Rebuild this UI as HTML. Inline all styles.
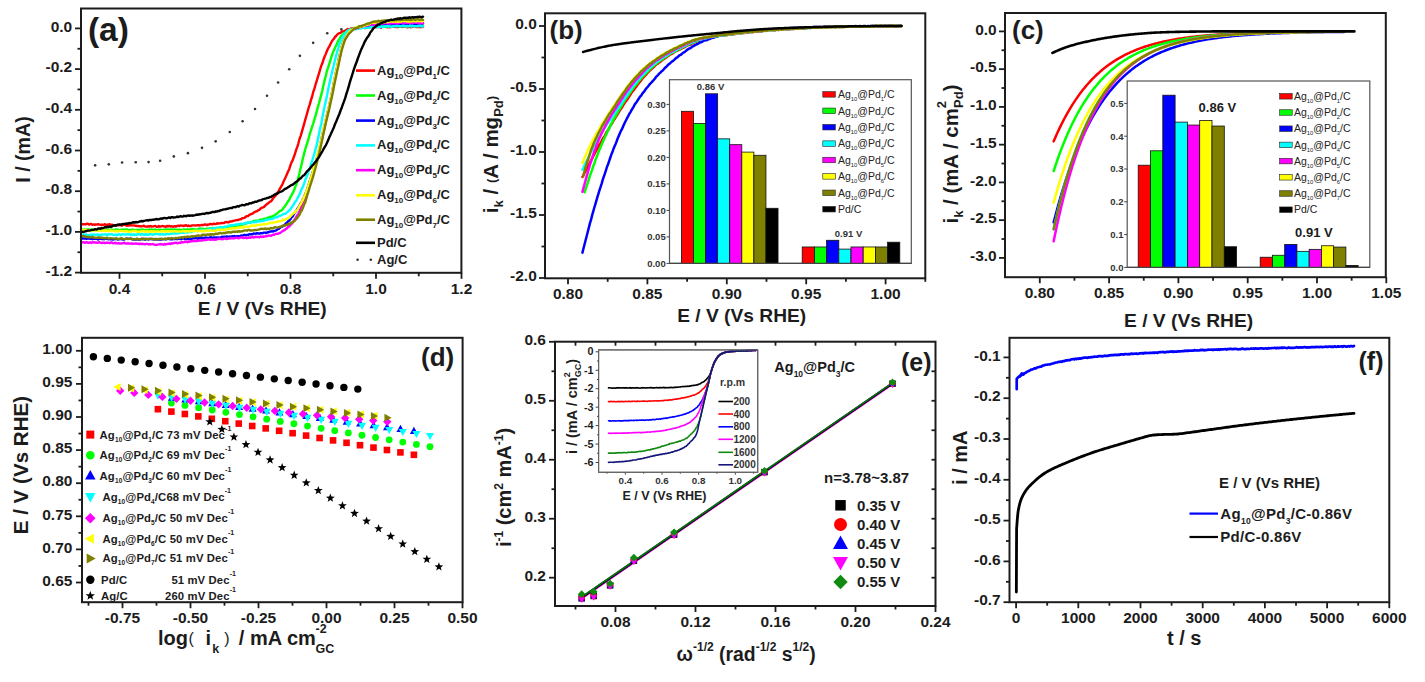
<!DOCTYPE html>
<html><head><meta charset="utf-8"><style>
html,body{margin:0;padding:0;background:#fff;}
svg{display:block;font-family:"Liberation Sans",sans-serif;}
</style></head><body>
<svg width="1425" height="682" viewBox="0 0 1425 682">
<rect width="1425" height="682" fill="#fff"/>
<circle cx="95.13" cy="165.36" r="1.3" fill="#333"/>
<circle cx="108.81" cy="164.34" r="1.3" fill="#333"/>
<circle cx="122.06" cy="162.51" r="1.3" fill="#333"/>
<circle cx="135.75" cy="162.3" r="1.3" fill="#333"/>
<circle cx="148.57" cy="162.1" r="1.3" fill="#333"/>
<circle cx="160.11" cy="160.68" r="1.3" fill="#333"/>
<circle cx="173.79" cy="156.4" r="1.3" fill="#333"/>
<circle cx="187.9" cy="153.15" r="1.3" fill="#333"/>
<circle cx="202.01" cy="147.85" r="1.3" fill="#333"/>
<circle cx="215.69" cy="141.34" r="1.3" fill="#333"/>
<circle cx="229.8" cy="131.98" r="1.3" fill="#333"/>
<circle cx="242.62" cy="121.2" r="1.3" fill="#333"/>
<circle cx="255.02" cy="108.99" r="1.3" fill="#333"/>
<circle cx="266.99" cy="95.76" r="1.3" fill="#333"/>
<circle cx="278.1" cy="82.53" r="1.3" fill="#333"/>
<circle cx="289.22" cy="69.3" r="1.3" fill="#333"/>
<circle cx="299.9" cy="55.87" r="1.3" fill="#333"/>
<circle cx="313.16" cy="42.85" r="1.3" fill="#333"/>
<circle cx="327.26" cy="33.28" r="1.3" fill="#333"/>
<circle cx="341.37" cy="29.42" r="1.3" fill="#333"/>
<circle cx="354.62" cy="27.99" r="1.3" fill="#333"/>
<circle cx="367.88" cy="27.59" r="1.3" fill="#333"/>
<circle cx="381.13" cy="27.59" r="1.3" fill="#333"/>
<path d="M81.02,223.9 L82.17,224.23 L83.31,224.07 L84.46,224.32 L85.6,224.36 L86.74,223.82 L87.89,223.79 L89.03,224.63 L90.18,224.07 L91.32,224.07 L92.46,224.85 L93.61,224.35 L94.75,224.74 L95.89,224.4 L97.04,224.58 L98.18,224.12 L99.33,224.63 L100.47,224.89 L101.61,224.57 L102.76,224.81 L103.9,224.77 L105.05,224.18 L106.19,224.91 L107.33,224.76 L108.48,224.5 L109.62,224.26 L110.76,225.12 L111.91,224.76 L113.05,225.03 L114.2,225.22 L115.34,225.09 L116.48,225.32 L117.63,224.83 L118.77,225.26 L119.91,224.94 L121.06,225.46 L122.2,225.44 L123.35,224.7 L124.49,224.78 L125.63,224.91 L126.78,225.7 L127.92,225.22 L129.07,225.46 L130.21,225.19 L131.35,225.45 L132.5,225.38 L133.64,225.4 L134.78,225.69 L135.93,225.74 L137.07,226.12 L138.22,225.95 L139.36,226.25 L140.5,226.23 L141.65,226.42 L142.79,226.15 L143.93,225.69 L145.08,226.44 L146.22,226.59 L147.37,226.57 L148.51,226.27 L149.65,226.46 L150.8,225.99 L151.94,226.64 L153.09,226.41 L154.23,226.14 L155.37,225.94 L156.52,226.74 L157.66,226.89 L158.8,225.99 L159.95,226.71 L161.09,226.31 L162.24,226.05 L163.38,226.18 L164.52,226.65 L165.67,226.74 L166.81,225.89 L167.95,226.45 L169.1,225.86 L170.24,226.51 L171.39,226.09 L172.53,226.62 L173.67,226.69 L174.82,226.18 L175.96,226.64 L177.11,225.92 L178.25,225.65 L179.39,226.13 L180.54,225.52 L181.68,225.64 L182.82,225.81 L183.97,225.97 L185.11,225.47 L186.26,225.3 L187.4,226.08 L188.54,225.47 L189.69,226.06 L190.83,225.95 L191.97,225.37 L193.12,225.4 L194.26,225.4 L195.41,225.46 L196.55,225.35 L197.69,225.25 L198.84,225.25 L199.98,225.51 L201.13,225.01 L202.27,224.87 L203.41,225.09 L204.56,224.54 L205.7,224.54 L206.84,225.14 L207.99,224.6 L209.13,224.54 L210.28,223.91 L211.42,224.21 L212.56,224.27 L213.71,223.59 L214.85,224.07 L215.99,223.95 L217.14,223.25 L218.28,223.67 L219.43,223.36 L220.57,223.42 L221.71,222.93 L222.86,223.11 L224,222.97 L225.15,222.07 L226.29,221.91 L227.43,222.33 L228.58,222.41 L229.72,221.49 L230.86,221.47 L232.01,221.38 L233.15,220.87 L234.3,220.68 L235.44,220.37 L236.58,220.17 L237.73,220.14 L238.87,219.56 L240.01,219.3 L241.16,219.29 L242.3,218.09 L243.45,218.13 L244.59,217.77 L245.73,216.78 L246.88,216.12 L248.02,216.12 L249.17,214.97 L250.31,214.35 L251.45,214.01 L252.6,213.68 L253.74,212.46 L254.88,212.04 L256.03,211.39 L257.17,211.21 L258.32,210.12 L259.46,209.82 L260.6,208.4 L261.75,207.83 L262.89,207.4 L264.04,206.87 L265.18,205.64 L266.32,204.58 L267.47,203.6 L268.61,203.08 L269.75,201.75 L270.9,201.29 L272.04,200.14 L273.19,198.2 L274.33,196.89 L275.47,195.93 L276.62,194.18 L277.76,192.67 L278.9,190.46 L280.05,188.31 L281.19,186.36 L282.34,184.6 L283.48,181.72 L284.62,179.35 L285.77,176.89 L286.91,174.26 L288.06,171.52 L289.2,169.22 L290.34,165.56 L291.49,162.43 L292.63,160.31 L293.77,157.12 L294.92,154.03 L296.06,150.17 L297.21,147.19 L298.35,143.52 L299.49,139.07 L300.64,135.79 L301.78,132.06 L302.92,128.08 L304.07,124.07 L305.21,119.91 L306.36,115.99 L307.5,111.9 L308.64,107.76 L309.79,104.33 L310.93,100.12 L312.08,96.74 L313.22,92.01 L314.36,88.89 L315.51,84.72 L316.65,81.06 L317.79,77.23 L318.94,73.58 L320.08,69.77 L321.23,65.88 L322.37,63.31 L323.51,59.49 L324.66,56.49 L325.8,53.87 L326.94,50.97 L328.09,48.36 L329.23,46.68 L330.38,44.29 L331.52,42.02 L332.66,40.05 L333.81,38.94 L334.95,37.02 L336.1,36.02 L337.24,34.57 L338.38,33.61 L339.53,33.21 L340.67,32.79 L341.81,31.5 L342.96,31.53 L344.1,31.13 L345.25,30.55 L346.39,30.15 L347.53,29 L348.68,29.35 L349.82,29.39 L350.96,28.43 L352.11,28.5 L353.25,28.37 L354.4,28.5 L355.54,28.27 L356.68,28.21 L357.83,28.4 L358.97,27.53 L360.12,27.48 L361.26,27.47 L362.4,27.38 L363.55,27.25 L364.69,28.08 L365.83,27.89 L366.98,27.06 L368.12,27.43 L369.27,27.19 L370.41,27.14 L371.55,27.14 L372.7,27.4 L373.84,27.31 L374.98,27.06 L376.13,26.87 L377.27,26.99 L378.42,26.76 L379.56,27.18 L380.7,27.32 L381.85,26.97 L382.99,26.65 L384.14,26.73 L385.28,26.91 L386.42,27.13 L387.57,27.29 L388.71,26.87 L389.85,27.28 L391,27.09 L392.14,26.88 L393.29,26.81 L394.43,26.92 L395.57,27.12 L396.72,26.82 L397.86,27.09 L399,26.84 L400.15,26.62 L401.29,26.9 L402.44,27.05 L403.58,26.42 L404.72,26.76 L405.87,26.75 L407.01,27.2 L408.16,27.25 L409.3,26.68 L410.44,27.2 L411.59,27.09 L412.73,26.55 L413.87,26.75 L415.02,26.41 L416.16,27.09 L417.31,26.94 L418.45,27.16 L419.59,27.07 L420.74,26.94 L421.88,27.01 L423.03,26.84" fill="none" stroke="#ff0000" stroke-width="2.4" stroke-linejoin="round" stroke-linecap="round"/>
<path d="M81.02,229.47 L82.17,229.95 L83.31,229.37 L84.46,229.51 L85.6,230.14 L86.74,229.41 L87.89,229.46 L89.03,229.46 L90.18,230.25 L91.32,229.54 L92.46,229.39 L93.61,230.21 L94.75,229.49 L95.89,230.21 L97.04,230.04 L98.18,230.2 L99.33,230.32 L100.47,229.94 L101.61,230.16 L102.76,229.4 L103.9,230.13 L105.05,229.88 L106.19,230.08 L107.33,229.47 L108.48,230.11 L109.62,230.3 L110.76,229.43 L111.91,229.69 L113.05,229.93 L114.2,230.19 L115.34,229.61 L116.48,229.54 L117.63,229.61 L118.77,229.98 L119.91,230.12 L121.06,229.76 L122.2,229.73 L123.35,229.76 L124.49,229.72 L125.63,229.78 L126.78,229.45 L127.92,229.87 L129.07,230.34 L130.21,229.78 L131.35,230.11 L132.5,229.53 L133.64,230.06 L134.78,230.12 L135.93,230.04 L137.07,229.88 L138.22,229.85 L139.36,230.01 L140.5,230.26 L141.65,229.51 L142.79,229.46 L143.93,230.11 L145.08,230.28 L146.22,229.88 L147.37,229.81 L148.51,230.08 L149.65,229.55 L150.8,229.63 L151.94,229.56 L153.09,229.95 L154.23,229.68 L155.37,229.6 L156.52,230.06 L157.66,230.32 L158.8,229.66 L159.95,230.07 L161.09,229.77 L162.24,230.21 L163.38,229.93 L164.52,229.61 L165.67,229.55 L166.81,229.34 L167.95,229.79 L169.1,229.68 L170.24,229.45 L171.39,229.63 L172.53,229.57 L173.67,230 L174.82,229.35 L175.96,230.18 L177.11,229.65 L178.25,229.74 L179.39,229.59 L180.54,229.93 L181.68,229.89 L182.82,229.6 L183.97,229.5 L185.11,229.71 L186.26,229.81 L187.4,229.32 L188.54,229.63 L189.69,229.82 L190.83,229.29 L191.97,229.02 L193.12,228.99 L194.26,229.44 L195.41,229.36 L196.55,229.6 L197.69,229.46 L198.84,228.81 L199.98,228.72 L201.13,228.75 L202.27,228.63 L203.41,229.11 L204.56,229.22 L205.7,229.22 L206.84,228.53 L207.99,229.08 L209.13,228.47 L210.28,228.51 L211.42,228.75 L212.56,228.03 L213.71,227.95 L214.85,228.61 L215.99,227.97 L217.14,227.94 L218.28,228.06 L219.43,228.05 L220.57,227.26 L221.71,227.47 L222.86,227.45 L224,227.37 L225.15,226.96 L226.29,227.2 L227.43,227.43 L228.58,226.72 L229.72,226.72 L230.86,226.14 L232.01,226.13 L233.15,226.36 L234.3,225.64 L235.44,226.24 L236.58,226.08 L237.73,225.09 L238.87,225.74 L240.01,224.94 L241.16,225.06 L242.3,224.73 L243.45,223.93 L244.59,223.95 L245.73,223.57 L246.88,223.36 L248.02,222.47 L249.17,222.62 L250.31,222.52 L251.45,221.94 L252.6,221.53 L253.74,220.85 L254.88,220.98 L256.03,220.6 L257.17,220.72 L258.32,220.45 L259.46,220.1 L260.6,219.47 L261.75,219.68 L262.89,219.4 L264.04,218.68 L265.18,219.09 L266.32,218.55 L267.47,217.68 L268.61,218.13 L269.75,216.95 L270.9,216.72 L272.04,216.63 L273.19,215.97 L274.33,215.33 L275.47,214.76 L276.62,213.84 L277.76,212.92 L278.9,211.94 L280.05,210.93 L281.19,210.6 L282.34,209.52 L283.48,208.02 L284.62,206.77 L285.77,204.82 L286.91,203.04 L288.06,201.37 L289.2,200 L290.34,197.24 L291.49,195.61 L292.63,193.07 L293.77,191.09 L294.92,187.93 L296.06,184.92 L297.21,181.5 L298.35,177.55 L299.49,173.26 L300.64,168.07 L301.78,163.71 L302.92,158.22 L304.07,153.87 L305.21,149.54 L306.36,145.53 L307.5,142.27 L308.64,138.38 L309.79,134.04 L310.93,130.3 L312.08,126.79 L313.22,123.37 L314.36,119.67 L315.51,115.79 L316.65,111.75 L317.79,107.34 L318.94,103.51 L320.08,99.09 L321.23,94.92 L322.37,90.19 L323.51,84.93 L324.66,80.11 L325.8,75.96 L326.94,70.84 L328.09,67.68 L329.23,64.02 L330.38,60.47 L331.52,56.46 L332.66,53.4 L333.81,50.44 L334.95,47.79 L336.1,45.7 L337.24,43.05 L338.38,40.41 L339.53,38.92 L340.67,36.75 L341.81,35.42 L342.96,34.49 L344.1,32.87 L345.25,32.81 L346.39,31.93 L347.53,31.07 L348.68,30.47 L349.82,29.85 L350.96,29.1 L352.11,29.03 L353.25,28.21 L354.4,28.44 L355.54,28.41 L356.68,28.04 L357.83,28 L358.97,28.25 L360.12,28.04 L361.26,27.15 L362.4,27.69 L363.55,27.41 L364.69,26.73 L365.83,26.95 L366.98,26.73 L368.12,26.5 L369.27,26.89 L370.41,27.21 L371.55,26.55 L372.7,27.05 L373.84,26.83 L374.98,26.23 L376.13,26.92 L377.27,26.64 L378.42,26.94 L379.56,26.7 L380.7,26.7 L381.85,26.27 L382.99,26.71 L384.14,26.81 L385.28,26.72 L386.42,26.27 L387.57,26.57 L388.71,26.28 L389.85,25.88 L391,25.79 L392.14,25.81 L393.29,25.91 L394.43,25.85 L395.57,26.17 L396.72,26.36 L397.86,26.18 L399,26.05 L400.15,26.26 L401.29,25.9 L402.44,26.05 L403.58,26.32 L404.72,25.96 L405.87,25.72 L407.01,26.43 L408.16,26.24 L409.3,25.88 L410.44,25.88 L411.59,26.03 L412.73,26.09 L413.87,25.71 L415.02,25.48 L416.16,25.68 L417.31,26.25 L418.45,25.61 L419.59,25.92 L420.74,25.65 L421.88,25.67 L423.03,25.63" fill="none" stroke="#00ff00" stroke-width="2.4" stroke-linejoin="round" stroke-linecap="round"/>
<path d="M81.02,238.72 L82.17,238.51 L83.31,238.38 L84.46,238.48 L85.6,238.56 L86.74,238.89 L87.89,238.48 L89.03,238.46 L90.18,238.9 L91.32,238.87 L92.46,239.18 L93.61,238.54 L94.75,238.9 L95.89,238.91 L97.04,238.55 L98.18,239.5 L99.33,238.76 L100.47,238.65 L101.61,239.04 L102.76,238.74 L103.9,239.21 L105.05,238.94 L106.19,238.73 L107.33,238.66 L108.48,239.35 L109.62,238.9 L110.76,239.42 L111.91,239.1 L113.05,239.58 L114.2,238.95 L115.34,238.91 L116.48,238.93 L117.63,239.48 L118.77,239.3 L119.91,239.02 L121.06,238.77 L122.2,239.37 L123.35,239.66 L124.49,239.28 L125.63,238.7 L126.78,238.73 L127.92,238.79 L129.07,238.87 L130.21,238.74 L131.35,238.76 L132.5,239.37 L133.64,239.61 L134.78,238.92 L135.93,239.69 L137.07,239.19 L138.22,239.52 L139.36,239.64 L140.5,239.66 L141.65,238.76 L142.79,239.03 L143.93,239.33 L145.08,239.67 L146.22,238.81 L147.37,239.02 L148.51,239.58 L149.65,238.84 L150.8,239.12 L151.94,239.06 L153.09,239.41 L154.23,239.65 L155.37,238.9 L156.52,239.47 L157.66,239.46 L158.8,239.56 L159.95,239.28 L161.09,239.64 L162.24,239.07 L163.38,239.12 L164.52,238.92 L165.67,239.46 L166.81,239.14 L167.95,238.92 L169.1,238.8 L170.24,239.33 L171.39,239.19 L172.53,239.27 L173.67,238.93 L174.82,239 L175.96,238.64 L177.11,239.17 L178.25,238.45 L179.39,238.86 L180.54,239.12 L181.68,239.01 L182.82,238.39 L183.97,238.5 L185.11,239.07 L186.26,238.83 L187.4,239.03 L188.54,238.98 L189.69,238.52 L190.83,238.93 L191.97,238.72 L193.12,238.28 L194.26,238.28 L195.41,237.94 L196.55,238.22 L197.69,238.73 L198.84,237.84 L199.98,238.26 L201.13,237.76 L202.27,237.69 L203.41,238.21 L204.56,237.76 L205.7,237.53 L206.84,237.59 L207.99,238.03 L209.13,237.93 L210.28,237.3 L211.42,237.47 L212.56,238.16 L213.71,237.36 L214.85,237.64 L215.99,237.44 L217.14,237.75 L218.28,237.51 L219.43,237.63 L220.57,237.31 L221.71,236.9 L222.86,236.82 L224,236.65 L225.15,237.32 L226.29,236.53 L227.43,236.36 L228.58,237.23 L229.72,236.38 L230.86,236.98 L232.01,236.09 L233.15,236.38 L234.3,236.04 L235.44,236.55 L236.58,236.24 L237.73,236.17 L238.87,236.18 L240.01,236.17 L241.16,235.5 L242.3,235.6 L243.45,235.27 L244.59,234.76 L245.73,235.31 L246.88,234.89 L248.02,234.94 L249.17,234.16 L250.31,234.34 L251.45,234.13 L252.6,234.27 L253.74,233.5 L254.88,233.65 L256.03,233.68 L257.17,233.16 L258.32,233.54 L259.46,233.62 L260.6,233.2 L261.75,233.31 L262.89,233.14 L264.04,232.62 L265.18,232.61 L266.32,233.1 L267.47,232.27 L268.61,232.18 L269.75,231.63 L270.9,231.53 L272.04,231.17 L273.19,231.55 L274.33,230.9 L275.47,230.53 L276.62,230.08 L277.76,229.09 L278.9,228.77 L280.05,227.7 L281.19,226.89 L282.34,226.67 L283.48,225.78 L284.62,224.92 L285.77,223.47 L286.91,222.7 L288.06,221.22 L289.2,220.63 L290.34,219.32 L291.49,217.4 L292.63,216.56 L293.77,214.15 L294.92,212.31 L296.06,211.15 L297.21,208.96 L298.35,207.43 L299.49,205.74 L300.64,203.26 L301.78,201.95 L302.92,199.29 L304.07,197.03 L305.21,194.17 L306.36,191.54 L307.5,188.34 L308.64,184.58 L309.79,181.03 L310.93,177.76 L312.08,174.29 L313.22,170.25 L314.36,166.51 L315.51,163.17 L316.65,159.03 L317.79,155.08 L318.94,150.67 L320.08,145.77 L321.23,140.21 L322.37,134.82 L323.51,129.8 L324.66,124.94 L325.8,120.16 L326.94,115.39 L328.09,110.4 L329.23,105.97 L330.38,100.26 L331.52,94.9 L332.66,89.41 L333.81,83.34 L334.95,77.03 L336.1,71.64 L337.24,66.88 L338.38,60.68 L339.53,55.52 L340.67,50.99 L341.81,46.61 L342.96,42.62 L344.1,39.84 L345.25,37.82 L346.39,36.39 L347.53,34.28 L348.68,33.22 L349.82,31.69 L350.96,30.83 L352.11,29.13 L353.25,28.79 L354.4,28.21 L355.54,28.28 L356.68,27.89 L357.83,27.34 L358.97,27.6 L360.12,26.93 L361.26,26.94 L362.4,26.67 L363.55,27 L364.69,26.39 L365.83,26 L366.98,25.56 L368.12,25.72 L369.27,25.71 L370.41,25.56 L371.55,25.62 L372.7,25.35 L373.84,24.66 L374.98,24.44 L376.13,24.99 L377.27,24.96 L378.42,24.62 L379.56,24.89 L380.7,24.56 L381.85,24.23 L382.99,24.07 L384.14,23.87 L385.28,24.45 L386.42,24.65 L387.57,24.62 L388.71,24.14 L389.85,24.29 L391,24.51 L392.14,24.36 L393.29,24.11 L394.43,23.88 L395.57,23.95 L396.72,23.57 L397.86,23.55 L399,24.02 L400.15,24.3 L401.29,23.83 L402.44,23.66 L403.58,23.58 L404.72,23.66 L405.87,23.98 L407.01,23.61 L408.16,24.1 L409.3,23.28 L410.44,23.42 L411.59,23.61 L412.73,23.49 L413.87,23.91 L415.02,23.88 L416.16,23.97 L417.31,23.65 L418.45,23.06 L419.59,23.6 L420.74,23.57 L421.88,23.5 L423.03,23.3" fill="none" stroke="#0000ff" stroke-width="2.4" stroke-linejoin="round" stroke-linecap="round"/>
<path d="M81.02,234.96 L82.17,235.16 L83.31,234.35 L84.46,234.92 L85.6,234.62 L86.74,234.76 L87.89,235.14 L89.03,235.21 L90.18,234.89 L91.32,234.44 L92.46,235.16 L93.61,234.42 L94.75,234.62 L95.89,235.06 L97.04,234.55 L98.18,234.5 L99.33,235.18 L100.47,235.17 L101.61,234.54 L102.76,234.61 L103.9,234.5 L105.05,234.34 L106.19,234.46 L107.33,235.18 L108.48,234.28 L109.62,234.42 L110.76,234.39 L111.91,234.26 L113.05,234.71 L114.2,234.92 L115.34,235.01 L116.48,234.8 L117.63,234.98 L118.77,234.16 L119.91,234.43 L121.06,235.1 L122.2,234.2 L123.35,234.4 L124.49,234.6 L125.63,234.38 L126.78,234.65 L127.92,234.15 L129.07,234.33 L130.21,235.04 L131.35,234.22 L132.5,234.97 L133.64,234.24 L134.78,235.05 L135.93,234.72 L137.07,234.68 L138.22,234.17 L139.36,234.07 L140.5,234.77 L141.65,234.17 L142.79,234.18 L143.93,234.8 L145.08,234.84 L146.22,234.01 L147.37,234.91 L148.51,234.47 L149.65,234.31 L150.8,234.02 L151.94,234.29 L153.09,234.88 L154.23,234.16 L155.37,234 L156.52,234 L157.66,233.97 L158.8,234.18 L159.95,234.72 L161.09,233.86 L162.24,233.94 L163.38,234.64 L164.52,234.65 L165.67,234.57 L166.81,233.78 L167.95,233.82 L169.1,234.34 L170.24,233.79 L171.39,233.93 L172.53,233.45 L173.67,233.06 L174.82,233.28 L175.96,233.58 L177.11,233.51 L178.25,233.18 L179.39,232.96 L180.54,232.91 L181.68,232.69 L182.82,232.66 L183.97,232.83 L185.11,232.06 L186.26,232.32 L187.4,232.52 L188.54,232.3 L189.69,231.49 L190.83,232.13 L191.97,231.86 L193.12,231.05 L194.26,231 L195.41,230.79 L196.55,230.49 L197.69,231.27 L198.84,230.56 L199.98,230.87 L201.13,229.97 L202.27,229.72 L203.41,230.43 L204.56,230.21 L205.7,230.27 L206.84,229.81 L207.99,229.49 L209.13,229.57 L210.28,228.73 L211.42,229 L212.56,228.72 L213.71,228.23 L214.85,228.5 L215.99,228.02 L217.14,228.01 L218.28,227.67 L219.43,227.41 L220.57,227.24 L221.71,227.28 L222.86,227.44 L224,227.19 L225.15,226.9 L226.29,226.66 L227.43,225.9 L228.58,226.37 L229.72,225.46 L230.86,225.1 L232.01,225.27 L233.15,225.29 L234.3,224.7 L235.44,224.8 L236.58,224.24 L237.73,224.74 L238.87,224.03 L240.01,223.88 L241.16,223.76 L242.3,223.93 L243.45,223.88 L244.59,223.26 L245.73,223.02 L246.88,223.04 L248.02,222.34 L249.17,222.54 L250.31,222.82 L251.45,222.6 L252.6,221.73 L253.74,222.37 L254.88,221.74 L256.03,222.18 L257.17,221.4 L258.32,221.08 L259.46,221.24 L260.6,221.4 L261.75,220.76 L262.89,221 L264.04,220.64 L265.18,220.07 L266.32,219.79 L267.47,219.76 L268.61,219.41 L269.75,219.13 L270.9,219.13 L272.04,219.07 L273.19,218.47 L274.33,217.7 L275.47,217.43 L276.62,217.2 L277.76,217.03 L278.9,216.12 L280.05,215.58 L281.19,215.31 L282.34,214.73 L283.48,213.89 L284.62,213.76 L285.77,213.47 L286.91,212.29 L288.06,211.52 L289.2,210.47 L290.34,209.18 L291.49,207.82 L292.63,205.81 L293.77,204.42 L294.92,202.14 L296.06,201.14 L297.21,198.72 L298.35,196.65 L299.49,194.67 L300.64,191.5 L301.78,188.72 L302.92,186.6 L304.07,183.58 L305.21,180.22 L306.36,177.22 L307.5,174.52 L308.64,171.03 L309.79,168.59 L310.93,164.53 L312.08,161.05 L313.22,157.43 L314.36,153.63 L315.51,149.34 L316.65,144.88 L317.79,139.89 L318.94,134.35 L320.08,128.49 L321.23,123.72 L322.37,117.72 L323.51,111.43 L324.66,106.21 L325.8,101.12 L326.94,96.06 L328.09,89.73 L329.23,84.26 L330.38,79.4 L331.52,74.2 L332.66,69.81 L333.81,65.19 L334.95,60.13 L336.1,55.7 L337.24,51.54 L338.38,47.87 L339.53,43.71 L340.67,41.07 L341.81,38.49 L342.96,36.9 L344.1,34.32 L345.25,33.52 L346.39,31.74 L347.53,30.84 L348.68,29.86 L349.82,29.66 L350.96,29.6 L352.11,29.74 L353.25,29.21 L354.4,28.77 L355.54,29.31 L356.68,28.84 L357.83,28.56 L358.97,28.09 L360.12,28.04 L361.26,28.49 L362.4,27.58 L363.55,27.84 L364.69,27.79 L365.83,27.39 L366.98,27.68 L368.12,27.7 L369.27,27.54 L370.41,27.32 L371.55,26.7 L372.7,26.48 L373.84,26.79 L374.98,26.62 L376.13,26.46 L377.27,27.11 L378.42,26.43 L379.56,27.01 L380.7,27.09 L381.85,26.25 L382.99,27.02 L384.14,26.48 L385.28,26.27 L386.42,26.22 L387.57,26.05 L388.71,26.49 L389.85,26.35 L391,26.8 L392.14,26.76 L393.29,25.96 L394.43,26.29 L395.57,26.26 L396.72,26.03 L397.86,26.09 L399,26.08 L400.15,26.5 L401.29,26.13 L402.44,25.89 L403.58,25.99 L404.72,26.2 L405.87,26.31 L407.01,25.98 L408.16,26.42 L409.3,25.93 L410.44,26.38 L411.59,26.31 L412.73,25.87 L413.87,26.44 L415.02,26.07 L416.16,26.21 L417.31,26.27 L418.45,26.3 L419.59,26.11 L420.74,25.72 L421.88,26.45 L423.03,26.52" fill="none" stroke="#00ffff" stroke-width="2.4" stroke-linejoin="round" stroke-linecap="round"/>
<path d="M81.02,242.27 L82.17,242.37 L83.31,242.08 L84.46,242.73 L85.6,242.53 L86.74,242.08 L87.89,242.7 L89.03,242.89 L90.18,242.27 L91.32,242.94 L92.46,242.45 L93.61,242.16 L94.75,242.72 L95.89,242.37 L97.04,242.78 L98.18,242.66 L99.33,242.21 L100.47,242.65 L101.61,243 L102.76,242.65 L103.9,242.74 L105.05,243.09 L106.19,242.7 L107.33,242.77 L108.48,242.89 L109.62,243.16 L110.76,242.57 L111.91,242.49 L113.05,243.18 L114.2,243.01 L115.34,242.78 L116.48,243.4 L117.63,243.43 L118.77,243.11 L119.91,243.59 L121.06,243.47 L122.2,243.42 L123.35,243.01 L124.49,242.77 L125.63,243.48 L126.78,243.59 L127.92,243.26 L129.07,243.44 L130.21,243.58 L131.35,243.32 L132.5,243.82 L133.64,243.74 L134.78,243.62 L135.93,243.4 L137.07,243.91 L138.22,243.73 L139.36,244.19 L140.5,243.69 L141.65,243.97 L142.79,243.82 L143.93,244.08 L145.08,244.3 L146.22,243.87 L147.37,243.86 L148.51,244.33 L149.65,244.09 L150.8,244.42 L151.94,244.11 L153.09,244.07 L154.23,244.53 L155.37,244.93 L156.52,244.88 L157.66,244.53 L158.8,244.41 L159.95,244.06 L161.09,244.23 L162.24,244.21 L163.38,244.76 L164.52,243.86 L165.67,244.59 L166.81,244.01 L167.95,243.86 L169.1,243.56 L170.24,244.13 L171.39,243.22 L172.53,243.46 L173.67,243.26 L174.82,242.8 L175.96,242.68 L177.11,243.3 L178.25,242.96 L179.39,242.77 L180.54,242.8 L181.68,241.87 L182.82,242.36 L183.97,242.29 L185.11,241.66 L186.26,241.78 L187.4,242.18 L188.54,241.42 L189.69,241.74 L190.83,241.02 L191.97,241.41 L193.12,240.89 L194.26,241.02 L195.41,240.77 L196.55,241.15 L197.69,240.92 L198.84,240.57 L199.98,240.65 L201.13,240.29 L202.27,240.56 L203.41,239.92 L204.56,240.12 L205.7,240.07 L206.84,239.79 L207.99,239.36 L209.13,239.4 L210.28,239.79 L211.42,239.28 L212.56,239.75 L213.71,239.41 L214.85,239.78 L215.99,239.6 L217.14,239.4 L218.28,238.97 L219.43,238.57 L220.57,239.01 L221.71,239.13 L222.86,239.23 L224,238.45 L225.15,238.33 L226.29,239.09 L227.43,238.78 L228.58,238.47 L229.72,238.66 L230.86,238.01 L232.01,238.34 L233.15,238.41 L234.3,238.29 L235.44,237.8 L236.58,237.72 L237.73,238.16 L238.87,238.37 L240.01,237.58 L241.16,237.41 L242.3,237.45 L243.45,238.12 L244.59,237.69 L245.73,237.72 L246.88,238.22 L248.02,237.8 L249.17,237.4 L250.31,237.78 L251.45,237.02 L252.6,237.24 L253.74,237.58 L254.88,236.98 L256.03,236.76 L257.17,237.15 L258.32,236.86 L259.46,237.4 L260.6,236.42 L261.75,237.01 L262.89,236.47 L264.04,236.76 L265.18,236.26 L266.32,236.33 L267.47,235.84 L268.61,235.57 L269.75,235.63 L270.9,235.8 L272.04,235.13 L273.19,234.77 L274.33,234.68 L275.47,234.04 L276.62,233.91 L277.76,233.78 L278.9,233.33 L280.05,232.92 L281.19,232.12 L282.34,231.25 L283.48,230.54 L284.62,230.04 L285.77,228.99 L286.91,228.37 L288.06,227.01 L289.2,226.39 L290.34,225.06 L291.49,223.91 L292.63,222.66 L293.77,220.98 L294.92,219.27 L296.06,217.4 L297.21,215.26 L298.35,213.96 L299.49,211.29 L300.64,208.16 L301.78,206.04 L302.92,202.71 L304.07,199.83 L305.21,196.72 L306.36,193.42 L307.5,191.2 L308.64,187.12 L309.79,183.88 L310.93,180.95 L312.08,176.37 L313.22,172.92 L314.36,168.94 L315.51,164.63 L316.65,161.09 L317.79,156.24 L318.94,151.36 L320.08,147.03 L321.23,141.46 L322.37,136.91 L323.51,131.79 L324.66,126.67 L325.8,120.84 L326.94,116.56 L328.09,111.3 L329.23,106.51 L330.38,101.24 L331.52,95.91 L332.66,90.11 L333.81,84.89 L334.95,78.73 L336.1,74.29 L337.24,68.2 L338.38,63.75 L339.53,57.63 L340.67,52.41 L341.81,48.43 L342.96,44.25 L344.1,41.43 L345.25,38.92 L346.39,37 L347.53,34.6 L348.68,33.55 L349.82,31.97 L350.96,31.25 L352.11,29.39 L353.25,28.82 L354.4,28.93 L355.54,28.74 L356.68,27.87 L357.83,27.83 L358.97,27.38 L360.12,26.94 L361.26,26.76 L362.4,26.64 L363.55,25.81 L364.69,25.81 L365.83,25.96 L366.98,25.21 L368.12,25.15 L369.27,24.68 L370.41,24.54 L371.55,24.62 L372.7,24.52 L373.84,24.57 L374.98,23.97 L376.13,23.62 L377.27,23.69 L378.42,23.36 L379.56,23.48 L380.7,23.77 L381.85,23.74 L382.99,23.32 L384.14,23.21 L385.28,23.08 L386.42,23.11 L387.57,23.39 L388.71,23.1 L389.85,23.68 L391,23.32 L392.14,23.06 L393.29,23.11 L394.43,22.68 L395.57,23.34 L396.72,23.33 L397.86,22.91 L399,23.24 L400.15,22.75 L401.29,22.67 L402.44,22.66 L403.58,22.6 L404.72,22.99 L405.87,23 L407.01,23.07 L408.16,22.42 L409.3,23.07 L410.44,22.76 L411.59,22.65 L412.73,22.76 L413.87,22.68 L415.02,22.44 L416.16,22.62 L417.31,22.87 L418.45,22.93 L419.59,23.12 L420.74,22.4 L421.88,23.09 L423.03,23" fill="none" stroke="#ff00ff" stroke-width="2.4" stroke-linejoin="round" stroke-linecap="round"/>
<path d="M81.02,230.08 L82.17,230.39 L83.31,229.6 L84.46,230.28 L85.6,230.45 L86.74,229.72 L87.89,230.24 L89.03,230.63 L90.18,230.02 L91.32,230.63 L92.46,230.72 L93.61,230.29 L94.75,230.04 L95.89,230.15 L97.04,230.8 L98.18,230.43 L99.33,230.36 L100.47,230.53 L101.61,231.05 L102.76,230.41 L103.9,230.21 L105.05,231.17 L106.19,230.57 L107.33,230.67 L108.48,231.3 L109.62,230.63 L110.76,230.47 L111.91,231.3 L113.05,230.68 L114.2,230.69 L115.34,231.43 L116.48,230.75 L117.63,231.45 L118.77,230.9 L119.91,230.9 L121.06,230.83 L122.2,231.18 L123.35,231.22 L124.49,231.08 L125.63,231.21 L126.78,231.02 L127.92,231.58 L129.07,231.7 L130.21,231.53 L131.35,231.62 L132.5,230.89 L133.64,231.08 L134.78,231.05 L135.93,231.01 L137.07,231.84 L138.22,231.79 L139.36,231.81 L140.5,231.47 L141.65,231.04 L142.79,231.36 L143.93,231 L145.08,231.85 L146.22,231.22 L147.37,231.25 L148.51,231.91 L149.65,231.17 L150.8,231.9 L151.94,231.29 L153.09,231.65 L154.23,231.1 L155.37,231.89 L156.52,231.39 L157.66,231.34 L158.8,231.65 L159.95,231.59 L161.09,231.24 L162.24,231.11 L163.38,231.56 L164.52,231 L165.67,231.85 L166.81,231.31 L167.95,231.13 L169.1,231.28 L170.24,231.06 L171.39,231.25 L172.53,231.47 L173.67,231.32 L174.82,231.24 L175.96,231.19 L177.11,231.37 L178.25,231.65 L179.39,231.29 L180.54,231.61 L181.68,231.31 L182.82,230.93 L183.97,230.96 L185.11,231.62 L186.26,231.24 L187.4,231.12 L188.54,231.24 L189.69,231.55 L190.83,231.05 L191.97,231.02 L193.12,231 L194.26,230.63 L195.41,231.14 L196.55,231.05 L197.69,231.04 L198.84,230.97 L199.98,230.97 L201.13,231.19 L202.27,230.63 L203.41,231.4 L204.56,230.51 L205.7,231.23 L206.84,230.5 L207.99,231.08 L209.13,230.49 L210.28,230.25 L211.42,230.64 L212.56,230.87 L213.71,230.79 L214.85,230.74 L215.99,230.75 L217.14,229.72 L218.28,229.94 L219.43,229.56 L220.57,230.1 L221.71,229.68 L222.86,229.85 L224,229.78 L225.15,229.86 L226.29,229.41 L227.43,229.48 L228.58,229.02 L229.72,228.42 L230.86,229.1 L232.01,228.16 L233.15,228.02 L234.3,228.63 L235.44,227.95 L236.58,228.2 L237.73,227.43 L238.87,227.48 L240.01,227.84 L241.16,227.02 L242.3,227.34 L243.45,227.6 L244.59,226.71 L245.73,227.04 L246.88,226.91 L248.02,226.61 L249.17,226.59 L250.31,226.36 L251.45,225.51 L252.6,225.53 L253.74,225.72 L254.88,226 L256.03,225.09 L257.17,225.31 L258.32,224.7 L259.46,225.26 L260.6,224.7 L261.75,224.61 L262.89,224.59 L264.04,223.89 L265.18,224.3 L266.32,224.19 L267.47,224.06 L268.61,223.28 L269.75,223.02 L270.9,222.74 L272.04,223.25 L273.19,222.56 L274.33,222.29 L275.47,222.18 L276.62,222.1 L277.76,221.46 L278.9,221.19 L280.05,221.32 L281.19,221 L282.34,220.17 L283.48,219.56 L284.62,220 L285.77,219.36 L286.91,218.7 L288.06,217.87 L289.2,217.68 L290.34,216.31 L291.49,215.15 L292.63,214 L293.77,213.15 L294.92,212.22 L296.06,210.74 L297.21,209.94 L298.35,208.01 L299.49,205.98 L300.64,204.16 L301.78,201.93 L302.92,199.65 L304.07,197.09 L305.21,194.36 L306.36,191.31 L307.5,188.44 L308.64,184.49 L309.79,181.67 L310.93,177.64 L312.08,174.53 L313.22,169.96 L314.36,166.45 L315.51,162.36 L316.65,158.47 L317.79,153.67 L318.94,149.25 L320.08,144.3 L321.23,139.69 L322.37,134.57 L323.51,128.89 L324.66,124.11 L325.8,119.33 L326.94,115.34 L328.09,110.05 L329.23,105.25 L330.38,99.87 L331.52,94.75 L332.66,89.08 L333.81,83.05 L334.95,76.69 L336.1,71.85 L337.24,66.6 L338.38,60.75 L339.53,56.22 L340.67,50.8 L341.81,46.38 L342.96,43.08 L344.1,40.37 L345.25,38.13 L346.39,36.53 L347.53,34.43 L348.68,32.7 L349.82,31.1 L350.96,30.51 L352.11,29.5 L353.25,29.07 L354.4,28.37 L355.54,27.6 L356.68,27.26 L357.83,27.04 L358.97,26.67 L360.12,27.14 L361.26,26.58 L362.4,25.92 L363.55,26.05 L364.69,25.6 L365.83,24.63 L366.98,24.91 L368.12,23.97 L369.27,24.34 L370.41,23.1 L371.55,22.9 L372.7,22.56 L373.84,22.93 L374.98,22.71 L376.13,22.37 L377.27,21.87 L378.42,22.09 L379.56,22.3 L380.7,21.6 L381.85,22.41 L382.99,22.28 L384.14,22.31 L385.28,22.03 L386.42,21.9 L387.57,22.21 L388.71,21.46 L389.85,21.45 L391,21.23 L392.14,21.25 L393.29,21.83 L394.43,21.09 L395.57,21.7 L396.72,21.32 L397.86,21.77 L399,21.62 L400.15,21.52 L401.29,21.65 L402.44,20.83 L403.58,21.03 L404.72,21.11 L405.87,21.15 L407.01,21.37 L408.16,21.56 L409.3,21.4 L410.44,21.58 L411.59,21.33 L412.73,20.98 L413.87,21.12 L415.02,21.35 L416.16,21.41 L417.31,20.96 L418.45,20.94 L419.59,21.19 L420.74,20.8 L421.88,21.46 L423.03,20.57" fill="none" stroke="#ffff00" stroke-width="2.4" stroke-linejoin="round" stroke-linecap="round"/>
<path d="M81.02,236.12 L82.17,236.09 L83.31,235.93 L84.46,236.43 L85.6,236.45 L86.74,237.06 L87.89,237.1 L89.03,236.91 L90.18,237.3 L91.32,237.41 L92.46,236.8 L93.61,237.55 L94.75,237.65 L95.89,237.9 L97.04,237.76 L98.18,237.47 L99.33,237.37 L100.47,237.89 L101.61,237.52 L102.76,238.14 L103.9,238.03 L105.05,238.34 L106.19,237.94 L107.33,237.94 L108.48,238.6 L109.62,238.42 L110.76,238.18 L111.91,238.42 L113.05,238.34 L114.2,238.59 L115.34,238.51 L116.48,238.32 L117.63,239.05 L118.77,238.99 L119.91,238.9 L121.06,238.45 L122.2,238.4 L123.35,238.97 L124.49,239.09 L125.63,238.94 L126.78,238.53 L127.92,239.05 L129.07,238.88 L130.21,238.75 L131.35,238.98 L132.5,238.85 L133.64,239.07 L134.78,239.19 L135.93,239.43 L137.07,238.57 L138.22,239.04 L139.36,239.42 L140.5,239.14 L141.65,239.07 L142.79,239.35 L143.93,238.53 L145.08,239.3 L146.22,239.13 L147.37,239.1 L148.51,238.83 L149.65,239.14 L150.8,238.64 L151.94,239.05 L153.09,238.78 L154.23,239.45 L155.37,239.33 L156.52,239 L157.66,239.28 L158.8,238.9 L159.95,239.03 L161.09,238.65 L162.24,239.32 L163.38,239.19 L164.52,239.14 L165.67,238.41 L166.81,239.09 L167.95,238.22 L169.1,238.7 L170.24,238.55 L171.39,238.04 L172.53,238.31 L173.67,238.68 L174.82,238.32 L175.96,237.91 L177.11,238.3 L178.25,237.73 L179.39,238.16 L180.54,237.55 L181.68,237.1 L182.82,237.87 L183.97,236.85 L185.11,236.9 L186.26,237.29 L187.4,236.5 L188.54,236.8 L189.69,236.99 L190.83,236.58 L191.97,236.21 L193.12,236.49 L194.26,236.42 L195.41,236.05 L196.55,235.97 L197.69,235.53 L198.84,235.49 L199.98,235.95 L201.13,235.81 L202.27,234.72 L203.41,234.8 L204.56,234.72 L205.7,235.18 L206.84,234.48 L207.99,234.33 L209.13,234.82 L210.28,234.11 L211.42,234.8 L212.56,234.16 L213.71,234.49 L214.85,234.29 L215.99,233.56 L217.14,234.02 L218.28,233.53 L219.43,233.22 L220.57,232.92 L221.71,233.46 L222.86,233.2 L224,232.82 L225.15,233.23 L226.29,232.47 L227.43,232.59 L228.58,232.11 L229.72,232.26 L230.86,232.67 L232.01,232.16 L233.15,231.69 L234.3,231.66 L235.44,231.94 L236.58,231.46 L237.73,231.94 L238.87,231 L240.01,231.69 L241.16,231.32 L242.3,231.4 L243.45,230.81 L244.59,230.41 L245.73,230.39 L246.88,230.72 L248.02,230 L249.17,229.97 L250.31,230.52 L251.45,230.51 L252.6,230.38 L253.74,230.25 L254.88,229.87 L256.03,230.09 L257.17,229.81 L258.32,229.57 L259.46,229.33 L260.6,228.83 L261.75,228.79 L262.89,228.84 L264.04,228.94 L265.18,228.49 L266.32,229.21 L267.47,228.69 L268.61,228.72 L269.75,228.73 L270.9,227.91 L272.04,228.41 L273.19,228.32 L274.33,227.46 L275.47,227.14 L276.62,227.62 L277.76,227.51 L278.9,227.2 L280.05,226.58 L281.19,226.53 L282.34,225.77 L283.48,225.6 L284.62,225.47 L285.77,225.46 L286.91,224.43 L288.06,224.83 L289.2,223.41 L290.34,223.77 L291.49,222.37 L292.63,222.21 L293.77,221.39 L294.92,220.63 L296.06,219.16 L297.21,218.2 L298.35,216.24 L299.49,214.92 L300.64,212.09 L301.78,210.56 L302.92,207.83 L304.07,204.68 L305.21,202.47 L306.36,198.38 L307.5,194.43 L308.64,190.82 L309.79,186.81 L310.93,183.29 L312.08,179.87 L313.22,176.23 L314.36,171.86 L315.51,167.96 L316.65,163.68 L317.79,159.19 L318.94,154.32 L320.08,149.42 L321.23,144.13 L322.37,139.09 L323.51,133.26 L324.66,128.44 L325.8,122.96 L326.94,118.38 L328.09,113.61 L329.23,108.93 L330.38,103.56 L331.52,98.49 L332.66,93.33 L333.81,86.99 L334.95,81.59 L336.1,76.27 L337.24,70.48 L338.38,65.71 L339.53,59.97 L340.67,55.09 L341.81,49.84 L342.96,45.84 L344.1,42.37 L345.25,39.42 L346.39,37.66 L347.53,35.85 L348.68,34.06 L349.82,32.79 L350.96,31.78 L352.11,30.62 L353.25,29.79 L354.4,28.43 L355.54,28.4 L356.68,27.8 L357.83,27.65 L358.97,26.29 L360.12,26.06 L361.26,26.48 L362.4,25.49 L363.55,25.42 L364.69,24.87 L365.83,24.22 L366.98,23.8 L368.12,23.47 L369.27,23.46 L370.41,22.59 L371.55,22.47 L372.7,21.66 L373.84,21.8 L374.98,21.49 L376.13,21.51 L377.27,21.56 L378.42,20.68 L379.56,21.49 L380.7,21.06 L381.85,20.64 L382.99,20.77 L384.14,20.33 L385.28,20.4 L386.42,20.95 L387.57,20.76 L388.71,20.85 L389.85,20.09 L391,19.98 L392.14,20.2 L393.29,20.27 L394.43,20.43 L395.57,19.97 L396.72,20.37 L397.86,20.17 L399,19.84 L400.15,20.3 L401.29,19.55 L402.44,20.03 L403.58,19.59 L404.72,19.42 L405.87,19.83 L407.01,19.84 L408.16,19.91 L409.3,19.65 L410.44,20.18 L411.59,20.02 L412.73,19.37 L413.87,19.21 L415.02,20.15 L416.16,19.59 L417.31,19.28 L418.45,19.34 L419.59,19.86 L420.74,19.33 L421.88,19.52 L423.03,19.83" fill="none" stroke="#808000" stroke-width="2.4" stroke-linejoin="round" stroke-linecap="round"/>
<path d="M81.02,231.78 L82.17,231.82 L83.31,231.86 L84.46,231.54 L85.6,231.2 L86.74,231 L87.89,230.54 L89.03,230.61 L90.18,230.41 L91.32,230.15 L92.46,229.87 L93.61,229.87 L94.75,229.23 L95.89,229.43 L97.04,229.43 L98.18,228.47 L99.33,228.43 L100.47,228.8 L101.61,227.85 L102.76,228.22 L103.9,227.81 L105.05,227.17 L106.19,227.39 L107.33,226.67 L108.48,227.12 L109.62,226.45 L110.76,226.73 L111.91,226.48 L113.05,225.66 L114.2,225.65 L115.34,225.24 L116.48,225.51 L117.63,224.78 L118.77,224.56 L119.91,224.4 L121.06,224.8 L122.2,224.12 L123.35,223.99 L124.49,223.91 L125.63,223.8 L126.78,223.51 L127.92,223.75 L129.07,223.09 L130.21,223.01 L131.35,223.14 L132.5,222.47 L133.64,222.24 L134.78,222.59 L135.93,222 L137.07,222.29 L138.22,222.07 L139.36,221.54 L140.5,221.34 L141.65,220.98 L142.79,221.44 L143.93,220.93 L145.08,220.68 L146.22,220.39 L147.37,220.27 L148.51,220.62 L149.65,219.87 L150.8,220.05 L151.94,219.95 L153.09,219.71 L154.23,219.54 L155.37,219.31 L156.52,218.99 L157.66,219.34 L158.8,219.25 L159.95,218.84 L161.09,218.44 L162.24,218.83 L163.38,218.12 L164.52,217.96 L165.67,218.2 L166.81,218.23 L167.95,217.9 L169.1,217.4 L170.24,217.97 L171.39,217.19 L172.53,217.22 L173.67,217.62 L174.82,217.34 L175.96,217.2 L177.11,216.54 L178.25,217.04 L179.39,216.56 L180.54,216.14 L181.68,216.64 L182.82,216.64 L183.97,215.81 L185.11,216.02 L186.26,216.26 L187.4,215.68 L188.54,215.53 L189.69,215.79 L190.83,215.39 L191.97,215.71 L193.12,215.46 L194.26,215.33 L195.41,215.07 L196.55,214.52 L197.69,214.76 L198.84,214.53 L199.98,214.3 L201.13,214.21 L202.27,213.84 L203.41,213.58 L204.56,213.98 L205.7,213.37 L206.84,212.97 L207.99,213.47 L209.13,212.9 L210.28,212.81 L211.42,212.32 L212.56,211.94 L213.71,211.86 L214.85,212.02 L215.99,211.32 L217.14,211.58 L218.28,210.84 L219.43,211.05 L220.57,210.21 L221.71,210.16 L222.86,209.64 L224,209.38 L225.15,209.4 L226.29,209 L227.43,208.86 L228.58,208.33 L229.72,208.13 L230.86,207.86 L232.01,208.05 L233.15,207.12 L234.3,207.12 L235.44,207.21 L236.58,206.72 L237.73,206.2 L238.87,206.54 L240.01,205.58 L241.16,205.36 L242.3,205.02 L243.45,205.11 L244.59,205.2 L245.73,204.48 L246.88,204.23 L248.02,204.36 L249.17,203.5 L250.31,203.15 L251.45,203.34 L252.6,202.53 L253.74,202.51 L254.88,201.82 L256.03,201.8 L257.17,201.6 L258.32,200.89 L259.46,200.36 L260.6,200.27 L261.75,199.97 L262.89,199.1 L264.04,198.9 L265.18,198.66 L266.32,198.4 L267.47,197.84 L268.61,197.75 L269.75,197 L270.9,197.05 L272.04,196.09 L273.19,195.42 L274.33,194.7 L275.47,194.11 L276.62,193.55 L277.76,193.45 L278.9,192.45 L280.05,191.85 L281.19,191.64 L282.34,191.03 L283.48,190.24 L284.62,189.18 L285.77,188.61 L286.91,188.09 L288.06,187.22 L289.2,186.59 L290.34,185.77 L291.49,185.05 L292.63,184.69 L293.77,183.78 L294.92,182.82 L296.06,181.97 L297.21,181.18 L298.35,180.28 L299.49,178.76 L300.64,178.39 L301.78,177.02 L302.92,175.82 L304.07,175.18 L305.21,173.85 L306.36,172.32 L307.5,170.83 L308.64,169.9 L309.79,168.62 L310.93,167.26 L312.08,165.71 L313.22,164.73 L314.36,163.06 L315.51,161.99 L316.65,160.27 L317.79,158.47 L318.94,157.22 L320.08,155.17 L321.23,153.06 L322.37,151.3 L323.51,149.06 L324.66,147.19 L325.8,145.31 L326.94,142.98 L328.09,140.33 L329.23,137.47 L330.38,135.05 L331.52,132.48 L332.66,129.99 L333.81,127.51 L334.95,124.26 L336.1,121.83 L337.24,118.93 L338.38,116.25 L339.53,113.49 L340.67,110.24 L341.81,107.44 L342.96,104.13 L344.1,101.11 L345.25,97.91 L346.39,93.85 L347.53,90.44 L348.68,86.55 L349.82,82.38 L350.96,78.56 L352.11,75.27 L353.25,71.32 L354.4,67.89 L355.54,64.76 L356.68,61.76 L357.83,58.51 L358.97,55.39 L360.12,52.38 L361.26,49.43 L362.4,46.95 L363.55,44.48 L364.69,41.74 L365.83,40.03 L366.98,37.89 L368.12,36.55 L369.27,34.69 L370.41,32.29 L371.55,31.09 L372.7,29.28 L373.84,27.71 L374.98,27.11 L376.13,26.11 L377.27,25.21 L378.42,24.48 L379.56,24.2 L380.7,23.33 L381.85,22.93 L382.99,22.45 L384.14,22.17 L385.28,21.76 L386.42,20.94 L387.57,20.51 L388.71,20.46 L389.85,20.2 L391,19.74 L392.14,19.9 L393.29,19.66 L394.43,19.34 L395.57,19.04 L396.72,19.02 L397.86,18.48 L399,18.84 L400.15,18.17 L401.29,18.67 L402.44,18.32 L403.58,17.93 L404.72,17.74 L405.87,17.96 L407.01,17.75 L408.16,17.84 L409.3,17.27 L410.44,17.8 L411.59,17.36 L412.73,17.3 L413.87,17.47 L415.02,17.3 L416.16,17.12 L417.31,16.95 L418.45,17.05 L419.59,16.67 L420.74,16.83 L421.88,17.27 L423.03,16.7" fill="none" stroke="#000000" stroke-width="2.4" stroke-linejoin="round" stroke-linecap="round"/>
<rect x="81" y="8.5" width="380.4" height="264.3" fill="none" stroke="#1c1c1c" stroke-width="2"/>
<line x1="119.5" y1="272.8" x2="119.5" y2="278.8" stroke="#1c1c1c" stroke-width="1.8"/>
<line x1="205" y1="272.8" x2="205" y2="278.8" stroke="#1c1c1c" stroke-width="1.8"/>
<line x1="290.5" y1="272.8" x2="290.5" y2="278.8" stroke="#1c1c1c" stroke-width="1.8"/>
<line x1="376" y1="272.8" x2="376" y2="278.8" stroke="#1c1c1c" stroke-width="1.8"/>
<line x1="461.5" y1="272.8" x2="461.5" y2="278.8" stroke="#1c1c1c" stroke-width="1.8"/>
<line x1="162.25" y1="272.8" x2="162.25" y2="276.3" stroke="#1c1c1c" stroke-width="1.8"/>
<line x1="247.75" y1="272.8" x2="247.75" y2="276.3" stroke="#1c1c1c" stroke-width="1.8"/>
<line x1="333.25" y1="272.8" x2="333.25" y2="276.3" stroke="#1c1c1c" stroke-width="1.8"/>
<line x1="418.75" y1="272.8" x2="418.75" y2="276.3" stroke="#1c1c1c" stroke-width="1.8"/>
<text x="119.5" y="293.6" font-size="15.5" text-anchor="middle" font-weight="bold" fill="#1c1c1c">0.4</text>
<text x="205" y="293.6" font-size="15.5" text-anchor="middle" font-weight="bold" fill="#1c1c1c">0.6</text>
<text x="290.5" y="293.6" font-size="15.5" text-anchor="middle" font-weight="bold" fill="#1c1c1c">0.8</text>
<text x="376" y="293.6" font-size="15.5" text-anchor="middle" font-weight="bold" fill="#1c1c1c">1.0</text>
<text x="461.5" y="293.6" font-size="15.5" text-anchor="middle" font-weight="bold" fill="#1c1c1c">1.2</text>
<line x1="81" y1="28.4" x2="75" y2="28.4" stroke="#1c1c1c" stroke-width="1.8"/>
<line x1="81" y1="69.1" x2="75" y2="69.1" stroke="#1c1c1c" stroke-width="1.8"/>
<line x1="81" y1="109.8" x2="75" y2="109.8" stroke="#1c1c1c" stroke-width="1.8"/>
<line x1="81" y1="150.5" x2="75" y2="150.5" stroke="#1c1c1c" stroke-width="1.8"/>
<line x1="81" y1="191.2" x2="75" y2="191.2" stroke="#1c1c1c" stroke-width="1.8"/>
<line x1="81" y1="231.9" x2="75" y2="231.9" stroke="#1c1c1c" stroke-width="1.8"/>
<line x1="81" y1="272.6" x2="75" y2="272.6" stroke="#1c1c1c" stroke-width="1.8"/>
<line x1="81" y1="48.75" x2="77.5" y2="48.75" stroke="#1c1c1c" stroke-width="1.8"/>
<line x1="81" y1="89.45" x2="77.5" y2="89.45" stroke="#1c1c1c" stroke-width="1.8"/>
<line x1="81" y1="130.15" x2="77.5" y2="130.15" stroke="#1c1c1c" stroke-width="1.8"/>
<line x1="81" y1="170.85" x2="77.5" y2="170.85" stroke="#1c1c1c" stroke-width="1.8"/>
<line x1="81" y1="211.55" x2="77.5" y2="211.55" stroke="#1c1c1c" stroke-width="1.8"/>
<line x1="81" y1="252.25" x2="77.5" y2="252.25" stroke="#1c1c1c" stroke-width="1.8"/>
<text x="72.2" y="31.65" font-size="15.5" text-anchor="end" font-weight="bold" fill="#1c1c1c">0.0</text>
<text x="72.2" y="72.35" font-size="15.5" text-anchor="end" font-weight="bold" fill="#1c1c1c">-0.2</text>
<text x="72.2" y="113.06" font-size="15.5" text-anchor="end" font-weight="bold" fill="#1c1c1c">-0.4</text>
<text x="72.2" y="153.75" font-size="15.5" text-anchor="end" font-weight="bold" fill="#1c1c1c">-0.6</text>
<text x="72.2" y="194.46" font-size="15.5" text-anchor="end" font-weight="bold" fill="#1c1c1c">-0.8</text>
<text x="72.2" y="235.16" font-size="15.5" text-anchor="end" font-weight="bold" fill="#1c1c1c">-1.0</text>
<text x="72.2" y="275.86" font-size="15.5" text-anchor="end" font-weight="bold" fill="#1c1c1c">-1.2</text>
<text x="30.1" y="149.5" font-size="19.6" text-anchor="middle" font-weight="bold" fill="#1c1c1c" transform="rotate(-90 30.1 149.5)">I / (mA)</text>
<text x="262.2" y="315.4" font-size="19.2" text-anchor="middle" font-weight="bold" fill="#1c1c1c">E / V (Vs RHE)</text>
<text x="87.9" y="40.8" font-size="33.5" text-anchor="start" font-weight="bold" fill="#1c1c1c">(a)</text>
<line x1="356" y1="70.6" x2="375" y2="70.6" stroke="#ff0000" stroke-width="2.6"/>
<text x="377" y="74.6" font-size="13" text-anchor="start" font-weight="bold" fill="#1c1c1c">Ag<tspan font-size="8" dy="4">10</tspan><tspan dy="-4">@Pd</tspan><tspan font-size="8" dy="4">1</tspan><tspan dy="-4">/C</tspan></text>
<line x1="356" y1="95.5" x2="375" y2="95.5" stroke="#00ff00" stroke-width="2.6"/>
<text x="377" y="99.5" font-size="13" text-anchor="start" font-weight="bold" fill="#1c1c1c">Ag<tspan font-size="8" dy="4">10</tspan><tspan dy="-4">@Pd</tspan><tspan font-size="8" dy="4">2</tspan><tspan dy="-4">/C</tspan></text>
<line x1="356" y1="120.6" x2="375" y2="120.6" stroke="#0000ff" stroke-width="2.6"/>
<text x="377" y="124.6" font-size="13" text-anchor="start" font-weight="bold" fill="#1c1c1c">Ag<tspan font-size="8" dy="4">10</tspan><tspan dy="-4">@Pd</tspan><tspan font-size="8" dy="4">3</tspan><tspan dy="-4">/C</tspan></text>
<line x1="356" y1="145.4" x2="375" y2="145.4" stroke="#00ffff" stroke-width="2.6"/>
<text x="377" y="149.4" font-size="13" text-anchor="start" font-weight="bold" fill="#1c1c1c">Ag<tspan font-size="8" dy="4">10</tspan><tspan dy="-4">@Pd</tspan><tspan font-size="8" dy="4">4</tspan><tspan dy="-4">/C</tspan></text>
<line x1="356" y1="170.2" x2="375" y2="170.2" stroke="#ff00ff" stroke-width="2.6"/>
<text x="377" y="174.2" font-size="13" text-anchor="start" font-weight="bold" fill="#1c1c1c">Ag<tspan font-size="8" dy="4">10</tspan><tspan dy="-4">@Pd</tspan><tspan font-size="8" dy="4">5</tspan><tspan dy="-4">/C</tspan></text>
<line x1="356" y1="195.3" x2="375" y2="195.3" stroke="#ffff00" stroke-width="2.6"/>
<text x="377" y="199.3" font-size="13" text-anchor="start" font-weight="bold" fill="#1c1c1c">Ag<tspan font-size="8" dy="4">10</tspan><tspan dy="-4">@Pd</tspan><tspan font-size="8" dy="4">6</tspan><tspan dy="-4">/C</tspan></text>
<line x1="356" y1="219.7" x2="375" y2="219.7" stroke="#808000" stroke-width="2.6"/>
<text x="377" y="223.7" font-size="13" text-anchor="start" font-weight="bold" fill="#1c1c1c">Ag<tspan font-size="8" dy="4">10</tspan><tspan dy="-4">@Pd</tspan><tspan font-size="8" dy="4">7</tspan><tspan dy="-4">/C</tspan></text>
<line x1="356" y1="242.8" x2="375" y2="242.8" stroke="#000000" stroke-width="2.6"/>
<text x="377" y="247" font-size="13" text-anchor="start" font-weight="bold" fill="#1c1c1c">Pd/C</text>
<circle cx="357.6" cy="259.8" r="1.3" fill="#333"/>
<circle cx="370.8" cy="259.8" r="1.3" fill="#333"/>
<text x="377" y="264" font-size="13" text-anchor="start" font-weight="bold" fill="#1c1c1c">Ag/C</text>
<path d="M582.45,176.95 L583.52,175.28 L584.58,172.87 L585.65,170.85 L586.72,168.79 L587.79,166.79 L588.85,164.48 L589.92,162.69 L590.99,160.19 L592.05,158.67 L593.12,156.33 L594.19,154.52 L595.25,152.35 L596.32,150.65 L597.39,148.47 L598.46,146.66 L599.52,144.57 L600.59,142.97 L601.66,141.05 L602.72,138.83 L603.79,137.3 L604.86,135.56 L605.92,133.3 L606.99,131.44 L608.06,130.07 L609.13,128.29 L610.19,125.99 L611.26,124.6 L612.33,122.93 L613.39,120.77 L614.46,119.34 L615.53,117.32 L616.59,115.9 L617.66,114.03 L618.73,112.32 L619.8,110.43 L620.86,109.09 L621.93,107.47 L623,105.59 L624.06,103.82 L625.13,102.24 L626.2,100.73 L627.26,99.57 L628.33,97.82 L629.4,96.32 L630.47,94.66 L631.53,92.74 L632.6,91.35 L633.67,90.18 L634.73,88.63 L635.8,87.26 L636.87,85.73 L637.93,84.28 L639,82.97 L640.07,81.76 L641.14,80.2 L642.2,78.71 L643.27,77.65 L644.34,76.27 L645.4,75.24 L646.47,74.27 L647.54,72.94 L648.6,71.81 L649.67,70.63 L650.74,69.73 L651.8,68.79 L652.87,67.83 L653.94,67.07 L655.01,65.61 L656.07,64.81 L657.14,63.82 L658.21,63.46 L659.27,62.44 L660.34,61.64 L661.41,60.93 L662.47,59.66 L663.54,59.43 L664.61,58.34 L665.68,57.79 L666.74,56.94 L667.81,56.44 L668.88,55.49 L669.94,54.81 L671.01,54.13 L672.08,53.77 L673.14,52.98 L674.21,52.18 L675.28,51.69 L676.35,51.22 L677.41,50.52 L678.48,50.08 L679.55,49.67 L680.61,49 L681.68,48.56 L682.75,47.73 L683.81,47.55 L684.88,47.08 L685.95,46.33 L687.02,45.53 L688.08,45.07 L689.15,44.98 L690.22,44.54 L691.28,43.96 L692.35,43.33 L693.42,42.86 L694.48,42.13 L695.55,41.96 L696.62,41.75 L697.69,40.85 L698.75,40.69 L699.82,40.45 L700.89,39.99 L701.95,39.49 L703.02,39.15 L704.09,39.18 L705.15,39.04 L706.22,38.77 L707.29,38.25 L708.36,38.22 L709.42,38.04 L710.49,37.56 L711.56,37.58 L712.62,37.16 L713.69,36.85 L714.76,36.54 L715.82,36.79 L716.89,36.63 L717.96,36.02 L719.03,35.87 L720.09,35.85 L721.16,35.63 L722.23,35.78 L723.29,35.3 L724.36,35.39 L725.43,35.22 L726.49,34.95 L727.56,35.11 L728.63,34.72 L729.7,34.63 L730.76,34.59 L731.83,34.29 L732.9,34.03 L733.96,34.35 L735.03,34.1 L736.1,33.84 L737.16,33.68 L738.23,33.63 L739.3,33.31 L740.36,33.05 L741.43,33.21 L742.5,33.3 L743.57,32.7 L744.63,33.1 L745.7,32.62 L746.77,32.88 L747.83,32.63 L748.9,32.21 L749.97,32.07 L751.03,32.36 L752.1,32.31 L753.17,32.09 L754.24,31.85 L755.3,31.72 L756.37,31.76 L757.44,31.69 L758.5,31.59 L759.57,31.16 L760.64,31.39 L761.7,31.37 L762.77,31.05 L763.84,30.61 L764.91,30.63 L765.97,30.81 L767.04,30.59 L768.11,30.8 L769.17,30.54 L770.24,30.49 L771.31,30.08 L772.37,30.22 L773.44,30.25 L774.51,30.29 L775.58,30.21 L776.64,29.75 L777.71,29.81 L778.78,30.03 L779.84,29.42 L780.91,29.33 L781.98,29.33 L783.04,29.58 L784.11,29.27 L785.18,29.42 L786.25,29.42 L787.31,29.34 L788.38,28.81 L789.45,29.13 L790.51,29.13 L791.58,29 L792.65,29.03 L793.71,28.94 L794.78,28.75 L795.85,28.83 L796.92,28.58 L797.98,28.25 L799.05,28.3 L800.12,28.62 L801.18,28.2 L802.25,28.22 L803.32,28.41 L804.38,28.24 L805.45,28.24 L806.52,27.99 L807.59,27.96 L808.65,27.65 L809.72,27.67 L810.79,27.6 L811.85,27.77 L812.92,27.72 L813.99,27.4 L815.05,27.69 L816.12,27.32 L817.19,27.45 L818.25,27.19 L819.32,27.42 L820.39,27.18 L821.46,27.62 L822.52,27.24 L823.59,27.48 L824.66,27.22 L825.72,27.12 L826.79,27.39 L827.86,27.02 L828.92,27.13 L829.99,27.18 L831.06,27.36 L832.13,27.15 L833.19,26.73 L834.26,26.95 L835.33,27.21 L836.39,27.13 L837.46,26.81 L838.53,26.64 L839.59,26.69 L840.66,26.96 L841.73,26.59 L842.8,26.99 L843.86,26.59 L844.93,26.82 L846,26.79 L847.06,26.5 L848.13,26.64 L849.2,26.68 L850.26,26.45 L851.33,26.58 L852.4,26.62 L853.47,26.79 L854.53,26.37 L855.6,26.28 L856.67,26.46 L857.73,26.5 L858.8,26.41 L859.87,26.65 L860.93,26.21 L862,26.37 L863.07,26.34 L864.14,26.16 L865.2,26.29 L866.27,26.28 L867.34,26.22 L868.4,26.44 L869.47,26.56 L870.54,26.53 L871.6,26.07 L872.67,26.15 L873.74,26.49 L874.81,25.95 L875.87,25.95 L876.94,25.92 L878.01,26.45 L879.07,26.16 L880.14,26.11 L881.21,25.9 L882.27,26.36 L883.34,26.41 L884.41,26.22 L885.48,26.34 L886.54,26.13 L887.61,25.97 L888.68,25.88 L889.74,25.94 L890.81,25.84 L891.88,25.97 L892.94,25.77 L894.01,25.76 L895.08,26.27 L896.15,26.23 L897.21,26.2 L898.28,25.92 L899.35,25.98 L900.41,26.03 L901.48,26.17" fill="none" stroke="#ff0000" stroke-width="2.5" stroke-linejoin="round" stroke-linecap="round"/>
<path d="M584.67,192.2 L585.73,188.96 L586.79,185.65 L587.85,182.55 L588.91,179.02 L589.97,175.62 L591.03,172.73 L592.09,169.93 L593.15,166.47 L594.21,163.77 L595.27,160.55 L596.33,157.77 L597.39,155.18 L598.45,152.13 L599.51,149.66 L600.57,147.13 L601.63,144.46 L602.69,142.2 L603.75,139.84 L604.81,137.15 L605.87,135.13 L606.92,132.87 L607.98,130.56 L609.04,128.39 L610.1,126.25 L611.16,124.27 L612.22,122.2 L613.28,119.94 L614.34,118.2 L615.4,116.3 L616.46,114.26 L617.52,112.65 L618.58,110.47 L619.64,108.82 L620.7,107.06 L621.76,105.34 L622.82,103.37 L623.88,101.97 L624.94,99.98 L626,98.6 L627.06,96.94 L628.12,95.51 L629.18,94.06 L630.23,92.61 L631.29,90.66 L632.35,89.61 L633.41,87.91 L634.47,86.53 L635.53,84.88 L636.59,84.03 L637.65,82.35 L638.71,81.1 L639.77,79.87 L640.83,78.6 L641.89,77.42 L642.95,76.23 L644.01,75.21 L645.07,73.97 L646.13,73.09 L647.19,72.1 L648.25,71.03 L649.31,69.65 L650.37,68.82 L651.43,67.86 L652.49,66.9 L653.54,65.78 L654.6,64.75 L655.66,64.22 L656.72,63.31 L657.78,62.29 L658.84,61.67 L659.9,60.52 L660.96,60.17 L662.02,59.48 L663.08,58.79 L664.14,57.55 L665.2,57.19 L666.26,56.55 L667.32,55.49 L668.38,55.11 L669.44,54.2 L670.5,53.58 L671.56,52.84 L672.62,52.38 L673.68,52.12 L674.74,51.37 L675.8,50.92 L676.86,50.45 L677.91,49.41 L678.97,49.28 L680.03,48.77 L681.09,48.1 L682.15,47.39 L683.21,46.79 L684.27,46.45 L685.33,45.91 L686.39,45.36 L687.45,45.12 L688.51,44.6 L689.57,43.88 L690.63,43.34 L691.69,43.05 L692.75,42.7 L693.81,42.21 L694.87,41.74 L695.93,41.47 L696.99,40.97 L698.05,40.4 L699.11,40.22 L700.17,39.85 L701.22,39.36 L702.28,38.99 L703.34,38.86 L704.4,38.82 L705.46,38.6 L706.52,38.1 L707.58,38.02 L708.64,37.52 L709.7,37.62 L710.76,37.33 L711.82,37.32 L712.88,37.19 L713.94,36.52 L715,36.88 L716.06,36.23 L717.12,36.53 L718.18,36.38 L719.24,35.76 L720.3,35.64 L721.36,35.4 L722.42,35.71 L723.48,35.47 L724.53,35.45 L725.59,35.21 L726.65,34.8 L727.71,34.91 L728.77,34.52 L729.83,34.37 L730.89,34.29 L731.95,34.33 L733.01,33.96 L734.07,33.98 L735.13,33.85 L736.19,33.86 L737.25,33.54 L738.31,33.38 L739.37,33.34 L740.43,33.16 L741.49,33.2 L742.55,32.71 L743.61,32.63 L744.67,32.43 L745.73,32.54 L746.79,32.69 L747.84,32.43 L748.9,32.34 L749.96,32.41 L751.02,32.23 L752.08,31.8 L753.14,31.66 L754.2,31.74 L755.26,31.45 L756.32,31.57 L757.38,31.16 L758.44,31.25 L759.5,31.35 L760.56,30.98 L761.62,30.82 L762.68,31.08 L763.74,30.66 L764.8,30.99 L765.86,30.73 L766.92,30.81 L767.98,30.51 L769.04,30.4 L770.1,30.18 L771.16,29.97 L772.21,30.43 L773.27,29.91 L774.33,29.75 L775.39,30.18 L776.45,29.87 L777.51,29.82 L778.57,29.95 L779.63,29.77 L780.69,29.41 L781.75,29.35 L782.81,29.5 L783.87,29.45 L784.93,29.1 L785.99,29.05 L787.05,29.13 L788.11,28.8 L789.17,29.17 L790.23,29.02 L791.29,28.65 L792.35,28.84 L793.41,28.78 L794.47,28.41 L795.52,28.55 L796.58,28.71 L797.64,28.44 L798.7,28.54 L799.76,28.19 L800.82,28.59 L801.88,28.33 L802.94,28.21 L804,27.82 L805.06,27.97 L806.12,27.7 L807.18,27.91 L808.24,27.7 L809.3,27.69 L810.36,27.68 L811.42,27.53 L812.48,27.57 L813.54,27.65 L814.6,27.39 L815.66,27.6 L816.72,27.79 L817.78,27.61 L818.83,27.71 L819.89,27.16 L820.95,27.46 L822.01,27.17 L823.07,27.55 L824.13,27.25 L825.19,27.36 L826.25,27.36 L827.31,26.94 L828.37,26.89 L829.43,27.28 L830.49,27.26 L831.55,27 L832.61,26.72 L833.67,26.69 L834.73,27.13 L835.79,27.04 L836.85,26.82 L837.91,26.97 L838.97,27.02 L840.03,26.51 L841.09,26.93 L842.15,27.05 L843.2,26.96 L844.26,26.94 L845.32,26.65 L846.38,26.72 L847.44,26.41 L848.5,26.79 L849.56,26.69 L850.62,26.51 L851.68,26.28 L852.74,26.34 L853.8,26.45 L854.86,26.74 L855.92,26.45 L856.98,26.67 L858.04,26.24 L859.1,26.26 L860.16,26.24 L861.22,26.25 L862.28,26.54 L863.34,26.27 L864.4,26.22 L865.46,26.42 L866.51,26.27 L867.57,26.51 L868.63,26.39 L869.69,26.46 L870.75,26.21 L871.81,26.17 L872.87,26.2 L873.93,26.51 L874.99,26.47 L876.05,26.23 L877.11,26.17 L878.17,25.91 L879.23,26.37 L880.29,26.21 L881.35,26.08 L882.41,25.93 L883.47,26.1 L884.53,26.23 L885.59,25.96 L886.65,25.95 L887.71,26.08 L888.77,26.07 L889.82,25.77 L890.88,25.79 L891.94,25.97 L893,26.16 L894.06,25.96 L895.12,25.74 L896.18,25.87 L897.24,25.83 L898.3,26.17 L899.36,25.84 L900.42,26.29 L901.48,25.87" fill="none" stroke="#00ff00" stroke-width="2.5" stroke-linejoin="round" stroke-linecap="round"/>
<path d="M582.45,252.61 L583.52,248.2 L584.58,244.22 L585.65,240.01 L586.72,236 L587.79,231.81 L588.85,227.67 L589.92,223.37 L590.99,219.94 L592.05,215.64 L593.12,211.8 L594.19,208 L595.25,204.56 L596.32,200.97 L597.39,197.21 L598.46,193.68 L599.52,190.05 L600.59,186.96 L601.66,183.62 L602.72,179.9 L603.79,176.64 L604.86,173.66 L605.92,170.4 L606.99,166.88 L608.06,164.26 L609.13,161.02 L610.19,158.01 L611.26,154.82 L612.33,152.33 L613.39,149.21 L614.46,146.59 L615.53,144.13 L616.59,141.45 L617.66,138.51 L618.73,135.97 L619.8,133.56 L620.86,131.08 L621.93,129.17 L623,126.64 L624.06,124.33 L625.13,122.04 L626.2,119.95 L627.26,117.8 L628.33,115.92 L629.4,113.74 L630.47,112.08 L631.53,110.19 L632.6,108.4 L633.67,106.58 L634.73,104.53 L635.8,103.02 L636.87,101.65 L637.93,99.79 L639,98.38 L640.07,96.67 L641.14,95.57 L642.2,93.84 L643.27,92.44 L644.34,91.33 L645.4,89.53 L646.47,88.14 L647.54,87.06 L648.6,85.76 L649.67,84.27 L650.74,83.16 L651.8,82.13 L652.87,80.97 L653.94,79.77 L655.01,78.5 L656.07,76.89 L657.14,75.91 L658.21,74.82 L659.27,73.45 L660.34,72.8 L661.41,71.42 L662.47,70.65 L663.54,69.54 L664.61,68.27 L665.68,67.3 L666.74,66.36 L667.81,65.21 L668.88,64.13 L669.94,63.41 L671.01,62.34 L672.08,61.43 L673.14,60.83 L674.21,59.9 L675.28,58.82 L676.35,57.72 L677.41,57.31 L678.48,56.18 L679.55,55.27 L680.61,54.86 L681.68,54.17 L682.75,53 L683.81,52.41 L684.88,51.86 L685.95,50.89 L687.02,50.05 L688.08,49.22 L689.15,48.43 L690.22,48.27 L691.28,47.55 L692.35,46.52 L693.42,46.17 L694.48,45.3 L695.55,45.05 L696.62,44.28 L697.69,43.94 L698.75,43.33 L699.82,42.56 L700.89,42.36 L701.95,41.94 L703.02,41.12 L704.09,40.66 L705.15,40.37 L706.22,40.22 L707.29,39.96 L708.36,39.24 L709.42,39.1 L710.49,38.63 L711.56,38 L712.62,37.75 L713.69,37.64 L714.76,37.07 L715.82,36.74 L716.89,36.52 L717.96,35.84 L719.03,35.69 L720.09,35.4 L721.16,35.12 L722.23,34.89 L723.29,34.36 L724.36,34.21 L725.43,33.95 L726.49,33.51 L727.56,33.72 L728.63,33.64 L729.7,33.25 L730.76,33.01 L731.83,32.84 L732.9,32.74 L733.96,32.56 L735.03,32.36 L736.1,32.64 L737.16,32.16 L738.23,31.95 L739.3,32.09 L740.36,31.58 L741.43,31.68 L742.5,31.69 L743.57,31.74 L744.63,31.33 L745.7,31.08 L746.77,31.53 L747.83,30.86 L748.9,31.01 L749.97,30.97 L751.03,31.17 L752.1,30.7 L753.17,30.55 L754.24,30.49 L755.3,30.46 L756.37,30.25 L757.44,30.62 L758.5,30.31 L759.57,30.37 L760.64,30.02 L761.7,30.18 L762.77,30.26 L763.84,29.78 L764.91,30.15 L765.97,29.68 L767.04,29.87 L768.11,29.94 L769.17,29.58 L770.24,29.8 L771.31,29.41 L772.37,29.37 L773.44,29.59 L774.51,29.33 L775.58,28.94 L776.64,28.93 L777.71,29.1 L778.78,28.91 L779.84,28.68 L780.91,29.07 L781.98,28.71 L783.04,29 L784.11,28.61 L785.18,28.44 L786.25,28.52 L787.31,28.71 L788.38,28.69 L789.45,28.43 L790.51,28.18 L791.58,28.29 L792.65,28.08 L793.71,28.08 L794.78,27.81 L795.85,27.76 L796.92,28.26 L797.98,28.1 L799.05,27.74 L800.12,27.91 L801.18,27.51 L802.25,27.94 L803.32,27.76 L804.38,27.78 L805.45,27.56 L806.52,27.51 L807.59,27.7 L808.65,27.35 L809.72,27.17 L810.79,27.15 L811.85,27.59 L812.92,27.16 L813.99,27 L815.05,27.26 L816.12,26.96 L817.19,27.11 L818.25,27.28 L819.32,26.93 L820.39,27.01 L821.46,27.28 L822.52,27.22 L823.59,27.19 L824.66,26.66 L825.72,27.2 L826.79,26.92 L827.86,26.65 L828.92,27.12 L829.99,26.58 L831.06,27.07 L832.13,26.47 L833.19,26.47 L834.26,26.68 L835.33,26.74 L836.39,26.7 L837.46,26.81 L838.53,26.37 L839.59,26.71 L840.66,26.45 L841.73,26.8 L842.8,26.58 L843.86,26.6 L844.93,26.24 L846,26.69 L847.06,26.3 L848.13,26.23 L849.2,26.34 L850.26,26.53 L851.33,26.24 L852.4,26.31 L853.47,26.37 L854.53,26.14 L855.6,26.05 L856.67,26.21 L857.73,26.37 L858.8,26.34 L859.87,26.05 L860.93,26.3 L862,26.4 L863.07,26.3 L864.14,25.98 L865.2,25.89 L866.27,26.44 L867.34,26.27 L868.4,26 L869.47,26.27 L870.54,26.17 L871.6,26.19 L872.67,26.02 L873.74,26.2 L874.81,26.02 L875.87,26.02 L876.94,25.98 L878.01,26.22 L879.07,26.29 L880.14,25.94 L881.21,25.8 L882.27,25.91 L883.34,26.2 L884.41,25.96 L885.48,25.75 L886.54,26.24 L887.61,25.99 L888.68,25.77 L889.74,26.17 L890.81,26.02 L891.88,26.22 L892.94,26.21 L894.01,26.2 L895.08,26.24 L896.15,25.94 L897.21,26.19 L898.28,26 L899.35,26.09 L900.41,25.83 L901.48,26.08" fill="none" stroke="#0000ff" stroke-width="2.5" stroke-linejoin="round" stroke-linecap="round"/>
<path d="M582.45,169.64 L583.52,167.79 L584.58,165.08 L585.65,163.03 L586.72,160.94 L587.79,158.71 L588.85,156.52 L589.92,154.1 L590.99,151.75 L592.05,150.2 L593.12,147.73 L594.19,146.04 L595.25,143.79 L596.32,141.87 L597.39,140.04 L598.46,138.19 L599.52,136.51 L600.59,134.62 L601.66,132.61 L602.72,131.11 L603.79,129.14 L604.86,127.93 L605.92,125.87 L606.99,124.35 L608.06,122.87 L609.13,121.12 L610.19,119.87 L611.26,118.24 L612.33,116.4 L613.39,114.91 L614.46,113.54 L615.53,111.86 L616.59,110.4 L617.66,108.67 L618.73,107.27 L619.8,105.74 L620.86,104.37 L621.93,102.47 L623,101.17 L624.06,99.23 L625.13,97.69 L626.2,96.07 L627.26,94.91 L628.33,92.84 L629.4,91.41 L630.47,89.99 L631.53,88.63 L632.6,87.13 L633.67,85.37 L634.73,84.13 L635.8,82.98 L636.87,81.33 L637.93,80.06 L639,79.25 L640.07,77.53 L641.14,76.39 L642.2,75.28 L643.27,74.52 L644.34,73.1 L645.4,72.05 L646.47,71.04 L647.54,70.2 L648.6,68.67 L649.67,67.76 L650.74,66.92 L651.8,66.13 L652.87,64.92 L653.94,64.22 L655.01,63.45 L656.07,62.31 L657.14,61.65 L658.21,60.69 L659.27,60.42 L660.34,59.12 L661.41,58.46 L662.47,58.01 L663.54,57.07 L664.61,56.58 L665.68,55.76 L666.74,55.48 L667.81,54.57 L668.88,53.8 L669.94,53.06 L671.01,52.63 L672.08,52.2 L673.14,51.57 L674.21,50.98 L675.28,50.3 L676.35,49.99 L677.41,49.12 L678.48,48.67 L679.55,48.39 L680.61,47.77 L681.68,47.07 L682.75,46.76 L683.81,46.25 L684.88,45.48 L685.95,45.05 L687.02,44.77 L688.08,44.05 L689.15,43.54 L690.22,43.17 L691.28,42.41 L692.35,42.05 L693.42,42.04 L694.48,41.16 L695.55,41.08 L696.62,40.21 L697.69,40.03 L698.75,39.82 L699.82,39.39 L700.89,39.5 L701.95,39.25 L703.02,38.61 L704.09,38.27 L705.15,38.51 L706.22,38.21 L707.29,37.83 L708.36,37.34 L709.42,37.1 L710.49,37.31 L711.56,37.12 L712.62,36.8 L713.69,36.53 L714.76,36.32 L715.82,36.21 L716.89,36.07 L717.96,36.02 L719.03,35.74 L720.09,35.54 L721.16,35.32 L722.23,35.43 L723.29,35.45 L724.36,34.86 L725.43,35.07 L726.49,34.85 L727.56,34.47 L728.63,34.27 L729.7,34.56 L730.76,34.02 L731.83,33.86 L732.9,33.72 L733.96,34.02 L735.03,33.63 L736.1,33.28 L737.16,33.32 L738.23,33.34 L739.3,33.19 L740.36,32.87 L741.43,33.17 L742.5,32.96 L743.57,32.59 L744.63,32.5 L745.7,32.35 L746.77,32.09 L747.83,32.34 L748.9,32.02 L749.97,32.15 L751.03,32.15 L752.1,31.73 L753.17,31.6 L754.24,31.55 L755.3,31.51 L756.37,31.16 L757.44,31.26 L758.5,31.12 L759.57,30.9 L760.64,31.24 L761.7,31.07 L762.77,30.85 L763.84,30.51 L764.91,30.81 L765.97,30.52 L767.04,30.73 L768.11,30.5 L769.17,30.18 L770.24,30.4 L771.31,30.22 L772.37,30 L773.44,30.19 L774.51,29.83 L775.58,29.64 L776.64,29.51 L777.71,29.78 L778.78,29.5 L779.84,29.36 L780.91,29.22 L781.98,29.58 L783.04,29.21 L784.11,29.49 L785.18,29.44 L786.25,29.33 L787.31,28.9 L788.38,29.26 L789.45,29 L790.51,29.07 L791.58,29.04 L792.65,28.62 L793.71,28.59 L794.78,28.84 L795.85,28.41 L796.92,28.24 L797.98,28.14 L799.05,28.39 L800.12,28.18 L801.18,28.5 L802.25,27.88 L803.32,28.06 L804.38,28.19 L805.45,28.07 L806.52,28.15 L807.59,27.99 L808.65,28.07 L809.72,28.08 L810.79,27.97 L811.85,27.76 L812.92,27.59 L813.99,27.63 L815.05,27.4 L816.12,27.37 L817.19,27.49 L818.25,27.4 L819.32,27.33 L820.39,27.11 L821.46,27.61 L822.52,27.19 L823.59,27.24 L824.66,27.13 L825.72,27.23 L826.79,27.33 L827.86,27.39 L828.92,27.16 L829.99,27.33 L831.06,26.96 L832.13,26.99 L833.19,26.88 L834.26,27.23 L835.33,26.7 L836.39,26.73 L837.46,27.03 L838.53,26.68 L839.59,26.55 L840.66,26.71 L841.73,26.74 L842.8,26.71 L843.86,26.55 L844.93,26.59 L846,26.53 L847.06,26.44 L848.13,26.62 L849.2,26.43 L850.26,26.39 L851.33,26.81 L852.4,26.76 L853.47,26.44 L854.53,26.51 L855.6,26.23 L856.67,26.16 L857.73,26.44 L858.8,26.68 L859.87,26.14 L860.93,26.35 L862,26.54 L863.07,26.05 L864.14,26.38 L865.2,26.17 L866.27,26.45 L867.34,26.48 L868.4,26.5 L869.47,26.43 L870.54,26 L871.6,26.33 L872.67,26.26 L873.74,26.09 L874.81,26.02 L875.87,26.17 L876.94,26.13 L878.01,26.11 L879.07,26.43 L880.14,25.98 L881.21,26.35 L882.27,25.91 L883.34,26.23 L884.41,26.07 L885.48,26.03 L886.54,26.07 L887.61,25.86 L888.68,25.9 L889.74,26.01 L890.81,25.87 L891.88,26.25 L892.94,26.15 L894.01,26.11 L895.08,26.14 L896.15,25.82 L897.21,25.72 L898.28,25.76 L899.35,26.24 L900.41,26 L901.48,26.28" fill="none" stroke="#00ffff" stroke-width="2.5" stroke-linejoin="round" stroke-linecap="round"/>
<path d="M582.45,191.84 L583.52,187.82 L584.58,183.98 L585.65,180.17 L586.72,176.07 L587.79,172.33 L588.85,168.57 L589.92,164.9 L590.99,161.81 L592.05,158.43 L593.12,154.87 L594.19,151.54 L595.25,148.96 L596.32,145.82 L597.39,143.24 L598.46,140.43 L599.52,137.76 L600.59,135.77 L601.66,133.08 L602.72,131.36 L603.79,128.74 L604.86,126.76 L605.92,124.53 L606.99,122.69 L608.06,121.03 L609.13,118.82 L610.19,117.01 L611.26,115.18 L612.33,113.4 L613.39,111.96 L614.46,110.08 L615.53,108.7 L616.59,106.97 L617.66,105.19 L618.73,103.76 L619.8,102.13 L620.86,100.09 L621.93,98.75 L623,97.1 L624.06,95.22 L625.13,94.04 L626.2,92.06 L627.26,90.95 L628.33,89.63 L629.4,88.04 L630.47,86.66 L631.53,85.27 L632.6,83.78 L633.67,82.3 L634.73,81.19 L635.8,79.91 L636.87,78.99 L637.93,77.82 L639,76.7 L640.07,75.16 L641.14,74.36 L642.2,73.25 L643.27,71.63 L644.34,70.89 L645.4,69.58 L646.47,68.56 L647.54,67.8 L648.6,67 L649.67,65.76 L650.74,64.95 L651.8,64.18 L652.87,63.37 L653.94,62.29 L655.01,61.51 L656.07,60.62 L657.14,60.04 L658.21,59.68 L659.27,58.47 L660.34,58.09 L661.41,57.32 L662.47,56.75 L663.54,56.04 L664.61,54.94 L665.68,54.45 L666.74,54.11 L667.81,53.37 L668.88,52.89 L669.94,51.79 L671.01,51.69 L672.08,50.85 L673.14,50.52 L674.21,49.84 L675.28,49.16 L676.35,48.72 L677.41,47.9 L678.48,47.93 L679.55,47.38 L680.61,46.75 L681.68,46.26 L682.75,45.83 L683.81,45.17 L684.88,44.56 L685.95,44.31 L687.02,44.02 L688.08,43.47 L689.15,42.95 L690.22,42.11 L691.28,41.74 L692.35,41.29 L693.42,41.04 L694.48,40.85 L695.55,40.31 L696.62,39.95 L697.69,39.55 L698.75,39.12 L699.82,38.92 L700.89,39.1 L701.95,38.82 L703.02,38.43 L704.09,38.22 L705.15,37.73 L706.22,37.39 L707.29,37.19 L708.36,36.98 L709.42,36.9 L710.49,37.18 L711.56,36.76 L712.62,36.36 L713.69,36.11 L714.76,35.9 L715.82,35.73 L716.89,35.65 L717.96,35.61 L719.03,35.35 L720.09,35.25 L721.16,35.34 L722.23,34.9 L723.29,34.76 L724.36,35 L725.43,34.57 L726.49,34.64 L727.56,34.3 L728.63,34.42 L729.7,33.87 L730.76,33.9 L731.83,34.13 L732.9,33.65 L733.96,33.73 L735.03,33.35 L736.1,33.17 L737.16,33.23 L738.23,33.13 L739.3,32.76 L740.36,32.94 L741.43,32.76 L742.5,32.6 L743.57,32.73 L744.63,32.69 L745.7,32.29 L746.77,32.12 L747.83,32.29 L748.9,32.18 L749.97,31.92 L751.03,31.88 L752.1,31.61 L753.17,31.74 L754.24,31.55 L755.3,31.62 L756.37,31.19 L757.44,30.95 L758.5,31.34 L759.57,31.08 L760.64,31.11 L761.7,30.99 L762.77,30.91 L763.84,30.58 L764.91,30.79 L765.97,30.56 L767.04,30.35 L768.11,30.12 L769.17,30 L770.24,30 L771.31,29.97 L772.37,29.9 L773.44,30 L774.51,30.13 L775.58,29.82 L776.64,29.8 L777.71,29.34 L778.78,29.68 L779.84,29.51 L780.91,29.58 L781.98,29.26 L783.04,29.36 L784.11,29.21 L785.18,29.31 L786.25,29.03 L787.31,29.2 L788.38,29.16 L789.45,28.89 L790.51,28.8 L791.58,28.86 L792.65,28.68 L793.71,28.89 L794.78,28.81 L795.85,28.48 L796.92,28.53 L797.98,28.13 L799.05,28.54 L800.12,28.31 L801.18,27.9 L802.25,27.84 L803.32,28.28 L804.38,28.19 L805.45,28.04 L806.52,27.86 L807.59,27.71 L808.65,27.8 L809.72,28.01 L810.79,27.79 L811.85,27.39 L812.92,27.44 L813.99,27.33 L815.05,27.75 L816.12,27.7 L817.19,27.71 L818.25,27.37 L819.32,27.26 L820.39,27.07 L821.46,27.15 L822.52,27.17 L823.59,27.17 L824.66,27.11 L825.72,27.31 L826.79,27.36 L827.86,27.04 L828.92,27.27 L829.99,26.92 L831.06,26.88 L832.13,27.17 L833.19,26.72 L834.26,26.68 L835.33,27.2 L836.39,26.86 L837.46,26.8 L838.53,26.99 L839.59,27.03 L840.66,26.7 L841.73,26.93 L842.8,26.5 L843.86,26.93 L844.93,26.62 L846,26.58 L847.06,26.34 L848.13,26.35 L849.2,26.52 L850.26,26.33 L851.33,26.64 L852.4,26.82 L853.47,26.37 L854.53,26.63 L855.6,26.51 L856.67,26.51 L857.73,26.59 L858.8,26.4 L859.87,26.59 L860.93,26.17 L862,26.47 L863.07,26.36 L864.14,26.14 L865.2,26.15 L866.27,26.57 L867.34,26.37 L868.4,26.27 L869.47,26.26 L870.54,26.46 L871.6,26.31 L872.67,26.06 L873.74,26.47 L874.81,26.41 L875.87,26.36 L876.94,26.3 L878.01,26.27 L879.07,26.05 L880.14,26.43 L881.21,26.26 L882.27,25.92 L883.34,26.3 L884.41,26.06 L885.48,25.83 L886.54,26.31 L887.61,25.91 L888.68,26.02 L889.74,25.82 L890.81,26.07 L891.88,26.07 L892.94,26.23 L894.01,26.3 L895.08,26.26 L896.15,26.12 L897.21,25.96 L898.28,26.27 L899.35,25.84 L900.41,25.89 L901.48,26.04" fill="none" stroke="#ff00ff" stroke-width="2.5" stroke-linejoin="round" stroke-linecap="round"/>
<path d="M582.45,162.88 L583.52,160.48 L584.58,157.71 L585.65,155.32 L586.72,152.76 L587.79,150.62 L588.85,148.17 L589.92,146.25 L590.99,143.7 L592.05,141.54 L593.12,139.8 L594.19,137.5 L595.25,135.94 L596.32,133.84 L597.39,131.73 L598.46,130.23 L599.52,128.6 L600.59,126.41 L601.66,124.81 L602.72,123.08 L603.79,121.62 L604.86,119.97 L605.92,117.75 L606.99,116.3 L608.06,114.93 L609.13,113.08 L610.19,111.52 L611.26,109.96 L612.33,108.04 L613.39,106.46 L614.46,105.39 L615.53,103.5 L616.59,101.94 L617.66,100.41 L618.73,98.94 L619.8,97.45 L620.86,95.39 L621.93,94.16 L623,92.25 L624.06,91.05 L625.13,89.72 L626.2,88.06 L627.26,86.56 L628.33,85.45 L629.4,84 L630.47,82.82 L631.53,81.33 L632.6,79.95 L633.67,78.97 L634.73,77.66 L635.8,76.2 L636.87,75.13 L637.93,74.5 L639,73.21 L640.07,71.77 L641.14,71.15 L642.2,70.12 L643.27,68.7 L644.34,68.29 L645.4,66.86 L646.47,66.14 L647.54,65.37 L648.6,64.37 L649.67,63.45 L650.74,62.7 L651.8,61.99 L652.87,61.4 L653.94,60.59 L655.01,59.9 L656.07,59.06 L657.14,58.14 L658.21,57.37 L659.27,57.01 L660.34,56.35 L661.41,55.32 L662.47,54.96 L663.54,54.06 L664.61,53.27 L665.68,52.91 L666.74,52.56 L667.81,51.76 L668.88,51.35 L669.94,50.8 L671.01,50.22 L672.08,49.38 L673.14,49.22 L674.21,48.2 L675.28,47.93 L676.35,47.18 L677.41,46.86 L678.48,46.67 L679.55,46.15 L680.61,45.78 L681.68,45.04 L682.75,44.53 L683.81,43.83 L684.88,43.54 L685.95,43.32 L687.02,42.51 L688.08,42.36 L689.15,41.59 L690.22,41.46 L691.28,40.69 L692.35,40.77 L693.42,39.91 L694.48,39.56 L695.55,39.56 L696.62,39.42 L697.69,39.13 L698.75,38.7 L699.82,38.65 L700.89,38.11 L701.95,37.97 L703.02,37.73 L704.09,37.48 L705.15,37.17 L706.22,37.07 L707.29,37.08 L708.36,36.93 L709.42,36.59 L710.49,36.58 L711.56,36.24 L712.62,36.36 L713.69,35.72 L714.76,36.02 L715.82,35.94 L716.89,35.6 L717.96,35.49 L719.03,35.55 L720.09,34.91 L721.16,34.74 L722.23,34.85 L723.29,34.84 L724.36,34.6 L725.43,34.43 L726.49,34.27 L727.56,34.16 L728.63,34.28 L729.7,33.66 L730.76,33.89 L731.83,33.42 L732.9,33.75 L733.96,33.28 L735.03,33.48 L736.1,33.07 L737.16,33.14 L738.23,32.95 L739.3,33.1 L740.36,32.7 L741.43,32.61 L742.5,32.49 L743.57,32.23 L744.63,32.53 L745.7,32.07 L746.77,31.84 L747.83,31.77 L748.9,31.98 L749.97,31.98 L751.03,31.7 L752.1,31.82 L753.17,31.28 L754.24,31.58 L755.3,31.41 L756.37,30.98 L757.44,30.82 L758.5,30.92 L759.57,30.83 L760.64,30.78 L761.7,30.84 L762.77,30.45 L763.84,30.38 L764.91,30.35 L765.97,30.16 L767.04,30.25 L768.11,30.26 L769.17,29.99 L770.24,29.83 L771.31,30.11 L772.37,29.65 L773.44,30.04 L774.51,29.82 L775.58,29.51 L776.64,29.31 L777.71,29.74 L778.78,29.18 L779.84,29.55 L780.91,29.35 L781.98,29.37 L783.04,29.01 L784.11,29.26 L785.18,28.9 L786.25,29.04 L787.31,29.2 L788.38,28.91 L789.45,28.58 L790.51,28.57 L791.58,28.6 L792.65,28.79 L793.71,28.71 L794.78,28.41 L795.85,28.46 L796.92,28.27 L797.98,28.29 L799.05,28.13 L800.12,28.45 L801.18,28.05 L802.25,27.96 L803.32,28.09 L804.38,27.79 L805.45,27.68 L806.52,27.83 L807.59,28 L808.65,27.68 L809.72,27.58 L810.79,27.54 L811.85,27.68 L812.92,27.44 L813.99,27.55 L815.05,27.5 L816.12,27.18 L817.19,27.31 L818.25,27.57 L819.32,27.17 L820.39,27.46 L821.46,27.02 L822.52,27.23 L823.59,27.16 L824.66,27.27 L825.72,26.85 L826.79,26.89 L827.86,27.03 L828.92,27.31 L829.99,27.03 L831.06,27.21 L832.13,26.99 L833.19,27.23 L834.26,26.66 L835.33,27.11 L836.39,26.71 L837.46,26.66 L838.53,26.82 L839.59,26.73 L840.66,27.05 L841.73,26.99 L842.8,26.84 L843.86,26.53 L844.93,26.5 L846,26.6 L847.06,26.51 L848.13,26.42 L849.2,26.39 L850.26,26.41 L851.33,26.41 L852.4,26.28 L853.47,26.38 L854.53,26.74 L855.6,26.65 L856.67,26.5 L857.73,26.69 L858.8,26.66 L859.87,26.14 L860.93,26.09 L862,26.25 L863.07,26.35 L864.14,26.62 L865.2,26.02 L866.27,26.41 L867.34,26.45 L868.4,26.12 L869.47,26.41 L870.54,26.46 L871.6,25.99 L872.67,26.31 L873.74,26.19 L874.81,26.36 L875.87,25.97 L876.94,26.27 L878.01,25.87 L879.07,25.87 L880.14,26.1 L881.21,26.04 L882.27,26.08 L883.34,25.94 L884.41,26.4 L885.48,26.04 L886.54,26.08 L887.61,25.99 L888.68,26.3 L889.74,25.86 L890.81,26.31 L891.88,25.86 L892.94,26.26 L894.01,25.99 L895.08,26.09 L896.15,25.86 L897.21,26.21 L898.28,25.84 L899.35,26.18 L900.41,26.1 L901.48,26.24" fill="none" stroke="#ffff00" stroke-width="2.5" stroke-linejoin="round" stroke-linecap="round"/>
<path d="M583.09,176.23 L584.15,172.48 L585.22,168.52 L586.28,165.38 L587.35,161.49 L588.41,158.56 L589.48,155.36 L590.54,151.75 L591.6,148.67 L592.67,146.27 L593.73,143.28 L594.8,140.94 L595.86,138.65 L596.93,136.45 L597.99,133.99 L599.06,132.06 L600.12,130.05 L601.19,127.98 L602.25,125.81 L603.32,124.27 L604.38,122.15 L605.45,120.66 L606.51,118.61 L607.58,116.96 L608.64,115.01 L609.71,113.4 L610.77,112.26 L611.84,110.35 L612.9,108.9 L613.97,107.13 L615.03,105.66 L616.1,103.91 L617.16,102.06 L618.23,100.54 L619.29,99.12 L620.36,97.25 L621.42,96.14 L622.49,94.06 L623.55,92.83 L624.62,91.51 L625.68,89.94 L626.75,88.14 L627.81,86.69 L628.88,85.67 L629.94,84.13 L631,82.63 L632.07,81.38 L633.13,80.46 L634.2,78.86 L635.26,77.82 L636.33,77.04 L637.39,75.47 L638.46,74.7 L639.52,73.1 L640.59,72.12 L641.65,70.97 L642.72,70.34 L643.78,69.24 L644.85,68.38 L645.91,67.45 L646.98,66.47 L648.04,65.21 L649.11,64.55 L650.17,63.44 L651.24,63.07 L652.3,62.01 L653.37,61.27 L654.43,60.76 L655.5,60.06 L656.56,59.1 L657.63,58.24 L658.69,57.83 L659.76,57.12 L660.82,56.07 L661.89,55.55 L662.95,55.19 L664.02,54.58 L665.08,53.91 L666.15,53.04 L667.21,52.25 L668.28,52.09 L669.34,51.1 L670.4,50.78 L671.47,50.09 L672.53,49.82 L673.6,49 L674.66,48.48 L675.73,48.24 L676.79,47.66 L677.86,47.33 L678.92,46.31 L679.99,45.83 L681.05,45.68 L682.12,45.09 L683.18,44.84 L684.25,44.1 L685.31,43.37 L686.38,43.15 L687.44,42.54 L688.51,42.41 L689.57,41.97 L690.64,41.58 L691.7,40.72 L692.77,40.6 L693.83,40.02 L694.9,40.16 L695.96,39.36 L697.03,39.39 L698.09,39.18 L699.16,38.62 L700.22,38.61 L701.29,38.1 L702.35,37.84 L703.42,37.76 L704.48,37.43 L705.55,37.44 L706.61,37.39 L707.67,37.34 L708.74,36.76 L709.8,36.7 L710.87,36.66 L711.93,36.26 L713,36.09 L714.06,35.96 L715.13,36.08 L716.19,35.65 L717.26,35.74 L718.32,35.22 L719.39,35.17 L720.45,35.02 L721.52,34.84 L722.58,34.66 L723.65,34.67 L724.71,34.78 L725.78,34.56 L726.84,34.63 L727.91,34.09 L728.97,33.95 L730.04,33.79 L731.1,33.81 L732.17,33.46 L733.23,33.75 L734.3,33.39 L735.36,33.04 L736.43,33.2 L737.49,33.04 L738.56,32.78 L739.62,32.73 L740.69,32.83 L741.75,32.91 L742.82,32.57 L743.88,32.25 L744.95,32 L746.01,32.07 L747.07,31.91 L748.14,31.92 L749.2,31.83 L750.27,31.62 L751.33,31.45 L752.4,31.81 L753.46,31.72 L754.53,31.49 L755.59,31.52 L756.66,31.21 L757.72,31.22 L758.79,30.95 L759.85,30.99 L760.92,31.01 L761.98,30.84 L763.05,30.81 L764.11,30.61 L765.18,30.36 L766.24,30.56 L767.31,30.53 L768.37,30.05 L769.44,29.93 L770.5,29.76 L771.57,29.83 L772.63,29.71 L773.7,29.65 L774.76,29.56 L775.83,29.58 L776.89,29.42 L777.96,29.82 L779.02,29.21 L780.09,29.11 L781.15,29.59 L782.22,29.19 L783.28,29.34 L784.35,29.02 L785.41,28.77 L786.47,28.71 L787.54,29.18 L788.6,28.59 L789.67,28.76 L790.73,28.59 L791.8,28.75 L792.86,28.53 L793.93,28.72 L794.99,28.31 L796.06,28.44 L797.12,28.65 L798.19,28.32 L799.25,28.51 L800.32,27.91 L801.38,28.36 L802.45,28.01 L803.51,28.32 L804.58,28.09 L805.64,27.77 L806.71,28.02 L807.77,27.61 L808.84,27.78 L809.9,27.86 L810.97,27.47 L812.03,27.36 L813.1,27.78 L814.16,27.35 L815.23,27.65 L816.29,27.44 L817.36,27.23 L818.42,27.59 L819.49,27.27 L820.55,27.17 L821.62,27.51 L822.68,27.54 L823.75,27.11 L824.81,27.46 L825.87,26.91 L826.94,27.29 L828,27.14 L829.07,26.9 L830.13,26.97 L831.2,26.89 L832.26,27.07 L833.33,26.9 L834.39,26.87 L835.46,26.99 L836.52,26.77 L837.59,26.58 L838.65,26.8 L839.72,27 L840.78,26.6 L841.85,26.59 L842.91,26.96 L843.98,26.48 L845.04,26.94 L846.11,26.52 L847.17,26.44 L848.24,26.73 L849.3,26.81 L850.37,26.53 L851.43,26.39 L852.5,26.29 L853.56,26.2 L854.63,26.59 L855.69,26.6 L856.76,26.32 L857.82,26.4 L858.89,26.56 L859.95,26.5 L861.02,26.47 L862.08,26.6 L863.14,26.18 L864.21,26.6 L865.27,26.38 L866.34,26.18 L867.4,26.39 L868.47,26.15 L869.53,26.2 L870.6,26.44 L871.66,26.41 L872.73,26.28 L873.79,26.39 L874.86,26.42 L875.92,26.12 L876.99,25.92 L878.05,26.43 L879.12,25.89 L880.18,26.11 L881.25,25.89 L882.31,26.14 L883.38,26.28 L884.44,25.82 L885.51,26.09 L886.57,26.03 L887.64,26.18 L888.7,26.31 L889.77,26.16 L890.83,25.79 L891.9,25.96 L892.96,26.02 L894.03,25.83 L895.09,26.24 L896.16,25.94 L897.22,25.93 L898.29,25.84 L899.35,26.03 L900.42,26.19 L901.48,25.77" fill="none" stroke="#808000" stroke-width="2.5" stroke-linejoin="round" stroke-linecap="round"/>
<path d="M583.09,51.96 L584.15,51.66 L585.22,51.37 L586.28,51.08 L587.35,50.79 L588.41,50.5 L589.48,50.22 L590.54,49.94 L591.6,49.67 L592.67,49.39 L593.73,49.12 L594.8,48.86 L595.86,48.6 L596.93,48.34 L597.99,48.09 L599.06,47.84 L600.12,47.6 L601.19,47.36 L602.25,47.12 L603.32,46.89 L604.38,46.67 L605.45,46.45 L606.51,46.24 L607.58,46.03 L608.64,45.82 L609.71,45.63 L610.77,45.43 L611.84,45.25 L612.9,45.07 L613.97,44.89 L615.03,44.72 L616.1,44.55 L617.16,44.39 L618.23,44.23 L619.29,44.07 L620.36,43.91 L621.42,43.76 L622.49,43.61 L623.55,43.46 L624.62,43.32 L625.68,43.18 L626.75,43.04 L627.81,42.9 L628.88,42.76 L629.94,42.63 L631,42.49 L632.07,42.36 L633.13,42.23 L634.2,42.1 L635.26,41.97 L636.33,41.84 L637.39,41.71 L638.46,41.58 L639.52,41.45 L640.59,41.32 L641.65,41.2 L642.72,41.07 L643.78,40.93 L644.85,40.8 L645.91,40.67 L646.98,40.54 L648.04,40.41 L649.11,40.28 L650.17,40.14 L651.24,40.02 L652.3,39.89 L653.37,39.76 L654.43,39.63 L655.5,39.5 L656.56,39.37 L657.63,39.25 L658.69,39.12 L659.76,39 L660.82,38.87 L661.89,38.75 L662.95,38.62 L664.02,38.5 L665.08,38.38 L666.15,38.26 L667.21,38.14 L668.28,38.02 L669.34,37.9 L670.4,37.78 L671.47,37.66 L672.53,37.54 L673.6,37.42 L674.66,37.31 L675.73,37.19 L676.79,37.07 L677.86,36.96 L678.92,36.84 L679.99,36.73 L681.05,36.62 L682.12,36.51 L683.18,36.4 L684.25,36.29 L685.31,36.18 L686.38,36.07 L687.44,35.96 L688.51,35.85 L689.57,35.75 L690.64,35.64 L691.7,35.53 L692.77,35.43 L693.83,35.32 L694.9,35.22 L695.96,35.12 L697.03,35.01 L698.09,34.91 L699.16,34.8 L700.22,34.7 L701.29,34.59 L702.35,34.49 L703.42,34.39 L704.48,34.28 L705.55,34.18 L706.61,34.08 L707.67,33.98 L708.74,33.88 L709.8,33.77 L710.87,33.67 L711.93,33.57 L713,33.47 L714.06,33.37 L715.13,33.27 L716.19,33.17 L717.26,33.07 L718.32,32.97 L719.39,32.87 L720.45,32.76 L721.52,32.66 L722.58,32.56 L723.65,32.45 L724.71,32.35 L725.78,32.24 L726.84,32.13 L727.91,32.02 L728.97,31.91 L730.04,31.8 L731.1,31.69 L732.17,31.58 L733.23,31.47 L734.3,31.37 L735.36,31.27 L736.43,31.17 L737.49,31.08 L738.56,30.99 L739.62,30.9 L740.69,30.81 L741.75,30.72 L742.82,30.64 L743.88,30.55 L744.95,30.46 L746.01,30.38 L747.07,30.29 L748.14,30.21 L749.2,30.13 L750.27,30.05 L751.33,29.97 L752.4,29.89 L753.46,29.81 L754.53,29.73 L755.59,29.65 L756.66,29.58 L757.72,29.5 L758.79,29.43 L759.85,29.36 L760.92,29.29 L761.98,29.22 L763.05,29.15 L764.11,29.08 L765.18,29.02 L766.24,28.95 L767.31,28.89 L768.37,28.83 L769.44,28.77 L770.5,28.72 L771.57,28.66 L772.63,28.61 L773.7,28.56 L774.76,28.51 L775.83,28.46 L776.89,28.41 L777.96,28.36 L779.02,28.31 L780.09,28.26 L781.15,28.22 L782.22,28.17 L783.28,28.13 L784.35,28.08 L785.41,28.04 L786.47,28 L787.54,27.95 L788.6,27.91 L789.67,27.87 L790.73,27.83 L791.8,27.79 L792.86,27.75 L793.93,27.71 L794.99,27.67 L796.06,27.63 L797.12,27.59 L798.19,27.56 L799.25,27.52 L800.32,27.48 L801.38,27.45 L802.45,27.41 L803.51,27.38 L804.58,27.35 L805.64,27.31 L806.71,27.28 L807.77,27.25 L808.84,27.22 L809.9,27.19 L810.97,27.16 L812.03,27.13 L813.1,27.1 L814.16,27.07 L815.23,27.04 L816.29,27.02 L817.36,26.99 L818.42,26.97 L819.49,26.94 L820.55,26.92 L821.62,26.89 L822.68,26.87 L823.75,26.85 L824.81,26.82 L825.87,26.8 L826.94,26.78 L828,26.76 L829.07,26.73 L830.13,26.71 L831.2,26.69 L832.26,26.67 L833.33,26.65 L834.39,26.62 L835.46,26.6 L836.52,26.58 L837.59,26.56 L838.65,26.54 L839.72,26.52 L840.78,26.5 L841.85,26.48 L842.91,26.46 L843.98,26.44 L845.04,26.43 L846.11,26.41 L847.17,26.39 L848.24,26.37 L849.3,26.36 L850.37,26.34 L851.43,26.32 L852.5,26.31 L853.56,26.29 L854.63,26.28 L855.69,26.26 L856.76,26.25 L857.82,26.24 L858.89,26.22 L859.95,26.21 L861.02,26.2 L862.08,26.19 L863.14,26.18 L864.21,26.17 L865.27,26.16 L866.34,26.15 L867.4,26.14 L868.47,26.13 L869.53,26.13 L870.6,26.12 L871.66,26.11 L872.73,26.11 L873.79,26.1 L874.86,26.1 L875.92,26.09 L876.99,26.08 L878.05,26.08 L879.12,26.07 L880.18,26.07 L881.25,26.06 L882.31,26.05 L883.38,26.05 L884.44,26.04 L885.51,26.04 L886.57,26.03 L887.64,26.03 L888.7,26.03 L889.77,26.02 L890.83,26.02 L891.9,26.02 L892.96,26.01 L894.03,26.01 L895.09,26.01 L896.16,26 L897.22,26 L898.29,26 L899.35,26 L900.42,26 L901.48,26" fill="none" stroke="#000000" stroke-width="2.5" stroke-linejoin="round" stroke-linecap="round"/>
<rect x="545" y="13.3" width="380.3" height="265" fill="none" stroke="#1c1c1c" stroke-width="2"/>
<line x1="568" y1="278.3" x2="568" y2="284.3" stroke="#1c1c1c" stroke-width="1.8"/>
<line x1="647.4" y1="278.3" x2="647.4" y2="284.3" stroke="#1c1c1c" stroke-width="1.8"/>
<line x1="726.8" y1="278.3" x2="726.8" y2="284.3" stroke="#1c1c1c" stroke-width="1.8"/>
<line x1="806.2" y1="278.3" x2="806.2" y2="284.3" stroke="#1c1c1c" stroke-width="1.8"/>
<line x1="885.6" y1="278.3" x2="885.6" y2="284.3" stroke="#1c1c1c" stroke-width="1.8"/>
<line x1="607.7" y1="278.3" x2="607.7" y2="281.8" stroke="#1c1c1c" stroke-width="1.8"/>
<line x1="687.1" y1="278.3" x2="687.1" y2="281.8" stroke="#1c1c1c" stroke-width="1.8"/>
<line x1="766.5" y1="278.3" x2="766.5" y2="281.8" stroke="#1c1c1c" stroke-width="1.8"/>
<line x1="845.9" y1="278.3" x2="845.9" y2="281.8" stroke="#1c1c1c" stroke-width="1.8"/>
<line x1="925.3" y1="278.3" x2="925.3" y2="281.8" stroke="#1c1c1c" stroke-width="1.8"/>
<text x="568" y="299.3" font-size="15.5" text-anchor="middle" font-weight="bold" fill="#1c1c1c">0.80</text>
<text x="647.4" y="299.3" font-size="15.5" text-anchor="middle" font-weight="bold" fill="#1c1c1c">0.85</text>
<text x="726.8" y="299.3" font-size="15.5" text-anchor="middle" font-weight="bold" fill="#1c1c1c">0.90</text>
<text x="806.2" y="299.3" font-size="15.5" text-anchor="middle" font-weight="bold" fill="#1c1c1c">0.95</text>
<text x="885.6" y="299.3" font-size="15.5" text-anchor="middle" font-weight="bold" fill="#1c1c1c">1.00</text>
<line x1="545" y1="26" x2="539" y2="26" stroke="#1c1c1c" stroke-width="1.8"/>
<line x1="545" y1="89" x2="539" y2="89" stroke="#1c1c1c" stroke-width="1.8"/>
<line x1="545" y1="152" x2="539" y2="152" stroke="#1c1c1c" stroke-width="1.8"/>
<line x1="545" y1="215" x2="539" y2="215" stroke="#1c1c1c" stroke-width="1.8"/>
<line x1="545" y1="278" x2="539" y2="278" stroke="#1c1c1c" stroke-width="1.8"/>
<line x1="545" y1="57.5" x2="541.5" y2="57.5" stroke="#1c1c1c" stroke-width="1.8"/>
<line x1="545" y1="120.5" x2="541.5" y2="120.5" stroke="#1c1c1c" stroke-width="1.8"/>
<line x1="545" y1="183.5" x2="541.5" y2="183.5" stroke="#1c1c1c" stroke-width="1.8"/>
<line x1="545" y1="246.5" x2="541.5" y2="246.5" stroke="#1c1c1c" stroke-width="1.8"/>
<text x="536.8" y="29.25" font-size="15.5" text-anchor="end" font-weight="bold" fill="#1c1c1c">0.0</text>
<text x="536.8" y="92.25" font-size="15.5" text-anchor="end" font-weight="bold" fill="#1c1c1c">-0.5</text>
<text x="536.8" y="155.25" font-size="15.5" text-anchor="end" font-weight="bold" fill="#1c1c1c">-1.0</text>
<text x="536.8" y="218.25" font-size="15.5" text-anchor="end" font-weight="bold" fill="#1c1c1c">-1.5</text>
<text x="536.8" y="281.25" font-size="15.5" text-anchor="end" font-weight="bold" fill="#1c1c1c">-2.0</text>
<text x="497.5" y="154.5" font-size="20.5" text-anchor="middle" font-weight="bold" fill="#1c1c1c" transform="rotate(-90 497.5 154.5)">i<tspan font-size="13" dy="5">k</tspan><tspan dy="-5"> / </tspan><tspan font-size="13" dy="-2">(</tspan><tspan dy="2">A / mg</tspan><tspan font-size="13" dy="5">Pd</tspan><tspan font-size="13" dy="-7">)</tspan></text>
<text x="741.7" y="322" font-size="19.2" text-anchor="middle" font-weight="bold" fill="#1c1c1c">E / V (Vs RHE)</text>
<text x="549.5" y="38.9" font-size="26" text-anchor="start" font-weight="bold" fill="#1c1c1c">(b)</text>
<rect x="669.5" y="79.7" width="241.8" height="183.7" fill="#fff" stroke="#555" stroke-width="1.2"/>
<rect x="681.4" y="111.29" width="12.08" height="152.11" fill="#ff0000" stroke="#111" stroke-width="0.8"/>
<rect x="693.48" y="123.48" width="12.08" height="139.92" fill="#00ff00" stroke="#111" stroke-width="0.8"/>
<rect x="705.56" y="93.8" width="12.08" height="169.6" fill="#0000ff" stroke="#111" stroke-width="0.8"/>
<rect x="717.64" y="138.85" width="12.08" height="124.55" fill="#00ffff" stroke="#111" stroke-width="0.8"/>
<rect x="729.72" y="144.68" width="12.08" height="118.72" fill="#ff00ff" stroke="#111" stroke-width="0.8"/>
<rect x="741.8" y="152.1" width="12.08" height="111.3" fill="#ffff00" stroke="#111" stroke-width="0.8"/>
<rect x="753.88" y="155.28" width="12.08" height="108.12" fill="#808000" stroke="#111" stroke-width="0.8"/>
<rect x="765.96" y="208.28" width="12.08" height="55.12" fill="#000000" stroke="#111" stroke-width="0.8"/>
<rect x="802.2" y="246.97" width="12.2" height="16.43" fill="#ff0000" stroke="#111" stroke-width="0.8"/>
<rect x="814.4" y="246.97" width="12.2" height="16.43" fill="#00ff00" stroke="#111" stroke-width="0.8"/>
<rect x="826.6" y="240.29" width="12.2" height="23.11" fill="#0000ff" stroke="#111" stroke-width="0.8"/>
<rect x="838.8" y="249.09" width="12.2" height="14.31" fill="#00ffff" stroke="#111" stroke-width="0.8"/>
<rect x="851" y="246.97" width="12.2" height="16.43" fill="#ff00ff" stroke="#111" stroke-width="0.8"/>
<rect x="863.2" y="246.97" width="12.2" height="16.43" fill="#ffff00" stroke="#111" stroke-width="0.8"/>
<rect x="875.4" y="246.97" width="12.2" height="16.43" fill="#808000" stroke="#111" stroke-width="0.8"/>
<rect x="887.6" y="242.2" width="12.2" height="21.2" fill="#000000" stroke="#111" stroke-width="0.8"/>
<line x1="669.5" y1="263.4" x2="911.3" y2="263.4" stroke="#444" stroke-width="1.2"/>
<line x1="666.5" y1="263.4" x2="669.5" y2="263.4" stroke="#444" stroke-width="1"/>
<text x="665.7" y="266.8" font-size="9.5" text-anchor="end" font-weight="bold" fill="#333">0.00</text>
<line x1="666.5" y1="236.9" x2="669.5" y2="236.9" stroke="#444" stroke-width="1"/>
<text x="665.7" y="240.3" font-size="9.5" text-anchor="end" font-weight="bold" fill="#333">0.05</text>
<line x1="666.5" y1="210.4" x2="669.5" y2="210.4" stroke="#444" stroke-width="1"/>
<text x="665.7" y="213.8" font-size="9.5" text-anchor="end" font-weight="bold" fill="#333">0.10</text>
<line x1="666.5" y1="183.9" x2="669.5" y2="183.9" stroke="#444" stroke-width="1"/>
<text x="665.7" y="187.3" font-size="9.5" text-anchor="end" font-weight="bold" fill="#333">0.15</text>
<line x1="666.5" y1="157.4" x2="669.5" y2="157.4" stroke="#444" stroke-width="1"/>
<text x="665.7" y="160.8" font-size="9.5" text-anchor="end" font-weight="bold" fill="#333">0.20</text>
<line x1="666.5" y1="130.9" x2="669.5" y2="130.9" stroke="#444" stroke-width="1"/>
<text x="665.7" y="134.3" font-size="9.5" text-anchor="end" font-weight="bold" fill="#333">0.25</text>
<line x1="666.5" y1="104.4" x2="669.5" y2="104.4" stroke="#444" stroke-width="1"/>
<text x="665.7" y="107.8" font-size="9.5" text-anchor="end" font-weight="bold" fill="#333">0.30</text>
<text x="710.5" y="90" font-size="9.5" text-anchor="middle" font-weight="bold" fill="#333">0.86 V</text>
<text x="848.5" y="236.5" font-size="9.5" text-anchor="middle" font-weight="bold" fill="#333">0.91 V</text>
<rect x="822.8" y="91.65" width="12.5" height="5.5" fill="#ff0000" stroke="#222" stroke-width="0.6"/>
<text x="838" y="98.18" font-size="10.5" text-anchor="start" font-weight="normal" fill="#222">Ag<tspan font-size="5.8" dy="3">10</tspan><tspan dy="-3">@Pd</tspan><tspan font-size="5.8" dy="3">1</tspan><tspan dy="-3">/C</tspan></text>
<rect x="822.8" y="108.05" width="12.5" height="5.5" fill="#00ff00" stroke="#222" stroke-width="0.6"/>
<text x="838" y="114.58" font-size="10.5" text-anchor="start" font-weight="normal" fill="#222">Ag<tspan font-size="5.8" dy="3">10</tspan><tspan dy="-3">@Pd</tspan><tspan font-size="5.8" dy="3">2</tspan><tspan dy="-3">/C</tspan></text>
<rect x="822.8" y="124.45" width="12.5" height="5.5" fill="#0000ff" stroke="#222" stroke-width="0.6"/>
<text x="838" y="130.98" font-size="10.5" text-anchor="start" font-weight="normal" fill="#222">Ag<tspan font-size="5.8" dy="3">10</tspan><tspan dy="-3">@Pd</tspan><tspan font-size="5.8" dy="3">3</tspan><tspan dy="-3">/C</tspan></text>
<rect x="822.8" y="140.85" width="12.5" height="5.5" fill="#00ffff" stroke="#222" stroke-width="0.6"/>
<text x="838" y="147.38" font-size="10.5" text-anchor="start" font-weight="normal" fill="#222">Ag<tspan font-size="5.8" dy="3">10</tspan><tspan dy="-3">@Pd</tspan><tspan font-size="5.8" dy="3">4</tspan><tspan dy="-3">/C</tspan></text>
<rect x="822.8" y="157.25" width="12.5" height="5.5" fill="#ff00ff" stroke="#222" stroke-width="0.6"/>
<text x="838" y="163.78" font-size="10.5" text-anchor="start" font-weight="normal" fill="#222">Ag<tspan font-size="5.8" dy="3">10</tspan><tspan dy="-3">@Pd</tspan><tspan font-size="5.8" dy="3">5</tspan><tspan dy="-3">/C</tspan></text>
<rect x="822.8" y="173.65" width="12.5" height="5.5" fill="#ffff00" stroke="#222" stroke-width="0.6"/>
<text x="838" y="180.18" font-size="10.5" text-anchor="start" font-weight="normal" fill="#222">Ag<tspan font-size="5.8" dy="3">10</tspan><tspan dy="-3">@Pd</tspan><tspan font-size="5.8" dy="3">6</tspan><tspan dy="-3">/C</tspan></text>
<rect x="822.8" y="190.05" width="12.5" height="5.5" fill="#808000" stroke="#222" stroke-width="0.6"/>
<text x="838" y="196.58" font-size="10.5" text-anchor="start" font-weight="normal" fill="#222">Ag<tspan font-size="5.8" dy="3">10</tspan><tspan dy="-3">@Pd</tspan><tspan font-size="5.8" dy="3">7</tspan><tspan dy="-3">/C</tspan></text>
<rect x="822.8" y="206.45" width="12.5" height="5.5" fill="#000000" stroke="#222" stroke-width="0.6"/>
<text x="838" y="212.98" font-size="10.5" text-anchor="start" font-weight="normal" fill="#222">Pd/C</text>
<path d="M1053.66,141.33 L1054.99,138.22 L1056.32,135.19 L1057.65,132.26 L1058.98,129.4 L1060.31,126.63 L1061.63,123.93 L1062.96,121.31 L1064.29,118.77 L1065.62,116.3 L1066.95,113.89 L1068.28,111.56 L1069.61,109.29 L1070.94,107.09 L1072.27,104.94 L1073.6,102.86 L1074.92,100.84 L1076.25,98.88 L1077.58,96.97 L1078.91,95.11 L1080.24,93.31 L1081.57,91.55 L1082.9,89.85 L1084.23,88.2 L1085.56,86.59 L1086.89,85.03 L1088.22,83.51 L1089.54,82.04 L1090.87,80.6 L1092.2,79.21 L1093.53,77.86 L1094.86,76.54 L1096.19,75.26 L1097.52,74.02 L1098.85,72.82 L1100.18,71.65 L1101.51,70.51 L1102.83,69.4 L1104.16,68.32 L1105.49,67.28 L1106.82,66.26 L1108.15,65.28 L1109.48,64.32 L1110.81,63.39 L1112.14,62.48 L1113.47,61.6 L1114.8,60.75 L1116.12,59.92 L1117.45,59.11 L1118.78,58.32 L1120.11,57.56 L1121.44,56.82 L1122.77,56.1 L1124.1,55.4 L1125.43,54.72 L1126.76,54.06 L1128.09,53.42 L1129.42,52.8 L1130.74,52.19 L1132.07,51.61 L1133.4,51.03 L1134.73,50.48 L1136.06,49.94 L1137.39,49.41 L1138.72,48.9 L1140.05,48.41 L1141.38,47.93 L1142.71,47.46 L1144.03,47 L1145.36,46.56 L1146.69,46.13 L1148.02,45.72 L1149.35,45.31 L1150.68,44.92 L1152.01,44.54 L1153.34,44.16 L1154.67,43.8 L1156,43.45 L1157.33,43.11 L1158.65,42.78 L1159.98,42.46 L1161.31,42.14 L1162.64,41.84 L1163.97,41.54 L1165.3,41.26 L1166.63,40.98 L1167.96,40.71 L1169.29,40.44 L1170.62,40.19 L1171.94,39.94 L1173.27,39.7 L1174.6,39.46 L1175.93,39.23 L1177.26,39.01 L1178.59,38.8 L1179.92,38.59 L1181.25,38.38 L1182.58,38.19 L1183.91,37.99 L1185.24,37.81 L1186.56,37.63 L1187.89,37.45 L1189.22,37.28 L1190.55,37.11 L1191.88,36.95 L1193.21,36.79 L1194.54,36.64 L1195.87,36.49 L1197.2,36.35 L1198.53,36.21 L1199.85,36.07 L1201.18,35.94 L1202.51,35.81 L1203.84,35.69 L1205.17,35.57 L1206.5,35.45 L1207.83,35.33 L1209.16,35.22 L1210.49,35.11 L1211.82,35.01 L1213.14,34.91 L1214.47,34.81 L1215.8,34.71 L1217.13,34.62 L1218.46,34.53 L1219.79,34.44 L1221.12,34.35 L1222.45,34.27 L1223.78,34.19 L1225.11,34.11 L1226.44,34.03 L1227.76,33.96 L1229.09,33.88 L1230.42,33.81 L1231.75,33.75 L1233.08,33.68 L1234.41,33.62 L1235.74,33.55 L1237.07,33.49 L1238.4,33.43 L1239.73,33.37 L1241.05,33.32 L1242.38,33.26 L1243.71,33.21 L1245.04,33.16 L1246.37,33.11 L1247.7,33.06 L1249.03,33.02 L1250.36,32.97 L1251.69,32.93 L1253.02,32.88 L1254.35,32.84 L1255.67,32.8 L1257,32.76 L1258.33,32.72 L1259.66,32.68 L1260.99,32.65 L1262.32,32.61 L1263.65,32.58 L1264.98,32.54 L1266.31,32.51 L1267.64,32.48 L1268.96,32.45 L1270.29,32.42 L1271.62,32.39 L1272.95,32.36 L1274.28,32.34 L1275.61,32.31 L1276.94,32.28 L1278.27,32.26 L1279.6,32.23 L1280.93,32.21 L1282.26,32.19 L1283.58,32.17 L1284.91,32.14 L1286.24,32.12 L1287.57,32.1 L1288.9,32.08 L1290.23,32.06 L1291.56,32.04 L1292.89,32.03 L1294.22,32.01 L1295.55,31.99 L1296.87,31.97 L1298.2,31.96 L1299.53,31.94 L1300.86,31.93 L1302.19,31.91 L1303.52,31.9 L1304.85,31.88 L1306.18,31.87 L1307.51,31.86 L1308.84,31.84 L1310.16,31.83 L1311.49,31.82 L1312.82,31.81 L1314.15,31.8 L1315.48,31.78 L1316.81,31.77 L1318.14,31.76 L1319.47,31.75 L1320.8,31.74 L1322.13,31.73 L1323.46,31.72 L1324.78,31.71 L1326.11,31.71 L1327.44,31.7 L1328.77,31.69 L1330.1,31.68 L1331.43,31.67 L1332.76,31.66 L1334.09,31.66 L1335.42,31.65 L1336.75,31.64 L1338.07,31.64 L1339.4,31.63 L1340.73,31.62 L1342.06,31.62 L1343.39,31.61 L1344.72,31.6" fill="none" stroke="#ff0000" stroke-width="2.5" stroke-linejoin="round" stroke-linecap="round"/>
<path d="M1053.66,171.07 L1054.99,167.01 L1056.32,163.07 L1057.65,159.24 L1058.98,155.53 L1060.31,151.92 L1061.63,148.41 L1062.96,145.01 L1064.29,141.71 L1065.62,138.5 L1066.95,135.39 L1068.28,132.36 L1069.61,129.43 L1070.94,126.58 L1072.27,123.81 L1073.6,121.12 L1074.92,118.52 L1076.25,115.98 L1077.58,113.52 L1078.91,111.14 L1080.24,108.82 L1081.57,106.57 L1082.9,104.38 L1084.23,102.26 L1085.56,100.2 L1086.89,98.2 L1088.22,96.26 L1089.54,94.37 L1090.87,92.54 L1092.2,90.76 L1093.53,89.04 L1094.86,87.36 L1096.19,85.73 L1097.52,84.16 L1098.85,82.62 L1100.18,81.13 L1101.51,79.69 L1102.83,78.28 L1104.16,76.92 L1105.49,75.6 L1106.82,74.31 L1108.15,73.06 L1109.48,71.85 L1110.81,70.68 L1112.14,69.53 L1113.47,68.43 L1114.8,67.35 L1116.12,66.3 L1117.45,65.29 L1118.78,64.3 L1120.11,63.35 L1121.44,62.42 L1122.77,61.52 L1124.1,60.64 L1125.43,59.79 L1126.76,58.97 L1128.09,58.16 L1129.42,57.39 L1130.74,56.63 L1132.07,55.9 L1133.4,55.18 L1134.73,54.49 L1136.06,53.82 L1137.39,53.17 L1138.72,52.54 L1140.05,51.92 L1141.38,51.33 L1142.71,50.75 L1144.03,50.18 L1145.36,49.64 L1146.69,49.11 L1148.02,48.59 L1149.35,48.09 L1150.68,47.61 L1152.01,47.14 L1153.34,46.68 L1154.67,46.23 L1156,45.8 L1157.33,45.38 L1158.65,44.98 L1159.98,44.58 L1161.31,44.2 L1162.64,43.83 L1163.97,43.47 L1165.3,43.12 L1166.63,42.77 L1167.96,42.44 L1169.29,42.12 L1170.62,41.81 L1171.94,41.51 L1173.27,41.21 L1174.6,40.93 L1175.93,40.65 L1177.26,40.38 L1178.59,40.12 L1179.92,39.87 L1181.25,39.62 L1182.58,39.38 L1183.91,39.15 L1185.24,38.93 L1186.56,38.71 L1187.89,38.49 L1189.22,38.29 L1190.55,38.09 L1191.88,37.89 L1193.21,37.7 L1194.54,37.52 L1195.87,37.34 L1197.2,37.17 L1198.53,37 L1199.85,36.84 L1201.18,36.68 L1202.51,36.53 L1203.84,36.38 L1205.17,36.23 L1206.5,36.09 L1207.83,35.96 L1209.16,35.82 L1210.49,35.7 L1211.82,35.57 L1213.14,35.45 L1214.47,35.33 L1215.8,35.22 L1217.13,35.11 L1218.46,35 L1219.79,34.89 L1221.12,34.79 L1222.45,34.69 L1223.78,34.6 L1225.11,34.51 L1226.44,34.42 L1227.76,34.33 L1229.09,34.24 L1230.42,34.16 L1231.75,34.08 L1233.08,34 L1234.41,33.93 L1235.74,33.85 L1237.07,33.78 L1238.4,33.71 L1239.73,33.64 L1241.05,33.58 L1242.38,33.52 L1243.71,33.45 L1245.04,33.39 L1246.37,33.34 L1247.7,33.28 L1249.03,33.23 L1250.36,33.17 L1251.69,33.12 L1253.02,33.07 L1254.35,33.02 L1255.67,32.98 L1257,32.93 L1258.33,32.89 L1259.66,32.84 L1260.99,32.8 L1262.32,32.76 L1263.65,32.72 L1264.98,32.68 L1266.31,32.64 L1267.64,32.61 L1268.96,32.57 L1270.29,32.54 L1271.62,32.51 L1272.95,32.47 L1274.28,32.44 L1275.61,32.41 L1276.94,32.38 L1278.27,32.35 L1279.6,32.33 L1280.93,32.3 L1282.26,32.27 L1283.58,32.25 L1284.91,32.22 L1286.24,32.2 L1287.57,32.18 L1288.9,32.15 L1290.23,32.13 L1291.56,32.11 L1292.89,32.09 L1294.22,32.07 L1295.55,32.05 L1296.87,32.03 L1298.2,32.01 L1299.53,32 L1300.86,31.98 L1302.19,31.96 L1303.52,31.94 L1304.85,31.93 L1306.18,31.91 L1307.51,31.9 L1308.84,31.88 L1310.16,31.87 L1311.49,31.86 L1312.82,31.84 L1314.15,31.83 L1315.48,31.82 L1316.81,31.81 L1318.14,31.79 L1319.47,31.78 L1320.8,31.77 L1322.13,31.76 L1323.46,31.75 L1324.78,31.74 L1326.11,31.73 L1327.44,31.72 L1328.77,31.71 L1330.1,31.7 L1331.43,31.69 L1332.76,31.68 L1334.09,31.68 L1335.42,31.67 L1336.75,31.66 L1338.07,31.65 L1339.4,31.65 L1340.73,31.64 L1342.06,31.63 L1343.39,31.62 L1344.72,31.62" fill="none" stroke="#00ff00" stroke-width="2.5" stroke-linejoin="round" stroke-linecap="round"/>
<path d="M1053.66,222.41 L1054.99,217.25 L1056.32,212.23 L1057.65,207.34 L1058.98,202.59 L1060.31,197.96 L1061.63,193.46 L1062.96,189.08 L1064.29,184.82 L1065.62,180.67 L1066.95,176.64 L1068.28,172.71 L1069.61,168.89 L1070.94,165.18 L1072.27,161.56 L1073.6,158.05 L1074.92,154.62 L1076.25,151.29 L1077.58,148.05 L1078.91,144.9 L1080.24,141.83 L1081.57,138.85 L1082.9,135.94 L1084.23,133.12 L1085.56,130.37 L1086.89,127.7 L1088.22,125.09 L1089.54,122.56 L1090.87,120.1 L1092.2,117.7 L1093.53,115.37 L1094.86,113.1 L1096.19,110.89 L1097.52,108.74 L1098.85,106.65 L1100.18,104.62 L1101.51,102.64 L1102.83,100.71 L1104.16,98.84 L1105.49,97.02 L1106.82,95.25 L1108.15,93.52 L1109.48,91.84 L1110.81,90.21 L1112.14,88.62 L1113.47,87.07 L1114.8,85.57 L1116.12,84.1 L1117.45,82.68 L1118.78,81.29 L1120.11,79.94 L1121.44,78.63 L1122.77,77.36 L1124.1,76.11 L1125.43,74.91 L1126.76,73.73 L1128.09,72.59 L1129.42,71.47 L1130.74,70.39 L1132.07,69.34 L1133.4,68.31 L1134.73,67.31 L1136.06,66.34 L1137.39,65.4 L1138.72,64.48 L1140.05,63.59 L1141.38,62.72 L1142.71,61.87 L1144.03,61.05 L1145.36,60.25 L1146.69,59.47 L1148.02,58.71 L1149.35,57.97 L1150.68,57.25 L1152.01,56.55 L1153.34,55.87 L1154.67,55.21 L1156,54.57 L1157.33,53.94 L1158.65,53.33 L1159.98,52.74 L1161.31,52.16 L1162.64,51.6 L1163.97,51.06 L1165.3,50.52 L1166.63,50.01 L1167.96,49.5 L1169.29,49.02 L1170.62,48.54 L1171.94,48.08 L1173.27,47.63 L1174.6,47.19 L1175.93,46.76 L1177.26,46.35 L1178.59,45.94 L1179.92,45.55 L1181.25,45.17 L1182.58,44.79 L1183.91,44.43 L1185.24,44.08 L1186.56,43.74 L1187.89,43.4 L1189.22,43.08 L1190.55,42.76 L1191.88,42.46 L1193.21,42.16 L1194.54,41.87 L1195.87,41.58 L1197.2,41.31 L1198.53,41.04 L1199.85,40.78 L1201.18,40.53 L1202.51,40.28 L1203.84,40.04 L1205.17,39.81 L1206.5,39.58 L1207.83,39.36 L1209.16,39.14 L1210.49,38.93 L1211.82,38.73 L1213.14,38.53 L1214.47,38.34 L1215.8,38.15 L1217.13,37.97 L1218.46,37.79 L1219.79,37.62 L1221.12,37.45 L1222.45,37.29 L1223.78,37.13 L1225.11,36.97 L1226.44,36.82 L1227.76,36.68 L1229.09,36.53 L1230.42,36.4 L1231.75,36.26 L1233.08,36.13 L1234.41,36 L1235.74,35.88 L1237.07,35.76 L1238.4,35.64 L1239.73,35.52 L1241.05,35.41 L1242.38,35.3 L1243.71,35.2 L1245.04,35.1 L1246.37,35 L1247.7,34.9 L1249.03,34.8 L1250.36,34.71 L1251.69,34.62 L1253.02,34.54 L1254.35,34.45 L1255.67,34.37 L1257,34.29 L1258.33,34.21 L1259.66,34.13 L1260.99,34.06 L1262.32,33.99 L1263.65,33.92 L1264.98,33.85 L1266.31,33.78 L1267.64,33.72 L1268.96,33.66 L1270.29,33.6 L1271.62,33.54 L1272.95,33.48 L1274.28,33.42 L1275.61,33.37 L1276.94,33.31 L1278.27,33.26 L1279.6,33.21 L1280.93,33.16 L1282.26,33.12 L1283.58,33.07 L1284.91,33.02 L1286.24,32.98 L1287.57,32.94 L1288.9,32.9 L1290.23,32.86 L1291.56,32.82 L1292.89,32.78 L1294.22,32.74 L1295.55,32.7 L1296.87,32.67 L1298.2,32.64 L1299.53,32.6 L1300.86,32.57 L1302.19,32.54 L1303.52,32.51 L1304.85,32.48 L1306.18,32.45 L1307.51,32.42 L1308.84,32.39 L1310.16,32.37 L1311.49,32.34 L1312.82,32.31 L1314.15,32.29 L1315.48,32.27 L1316.81,32.24 L1318.14,32.22 L1319.47,32.2 L1320.8,32.18 L1322.13,32.15 L1323.46,32.13 L1324.78,32.11 L1326.11,32.09 L1327.44,32.08 L1328.77,32.06 L1330.1,32.04 L1331.43,32.02 L1332.76,32.01 L1334.09,31.99 L1335.42,31.97 L1336.75,31.96 L1338.07,31.94 L1339.4,31.93 L1340.73,31.91 L1342.06,31.9 L1343.39,31.89 L1344.72,31.87" fill="none" stroke="#0000ff" stroke-width="2.5" stroke-linejoin="round" stroke-linecap="round"/>
<path d="M1053.66,229.21 L1054.99,223.22 L1056.32,217.42 L1057.65,211.79 L1058.98,206.33 L1060.31,201.03 L1061.63,195.9 L1062.96,190.92 L1064.29,186.09 L1065.62,181.41 L1066.95,176.87 L1068.28,172.47 L1069.61,168.2 L1070.94,164.06 L1072.27,160.04 L1073.6,156.15 L1074.92,152.37 L1076.25,148.71 L1077.58,145.16 L1078.91,141.72 L1080.24,138.38 L1081.57,135.14 L1082.9,132 L1084.23,128.96 L1085.56,126 L1086.89,123.14 L1088.22,120.36 L1089.54,117.67 L1090.87,115.06 L1092.2,112.53 L1093.53,110.07 L1094.86,107.69 L1096.19,105.38 L1097.52,103.14 L1098.85,100.97 L1100.18,98.87 L1101.51,96.82 L1102.83,94.84 L1104.16,92.92 L1105.49,91.06 L1106.82,89.26 L1108.15,87.5 L1109.48,85.81 L1110.81,84.16 L1112.14,82.56 L1113.47,81.01 L1114.8,79.51 L1116.12,78.06 L1117.45,76.64 L1118.78,75.27 L1120.11,73.95 L1121.44,72.66 L1122.77,71.41 L1124.1,70.2 L1125.43,69.02 L1126.76,67.89 L1128.09,66.78 L1129.42,65.71 L1130.74,64.67 L1132.07,63.67 L1133.4,62.69 L1134.73,61.74 L1136.06,60.82 L1137.39,59.93 L1138.72,59.07 L1140.05,58.23 L1141.38,57.42 L1142.71,56.63 L1144.03,55.87 L1145.36,55.13 L1146.69,54.41 L1148.02,53.71 L1149.35,53.04 L1150.68,52.38 L1152.01,51.75 L1153.34,51.13 L1154.67,50.53 L1156,49.96 L1157.33,49.39 L1158.65,48.85 L1159.98,48.32 L1161.31,47.81 L1162.64,47.31 L1163.97,46.83 L1165.3,46.36 L1166.63,45.91 L1167.96,45.47 L1169.29,45.05 L1170.62,44.63 L1171.94,44.23 L1173.27,43.84 L1174.6,43.47 L1175.93,43.1 L1177.26,42.75 L1178.59,42.4 L1179.92,42.07 L1181.25,41.75 L1182.58,41.44 L1183.91,41.13 L1185.24,40.84 L1186.56,40.55 L1187.89,40.27 L1189.22,40.01 L1190.55,39.75 L1191.88,39.49 L1193.21,39.25 L1194.54,39.01 L1195.87,38.78 L1197.2,38.56 L1198.53,38.34 L1199.85,38.13 L1201.18,37.93 L1202.51,37.73 L1203.84,37.54 L1205.17,37.35 L1206.5,37.17 L1207.83,37 L1209.16,36.83 L1210.49,36.66 L1211.82,36.5 L1213.14,36.35 L1214.47,36.2 L1215.8,36.05 L1217.13,35.91 L1218.46,35.78 L1219.79,35.64 L1221.12,35.52 L1222.45,35.39 L1223.78,35.27 L1225.11,35.15 L1226.44,35.04 L1227.76,34.93 L1229.09,34.82 L1230.42,34.72 L1231.75,34.62 L1233.08,34.52 L1234.41,34.43 L1235.74,34.34 L1237.07,34.25 L1238.4,34.16 L1239.73,34.08 L1241.05,34 L1242.38,33.92 L1243.71,33.84 L1245.04,33.77 L1246.37,33.7 L1247.7,33.63 L1249.03,33.56 L1250.36,33.49 L1251.69,33.43 L1253.02,33.37 L1254.35,33.31 L1255.67,33.25 L1257,33.19 L1258.33,33.14 L1259.66,33.09 L1260.99,33.04 L1262.32,32.99 L1263.65,32.94 L1264.98,32.89 L1266.31,32.85 L1267.64,32.8 L1268.96,32.76 L1270.29,32.72 L1271.62,32.68 L1272.95,32.64 L1274.28,32.6 L1275.61,32.57 L1276.94,32.53 L1278.27,32.5 L1279.6,32.46 L1280.93,32.43 L1282.26,32.4 L1283.58,32.37 L1284.91,32.34 L1286.24,32.31 L1287.57,32.29 L1288.9,32.26 L1290.23,32.23 L1291.56,32.21 L1292.89,32.18 L1294.22,32.16 L1295.55,32.14 L1296.87,32.11 L1298.2,32.09 L1299.53,32.07 L1300.86,32.05 L1302.19,32.03 L1303.52,32.01 L1304.85,31.99 L1306.18,31.98 L1307.51,31.96 L1308.84,31.94 L1310.16,31.92 L1311.49,31.91 L1312.82,31.89 L1314.15,31.88 L1315.48,31.86 L1316.81,31.85 L1318.14,31.84 L1319.47,31.82 L1320.8,31.81 L1322.13,31.8 L1323.46,31.79 L1324.78,31.77 L1326.11,31.76 L1327.44,31.75 L1328.77,31.74 L1330.1,31.73 L1331.43,31.72 L1332.76,31.71 L1334.09,31.7 L1335.42,31.69 L1336.75,31.68 L1338.07,31.68 L1339.4,31.67 L1340.73,31.66 L1342.06,31.65 L1343.39,31.64 L1344.72,31.64" fill="none" stroke="#00ffff" stroke-width="2.5" stroke-linejoin="round" stroke-linecap="round"/>
<path d="M1053.66,241.29 L1054.99,234.81 L1056.32,228.54 L1057.65,222.46 L1058.98,216.56 L1060.31,210.85 L1061.63,205.31 L1062.96,199.95 L1064.29,194.75 L1065.62,189.71 L1066.95,184.83 L1068.28,180.09 L1069.61,175.51 L1070.94,171.06 L1072.27,166.75 L1073.6,162.58 L1074.92,158.53 L1076.25,154.61 L1077.58,150.81 L1078.91,147.12 L1080.24,143.55 L1081.57,140.09 L1082.9,136.74 L1084.23,133.49 L1085.56,130.34 L1086.89,127.29 L1088.22,124.33 L1089.54,121.46 L1090.87,118.68 L1092.2,115.99 L1093.53,113.38 L1094.86,110.85 L1096.19,108.4 L1097.52,106.02 L1098.85,103.72 L1100.18,101.49 L1101.51,99.33 L1102.83,97.23 L1104.16,95.2 L1105.49,93.23 L1106.82,91.33 L1108.15,89.48 L1109.48,87.69 L1110.81,85.95 L1112.14,84.27 L1113.47,82.64 L1114.8,81.05 L1116.12,79.52 L1117.45,78.04 L1118.78,76.6 L1120.11,75.2 L1121.44,73.85 L1122.77,72.54 L1124.1,71.27 L1125.43,70.04 L1126.76,68.85 L1128.09,67.7 L1129.42,66.58 L1130.74,65.49 L1132.07,64.44 L1133.4,63.42 L1134.73,62.43 L1136.06,61.48 L1137.39,60.55 L1138.72,59.65 L1140.05,58.78 L1141.38,57.93 L1142.71,57.11 L1144.03,56.32 L1145.36,55.55 L1146.69,54.81 L1148.02,54.08 L1149.35,53.38 L1150.68,52.71 L1152.01,52.05 L1153.34,51.41 L1154.67,50.79 L1156,50.2 L1157.33,49.62 L1158.65,49.05 L1159.98,48.51 L1161.31,47.98 L1162.64,47.47 L1163.97,46.97 L1165.3,46.49 L1166.63,46.03 L1167.96,45.58 L1169.29,45.14 L1170.62,44.72 L1171.94,44.3 L1173.27,43.91 L1174.6,43.52 L1175.93,43.15 L1177.26,42.78 L1178.59,42.43 L1179.92,42.09 L1181.25,41.76 L1182.58,41.44 L1183.91,41.13 L1185.24,40.83 L1186.56,40.54 L1187.89,40.26 L1189.22,39.99 L1190.55,39.72 L1191.88,39.47 L1193.21,39.22 L1194.54,38.98 L1195.87,38.74 L1197.2,38.52 L1198.53,38.3 L1199.85,38.08 L1201.18,37.88 L1202.51,37.68 L1203.84,37.48 L1205.17,37.3 L1206.5,37.11 L1207.83,36.94 L1209.16,36.77 L1210.49,36.6 L1211.82,36.44 L1213.14,36.29 L1214.47,36.13 L1215.8,35.99 L1217.13,35.85 L1218.46,35.71 L1219.79,35.58 L1221.12,35.45 L1222.45,35.32 L1223.78,35.2 L1225.11,35.08 L1226.44,34.97 L1227.76,34.86 L1229.09,34.75 L1230.42,34.65 L1231.75,34.55 L1233.08,34.45 L1234.41,34.36 L1235.74,34.27 L1237.07,34.18 L1238.4,34.09 L1239.73,34.01 L1241.05,33.93 L1242.38,33.85 L1243.71,33.78 L1245.04,33.7 L1246.37,33.63 L1247.7,33.56 L1249.03,33.5 L1250.36,33.43 L1251.69,33.37 L1253.02,33.31 L1254.35,33.25 L1255.67,33.19 L1257,33.14 L1258.33,33.08 L1259.66,33.03 L1260.99,32.98 L1262.32,32.93 L1263.65,32.88 L1264.98,32.84 L1266.31,32.79 L1267.64,32.75 L1268.96,32.71 L1270.29,32.67 L1271.62,32.63 L1272.95,32.59 L1274.28,32.56 L1275.61,32.52 L1276.94,32.49 L1278.27,32.45 L1279.6,32.42 L1280.93,32.39 L1282.26,32.36 L1283.58,32.33 L1284.91,32.3 L1286.24,32.27 L1287.57,32.24 L1288.9,32.22 L1290.23,32.19 L1291.56,32.17 L1292.89,32.15 L1294.22,32.12 L1295.55,32.1 L1296.87,32.08 L1298.2,32.06 L1299.53,32.04 L1300.86,32.02 L1302.19,32 L1303.52,31.98 L1304.85,31.96 L1306.18,31.94 L1307.51,31.93 L1308.84,31.91 L1310.16,31.9 L1311.49,31.88 L1312.82,31.87 L1314.15,31.85 L1315.48,31.84 L1316.81,31.82 L1318.14,31.81 L1319.47,31.8 L1320.8,31.79 L1322.13,31.77 L1323.46,31.76 L1324.78,31.75 L1326.11,31.74 L1327.44,31.73 L1328.77,31.72 L1330.1,31.71 L1331.43,31.7 L1332.76,31.69 L1334.09,31.68 L1335.42,31.67 L1336.75,31.66 L1338.07,31.66 L1339.4,31.65 L1340.73,31.64 L1342.06,31.63 L1343.39,31.63 L1344.72,31.62" fill="none" stroke="#ff00ff" stroke-width="2.5" stroke-linejoin="round" stroke-linecap="round"/>
<path d="M1053.66,202.78 L1054.99,197.92 L1056.32,193.19 L1057.65,188.6 L1058.98,184.14 L1060.31,179.8 L1061.63,175.59 L1062.96,171.5 L1064.29,167.52 L1065.62,163.66 L1066.95,159.9 L1068.28,156.26 L1069.61,152.71 L1070.94,149.27 L1072.27,145.92 L1073.6,142.67 L1074.92,139.51 L1076.25,136.44 L1077.58,133.46 L1078.91,130.57 L1080.24,127.75 L1081.57,125.02 L1082.9,122.36 L1084.23,119.78 L1085.56,117.27 L1086.89,114.83 L1088.22,112.46 L1089.54,110.16 L1090.87,107.93 L1092.2,105.75 L1093.53,103.64 L1094.86,101.59 L1096.19,99.6 L1097.52,97.66 L1098.85,95.78 L1100.18,93.96 L1101.51,92.18 L1102.83,90.45 L1104.16,88.78 L1105.49,87.15 L1106.82,85.57 L1108.15,84.03 L1109.48,82.54 L1110.81,81.08 L1112.14,79.67 L1113.47,78.3 L1114.8,76.97 L1116.12,75.68 L1117.45,74.42 L1118.78,73.2 L1120.11,72.01 L1121.44,70.86 L1122.77,69.74 L1124.1,68.65 L1125.43,67.6 L1126.76,66.57 L1128.09,65.57 L1129.42,64.6 L1130.74,63.66 L1132.07,62.74 L1133.4,61.85 L1134.73,60.99 L1136.06,60.15 L1137.39,59.33 L1138.72,58.54 L1140.05,57.77 L1141.38,57.02 L1142.71,56.29 L1144.03,55.59 L1145.36,54.9 L1146.69,54.23 L1148.02,53.58 L1149.35,52.95 L1150.68,52.34 L1152.01,51.75 L1153.34,51.17 L1154.67,50.61 L1156,50.06 L1157.33,49.53 L1158.65,49.02 L1159.98,48.52 L1161.31,48.03 L1162.64,47.56 L1163.97,47.1 L1165.3,46.66 L1166.63,46.22 L1167.96,45.8 L1169.29,45.39 L1170.62,45 L1171.94,44.61 L1173.27,44.24 L1174.6,43.87 L1175.93,43.52 L1177.26,43.17 L1178.59,42.84 L1179.92,42.52 L1181.25,42.2 L1182.58,41.89 L1183.91,41.6 L1185.24,41.31 L1186.56,41.02 L1187.89,40.75 L1189.22,40.49 L1190.55,40.23 L1191.88,39.98 L1193.21,39.73 L1194.54,39.5 L1195.87,39.27 L1197.2,39.04 L1198.53,38.83 L1199.85,38.62 L1201.18,38.41 L1202.51,38.21 L1203.84,38.02 L1205.17,37.83 L1206.5,37.65 L1207.83,37.47 L1209.16,37.3 L1210.49,37.13 L1211.82,36.97 L1213.14,36.81 L1214.47,36.66 L1215.8,36.51 L1217.13,36.36 L1218.46,36.22 L1219.79,36.09 L1221.12,35.95 L1222.45,35.82 L1223.78,35.7 L1225.11,35.58 L1226.44,35.46 L1227.76,35.34 L1229.09,35.23 L1230.42,35.12 L1231.75,35.02 L1233.08,34.91 L1234.41,34.81 L1235.74,34.72 L1237.07,34.62 L1238.4,34.53 L1239.73,34.44 L1241.05,34.36 L1242.38,34.27 L1243.71,34.19 L1245.04,34.11 L1246.37,34.03 L1247.7,33.96 L1249.03,33.89 L1250.36,33.82 L1251.69,33.75 L1253.02,33.68 L1254.35,33.62 L1255.67,33.55 L1257,33.49 L1258.33,33.43 L1259.66,33.37 L1260.99,33.32 L1262.32,33.26 L1263.65,33.21 L1264.98,33.16 L1266.31,33.11 L1267.64,33.06 L1268.96,33.01 L1270.29,32.97 L1271.62,32.92 L1272.95,32.88 L1274.28,32.84 L1275.61,32.8 L1276.94,32.76 L1278.27,32.72 L1279.6,32.68 L1280.93,32.65 L1282.26,32.61 L1283.58,32.58 L1284.91,32.54 L1286.24,32.51 L1287.57,32.48 L1288.9,32.45 L1290.23,32.42 L1291.56,32.39 L1292.89,32.36 L1294.22,32.33 L1295.55,32.31 L1296.87,32.28 L1298.2,32.26 L1299.53,32.23 L1300.86,32.21 L1302.19,32.19 L1303.52,32.16 L1304.85,32.14 L1306.18,32.12 L1307.51,32.1 L1308.84,32.08 L1310.16,32.06 L1311.49,32.04 L1312.82,32.02 L1314.15,32.01 L1315.48,31.99 L1316.81,31.97 L1318.14,31.96 L1319.47,31.94 L1320.8,31.93 L1322.13,31.91 L1323.46,31.9 L1324.78,31.88 L1326.11,31.87 L1327.44,31.85 L1328.77,31.84 L1330.1,31.83 L1331.43,31.82 L1332.76,31.81 L1334.09,31.79 L1335.42,31.78 L1336.75,31.77 L1338.07,31.76 L1339.4,31.75 L1340.73,31.74 L1342.06,31.73 L1343.39,31.72 L1344.72,31.71" fill="none" stroke="#ffff00" stroke-width="2.5" stroke-linejoin="round" stroke-linecap="round"/>
<path d="M1053.66,229.21 L1054.99,223.24 L1056.32,217.45 L1057.65,211.84 L1058.98,206.4 L1060.31,201.12 L1061.63,196 L1062.96,191.03 L1064.29,186.21 L1065.62,181.54 L1066.95,177.01 L1068.28,172.62 L1069.61,168.36 L1070.94,164.23 L1072.27,160.22 L1073.6,156.33 L1074.92,152.56 L1076.25,148.91 L1077.58,145.36 L1078.91,141.92 L1080.24,138.59 L1081.57,135.35 L1082.9,132.22 L1084.23,129.18 L1085.56,126.23 L1086.89,123.37 L1088.22,120.59 L1089.54,117.9 L1090.87,115.29 L1092.2,112.76 L1093.53,110.3 L1094.86,107.92 L1096.19,105.61 L1097.52,103.38 L1098.85,101.2 L1100.18,99.1 L1101.51,97.06 L1102.83,95.07 L1104.16,93.15 L1105.49,91.29 L1106.82,89.48 L1108.15,87.73 L1109.48,86.03 L1110.81,84.38 L1112.14,82.78 L1113.47,81.23 L1114.8,79.73 L1116.12,78.27 L1117.45,76.86 L1118.78,75.49 L1120.11,74.16 L1121.44,72.87 L1122.77,71.61 L1124.1,70.4 L1125.43,69.22 L1126.76,68.08 L1128.09,66.98 L1129.42,65.9 L1130.74,64.86 L1132.07,63.85 L1133.4,62.87 L1134.73,61.92 L1136.06,61 L1137.39,60.11 L1138.72,59.24 L1140.05,58.4 L1141.38,57.59 L1142.71,56.8 L1144.03,56.03 L1145.36,55.29 L1146.69,54.57 L1148.02,53.87 L1149.35,53.19 L1150.68,52.53 L1152.01,51.9 L1153.34,51.28 L1154.67,50.68 L1156,50.1 L1157.33,49.53 L1158.65,48.99 L1159.98,48.45 L1161.31,47.94 L1162.64,47.44 L1163.97,46.96 L1165.3,46.49 L1166.63,46.03 L1167.96,45.59 L1169.29,45.16 L1170.62,44.75 L1171.94,44.35 L1173.27,43.95 L1174.6,43.58 L1175.93,43.21 L1177.26,42.85 L1178.59,42.51 L1179.92,42.17 L1181.25,41.85 L1182.58,41.53 L1183.91,41.23 L1185.24,40.93 L1186.56,40.64 L1187.89,40.36 L1189.22,40.09 L1190.55,39.83 L1191.88,39.58 L1193.21,39.33 L1194.54,39.09 L1195.87,38.86 L1197.2,38.63 L1198.53,38.41 L1199.85,38.2 L1201.18,38 L1202.51,37.8 L1203.84,37.61 L1205.17,37.42 L1206.5,37.24 L1207.83,37.06 L1209.16,36.89 L1210.49,36.72 L1211.82,36.56 L1213.14,36.41 L1214.47,36.26 L1215.8,36.11 L1217.13,35.97 L1218.46,35.83 L1219.79,35.7 L1221.12,35.57 L1222.45,35.44 L1223.78,35.32 L1225.11,35.2 L1226.44,35.09 L1227.76,34.98 L1229.09,34.87 L1230.42,34.76 L1231.75,34.66 L1233.08,34.56 L1234.41,34.47 L1235.74,34.37 L1237.07,34.29 L1238.4,34.2 L1239.73,34.11 L1241.05,34.03 L1242.38,33.95 L1243.71,33.88 L1245.04,33.8 L1246.37,33.73 L1247.7,33.66 L1249.03,33.59 L1250.36,33.52 L1251.69,33.46 L1253.02,33.4 L1254.35,33.34 L1255.67,33.28 L1257,33.22 L1258.33,33.17 L1259.66,33.11 L1260.99,33.06 L1262.32,33.01 L1263.65,32.96 L1264.98,32.92 L1266.31,32.87 L1267.64,32.83 L1268.96,32.78 L1270.29,32.74 L1271.62,32.7 L1272.95,32.66 L1274.28,32.62 L1275.61,32.59 L1276.94,32.55 L1278.27,32.52 L1279.6,32.48 L1280.93,32.45 L1282.26,32.42 L1283.58,32.39 L1284.91,32.36 L1286.24,32.33 L1287.57,32.3 L1288.9,32.27 L1290.23,32.25 L1291.56,32.22 L1292.89,32.2 L1294.22,32.17 L1295.55,32.15 L1296.87,32.13 L1298.2,32.1 L1299.53,32.08 L1300.86,32.06 L1302.19,32.04 L1303.52,32.02 L1304.85,32 L1306.18,31.99 L1307.51,31.97 L1308.84,31.95 L1310.16,31.94 L1311.49,31.92 L1312.82,31.9 L1314.15,31.89 L1315.48,31.87 L1316.81,31.86 L1318.14,31.85 L1319.47,31.83 L1320.8,31.82 L1322.13,31.81 L1323.46,31.79 L1324.78,31.78 L1326.11,31.77 L1327.44,31.76 L1328.77,31.75 L1330.1,31.74 L1331.43,31.73 L1332.76,31.72 L1334.09,31.71 L1335.42,31.7 L1336.75,31.69 L1338.07,31.68 L1339.4,31.67 L1340.73,31.66 L1342.06,31.66 L1343.39,31.65 L1344.72,31.64" fill="none" stroke="#808000" stroke-width="2.5" stroke-linejoin="round" stroke-linecap="round"/>
<path d="M1052.41,52.92 L1053.42,52.45 L1054.43,51.98 L1055.44,51.53 L1056.45,51.08 L1057.46,50.63 L1058.47,50.2 L1059.48,49.78 L1060.49,49.36 L1061.5,48.96 L1062.51,48.56 L1063.52,48.18 L1064.53,47.81 L1065.54,47.44 L1066.55,47.09 L1067.56,46.76 L1068.57,46.43 L1069.58,46.11 L1070.59,45.8 L1071.6,45.5 L1072.61,45.21 L1073.62,44.92 L1074.63,44.63 L1075.64,44.36 L1076.65,44.09 L1077.66,43.82 L1078.67,43.56 L1079.68,43.31 L1080.69,43.06 L1081.7,42.81 L1082.71,42.57 L1083.72,42.33 L1084.73,42.09 L1085.74,41.86 L1086.75,41.63 L1087.76,41.4 L1088.77,41.18 L1089.79,40.96 L1090.8,40.74 L1091.81,40.53 L1092.82,40.32 L1093.83,40.11 L1094.84,39.91 L1095.85,39.71 L1096.86,39.52 L1097.87,39.32 L1098.88,39.13 L1099.89,38.95 L1100.9,38.77 L1101.91,38.59 L1102.92,38.41 L1103.93,38.24 L1104.94,38.07 L1105.95,37.9 L1106.96,37.74 L1107.97,37.57 L1108.98,37.41 L1109.99,37.25 L1111,37.1 L1112.01,36.95 L1113.02,36.8 L1114.03,36.65 L1115.04,36.5 L1116.05,36.36 L1117.06,36.22 L1118.07,36.09 L1119.08,35.96 L1120.09,35.83 L1121.1,35.7 L1122.11,35.58 L1123.12,35.45 L1124.13,35.33 L1125.14,35.21 L1126.15,35.1 L1127.16,34.98 L1128.17,34.87 L1129.18,34.76 L1130.19,34.65 L1131.2,34.55 L1132.21,34.44 L1133.22,34.34 L1134.23,34.24 L1135.24,34.15 L1136.25,34.05 L1137.26,33.96 L1138.27,33.87 L1139.28,33.79 L1140.29,33.7 L1141.3,33.61 L1142.31,33.53 L1143.32,33.44 L1144.33,33.36 L1145.34,33.28 L1146.35,33.2 L1147.36,33.12 L1148.37,33.05 L1149.38,32.98 L1150.39,32.91 L1151.4,32.84 L1152.41,32.78 L1153.42,32.72 L1154.43,32.67 L1155.44,32.62 L1156.45,32.57 L1157.46,32.53 L1158.47,32.48 L1159.48,32.44 L1160.49,32.4 L1161.5,32.35 L1162.51,32.31 L1163.52,32.27 L1164.53,32.24 L1165.54,32.2 L1166.55,32.16 L1167.56,32.13 L1168.57,32.1 L1169.58,32.07 L1170.59,32.04 L1171.6,32.01 L1172.61,31.98 L1173.62,31.95 L1174.63,31.93 L1175.64,31.91 L1176.65,31.89 L1177.66,31.87 L1178.67,31.85 L1179.68,31.83 L1180.69,31.81 L1181.7,31.8 L1182.71,31.78 L1183.72,31.76 L1184.73,31.75 L1185.74,31.73 L1186.75,31.71 L1187.76,31.7 L1188.77,31.68 L1189.78,31.67 L1190.79,31.65 L1191.8,31.64 L1192.81,31.62 L1193.82,31.61 L1194.83,31.59 L1195.84,31.58 L1196.85,31.57 L1197.86,31.55 L1198.87,31.54 L1199.88,31.53 L1200.89,31.52 L1201.9,31.51 L1202.91,31.5 L1203.92,31.48 L1204.93,31.48 L1205.94,31.47 L1206.95,31.46 L1207.96,31.45 L1208.97,31.44 L1209.98,31.43 L1210.99,31.43 L1212,31.42 L1213.01,31.42 L1214.02,31.41 L1215.03,31.41 L1216.04,31.41 L1217.05,31.4 L1218.06,31.4 L1219.07,31.4 L1220.08,31.4 L1221.09,31.4 L1222.1,31.4 L1223.11,31.4 L1224.12,31.4 L1225.13,31.4 L1226.14,31.4 L1227.15,31.4 L1228.16,31.4 L1229.17,31.4 L1230.18,31.4 L1231.19,31.4 L1232.2,31.4 L1233.21,31.4 L1234.22,31.4 L1235.23,31.4 L1236.24,31.4 L1237.25,31.4 L1238.26,31.4 L1239.27,31.4 L1240.28,31.4 L1241.29,31.4 L1242.3,31.4 L1243.31,31.4 L1244.32,31.4 L1245.33,31.4 L1246.35,31.4 L1247.36,31.4 L1248.37,31.4 L1249.38,31.4 L1250.39,31.4 L1251.4,31.4 L1252.41,31.4 L1253.42,31.4 L1254.43,31.4 L1255.44,31.4 L1256.45,31.4 L1257.46,31.4 L1258.47,31.4 L1259.48,31.4 L1260.49,31.4 L1261.5,31.4 L1262.51,31.4 L1263.52,31.4 L1264.53,31.4 L1265.54,31.4 L1266.55,31.4 L1267.56,31.4 L1268.57,31.4 L1269.58,31.4 L1270.59,31.4 L1271.6,31.4 L1272.61,31.4 L1273.62,31.4 L1274.63,31.4 L1275.64,31.4 L1276.65,31.4 L1277.66,31.4 L1278.67,31.4 L1279.68,31.4 L1280.69,31.4 L1281.7,31.4 L1282.71,31.4 L1283.72,31.4 L1284.73,31.4 L1285.74,31.4 L1286.75,31.4 L1287.76,31.4 L1288.77,31.4 L1289.78,31.4 L1290.79,31.4 L1291.8,31.4 L1292.81,31.4 L1293.82,31.4 L1294.83,31.4 L1295.84,31.4 L1296.85,31.4 L1297.86,31.4 L1298.87,31.4 L1299.88,31.4 L1300.89,31.4 L1301.9,31.4 L1302.91,31.4 L1303.92,31.4 L1304.93,31.4 L1305.94,31.4 L1306.95,31.4 L1307.96,31.4 L1308.97,31.4 L1309.98,31.4 L1310.99,31.4 L1312,31.4 L1313.01,31.4 L1314.02,31.4 L1315.03,31.4 L1316.04,31.4 L1317.05,31.4 L1318.06,31.4 L1319.07,31.4 L1320.08,31.4 L1321.09,31.4 L1322.1,31.4 L1323.11,31.4 L1324.12,31.4 L1325.13,31.4 L1326.14,31.4 L1327.15,31.4 L1328.16,31.4 L1329.17,31.4 L1330.18,31.4 L1331.19,31.4 L1332.2,31.4 L1333.21,31.4 L1334.22,31.4 L1335.23,31.4 L1336.24,31.4 L1337.25,31.4 L1338.26,31.4 L1339.27,31.4 L1340.28,31.4 L1341.29,31.4 L1342.3,31.4 L1343.31,31.4 L1344.32,31.4 L1345.33,31.4 L1346.34,31.4 L1347.35,31.4 L1348.36,31.4 L1349.37,31.4 L1350.38,31.4 L1351.39,31.4 L1352.4,31.4 L1353.41,31.4 L1354.42,31.4" fill="none" stroke="#000000" stroke-width="2.6" stroke-linejoin="round" stroke-linecap="round"/>
<rect x="1005" y="13" width="380.8" height="264.2" fill="none" stroke="#1c1c1c" stroke-width="2"/>
<line x1="1039.8" y1="277.2" x2="1039.8" y2="283.2" stroke="#1c1c1c" stroke-width="1.8"/>
<line x1="1109.1" y1="277.2" x2="1109.1" y2="283.2" stroke="#1c1c1c" stroke-width="1.8"/>
<line x1="1178.4" y1="277.2" x2="1178.4" y2="283.2" stroke="#1c1c1c" stroke-width="1.8"/>
<line x1="1247.7" y1="277.2" x2="1247.7" y2="283.2" stroke="#1c1c1c" stroke-width="1.8"/>
<line x1="1317" y1="277.2" x2="1317" y2="283.2" stroke="#1c1c1c" stroke-width="1.8"/>
<line x1="1386.3" y1="277.2" x2="1386.3" y2="283.2" stroke="#1c1c1c" stroke-width="1.8"/>
<line x1="1074.45" y1="277.2" x2="1074.45" y2="280.7" stroke="#1c1c1c" stroke-width="1.8"/>
<line x1="1143.75" y1="277.2" x2="1143.75" y2="280.7" stroke="#1c1c1c" stroke-width="1.8"/>
<line x1="1213.05" y1="277.2" x2="1213.05" y2="280.7" stroke="#1c1c1c" stroke-width="1.8"/>
<line x1="1282.35" y1="277.2" x2="1282.35" y2="280.7" stroke="#1c1c1c" stroke-width="1.8"/>
<line x1="1351.65" y1="277.2" x2="1351.65" y2="280.7" stroke="#1c1c1c" stroke-width="1.8"/>
<text x="1039.8" y="297.5" font-size="15.5" text-anchor="middle" font-weight="bold" fill="#1c1c1c">0.80</text>
<text x="1109.1" y="297.5" font-size="15.5" text-anchor="middle" font-weight="bold" fill="#1c1c1c">0.85</text>
<text x="1178.4" y="297.5" font-size="15.5" text-anchor="middle" font-weight="bold" fill="#1c1c1c">0.90</text>
<text x="1247.7" y="297.5" font-size="15.5" text-anchor="middle" font-weight="bold" fill="#1c1c1c">0.95</text>
<text x="1317" y="297.5" font-size="15.5" text-anchor="middle" font-weight="bold" fill="#1c1c1c">1.00</text>
<text x="1386.3" y="297.5" font-size="15.5" text-anchor="middle" font-weight="bold" fill="#1c1c1c">1.05</text>
<line x1="1005" y1="31.4" x2="999" y2="31.4" stroke="#1c1c1c" stroke-width="1.8"/>
<line x1="1005" y1="69.15" x2="999" y2="69.15" stroke="#1c1c1c" stroke-width="1.8"/>
<line x1="1005" y1="106.9" x2="999" y2="106.9" stroke="#1c1c1c" stroke-width="1.8"/>
<line x1="1005" y1="144.65" x2="999" y2="144.65" stroke="#1c1c1c" stroke-width="1.8"/>
<line x1="1005" y1="182.4" x2="999" y2="182.4" stroke="#1c1c1c" stroke-width="1.8"/>
<line x1="1005" y1="220.15" x2="999" y2="220.15" stroke="#1c1c1c" stroke-width="1.8"/>
<line x1="1005" y1="257.9" x2="999" y2="257.9" stroke="#1c1c1c" stroke-width="1.8"/>
<line x1="1005" y1="50.27" x2="1001.5" y2="50.27" stroke="#1c1c1c" stroke-width="1.8"/>
<line x1="1005" y1="88.02" x2="1001.5" y2="88.02" stroke="#1c1c1c" stroke-width="1.8"/>
<line x1="1005" y1="125.77" x2="1001.5" y2="125.77" stroke="#1c1c1c" stroke-width="1.8"/>
<line x1="1005" y1="163.52" x2="1001.5" y2="163.52" stroke="#1c1c1c" stroke-width="1.8"/>
<line x1="1005" y1="201.27" x2="1001.5" y2="201.27" stroke="#1c1c1c" stroke-width="1.8"/>
<line x1="1005" y1="239.02" x2="1001.5" y2="239.02" stroke="#1c1c1c" stroke-width="1.8"/>
<text x="996.7" y="34.66" font-size="15.5" text-anchor="end" font-weight="bold" fill="#1c1c1c">0.0</text>
<text x="996.7" y="72.4" font-size="15.5" text-anchor="end" font-weight="bold" fill="#1c1c1c">-0.5</text>
<text x="996.7" y="110.15" font-size="15.5" text-anchor="end" font-weight="bold" fill="#1c1c1c">-1.0</text>
<text x="996.7" y="147.9" font-size="15.5" text-anchor="end" font-weight="bold" fill="#1c1c1c">-1.5</text>
<text x="996.7" y="185.65" font-size="15.5" text-anchor="end" font-weight="bold" fill="#1c1c1c">-2.0</text>
<text x="996.7" y="223.4" font-size="15.5" text-anchor="end" font-weight="bold" fill="#1c1c1c">-2.5</text>
<text x="996.7" y="261.15" font-size="15.5" text-anchor="end" font-weight="bold" fill="#1c1c1c">-3.0</text>
<text x="957.5" y="154" font-size="20.4" text-anchor="middle" font-weight="bold" fill="#1c1c1c" transform="rotate(-90 957.5 154)">i<tspan font-size="13" dy="5">k</tspan><tspan dy="-5"> / (mA / cm</tspan><tspan font-size="13" dy="-12">2</tspan><tspan font-size="13" dx="-7" dy="17">Pd</tspan><tspan dy="-5">)</tspan></text>
<text x="1188.6" y="326.5" font-size="19.2" text-anchor="middle" font-weight="bold" fill="#1c1c1c">E / V (Vs RHE)</text>
<text x="1012" y="38.9" font-size="26" text-anchor="start" font-weight="bold" fill="#1c1c1c">(c)</text>
<rect x="1127.2" y="81" width="242.6" height="186.4" fill="#fff" stroke="#555" stroke-width="1.2"/>
<rect x="1138.2" y="165.2" width="12.3" height="102.2" fill="#ff0000" stroke="#111" stroke-width="0.8"/>
<rect x="1150.5" y="150.8" width="12.3" height="116.6" fill="#00ff00" stroke="#111" stroke-width="0.8"/>
<rect x="1162.8" y="95.2" width="12.3" height="172.2" fill="#0000ff" stroke="#111" stroke-width="0.8"/>
<rect x="1175.1" y="122.1" width="12.3" height="145.3" fill="#00ffff" stroke="#111" stroke-width="0.8"/>
<rect x="1187.4" y="125.05" width="12.3" height="142.35" fill="#ff00ff" stroke="#111" stroke-width="0.8"/>
<rect x="1199.7" y="120.59" width="12.3" height="146.81" fill="#ffff00" stroke="#111" stroke-width="0.8"/>
<rect x="1212" y="126.03" width="12.3" height="141.37" fill="#808000" stroke="#111" stroke-width="0.8"/>
<rect x="1224.3" y="246.74" width="12.3" height="20.66" fill="#000000" stroke="#111" stroke-width="0.8"/>
<rect x="1260.2" y="257.23" width="12.24" height="10.17" fill="#ff0000" stroke="#111" stroke-width="0.8"/>
<rect x="1272.44" y="255.26" width="12.24" height="12.14" fill="#00ff00" stroke="#111" stroke-width="0.8"/>
<rect x="1284.68" y="244.44" width="12.24" height="22.96" fill="#0000ff" stroke="#111" stroke-width="0.8"/>
<rect x="1296.92" y="251.33" width="12.24" height="16.07" fill="#00ffff" stroke="#111" stroke-width="0.8"/>
<rect x="1309.16" y="249.36" width="12.24" height="18.04" fill="#ff00ff" stroke="#111" stroke-width="0.8"/>
<rect x="1321.4" y="245.75" width="12.24" height="21.65" fill="#ffff00" stroke="#111" stroke-width="0.8"/>
<rect x="1333.64" y="247.06" width="12.24" height="20.34" fill="#808000" stroke="#111" stroke-width="0.8"/>
<rect x="1345.88" y="265.43" width="12.24" height="1.97" fill="#000000" stroke="#111" stroke-width="0.8"/>
<line x1="1127.2" y1="267.4" x2="1369.8" y2="267.4" stroke="#444" stroke-width="1.2"/>
<line x1="1124.2" y1="267.4" x2="1127.2" y2="267.4" stroke="#444" stroke-width="1"/>
<text x="1123.5" y="270.8" font-size="9.5" text-anchor="end" font-weight="bold" fill="#333">0.0</text>
<line x1="1124.2" y1="234.6" x2="1127.2" y2="234.6" stroke="#444" stroke-width="1"/>
<text x="1123.5" y="238" font-size="9.5" text-anchor="end" font-weight="bold" fill="#333">0.1</text>
<line x1="1124.2" y1="201.8" x2="1127.2" y2="201.8" stroke="#444" stroke-width="1"/>
<text x="1123.5" y="205.2" font-size="9.5" text-anchor="end" font-weight="bold" fill="#333">0.2</text>
<line x1="1124.2" y1="169" x2="1127.2" y2="169" stroke="#444" stroke-width="1"/>
<text x="1123.5" y="172.4" font-size="9.5" text-anchor="end" font-weight="bold" fill="#333">0.3</text>
<line x1="1124.2" y1="136.2" x2="1127.2" y2="136.2" stroke="#444" stroke-width="1"/>
<text x="1123.5" y="139.6" font-size="9.5" text-anchor="end" font-weight="bold" fill="#333">0.4</text>
<line x1="1124.2" y1="103.4" x2="1127.2" y2="103.4" stroke="#444" stroke-width="1"/>
<text x="1123.5" y="106.8" font-size="9.5" text-anchor="end" font-weight="bold" fill="#333">0.5</text>
<text x="1217.4" y="112" font-size="13" text-anchor="middle" font-weight="bold" fill="#1c1c1c">0.86 V</text>
<text x="1313.9" y="236.6" font-size="13" text-anchor="middle" font-weight="bold" fill="#1c1c1c">0.91 V</text>
<rect x="1279.7" y="93.55" width="12.5" height="5.5" fill="#ff0000" stroke="#222" stroke-width="0.6"/>
<text x="1294" y="100.08" font-size="10.5" text-anchor="start" font-weight="normal" fill="#222">Ag<tspan font-size="5.8" dy="3">10</tspan><tspan dy="-3">@Pd</tspan><tspan font-size="5.8" dy="3">1</tspan><tspan dy="-3">/C</tspan></text>
<rect x="1279.7" y="109.75" width="12.5" height="5.5" fill="#00ff00" stroke="#222" stroke-width="0.6"/>
<text x="1294" y="116.28" font-size="10.5" text-anchor="start" font-weight="normal" fill="#222">Ag<tspan font-size="5.8" dy="3">10</tspan><tspan dy="-3">@Pd</tspan><tspan font-size="5.8" dy="3">2</tspan><tspan dy="-3">/C</tspan></text>
<rect x="1279.7" y="125.95" width="12.5" height="5.5" fill="#0000ff" stroke="#222" stroke-width="0.6"/>
<text x="1294" y="132.48" font-size="10.5" text-anchor="start" font-weight="normal" fill="#222">Ag<tspan font-size="5.8" dy="3">10</tspan><tspan dy="-3">@Pd</tspan><tspan font-size="5.8" dy="3">3</tspan><tspan dy="-3">/C</tspan></text>
<rect x="1279.7" y="142.15" width="12.5" height="5.5" fill="#00ffff" stroke="#222" stroke-width="0.6"/>
<text x="1294" y="148.68" font-size="10.5" text-anchor="start" font-weight="normal" fill="#222">Ag<tspan font-size="5.8" dy="3">10</tspan><tspan dy="-3">@Pd</tspan><tspan font-size="5.8" dy="3">4</tspan><tspan dy="-3">/C</tspan></text>
<rect x="1279.7" y="158.35" width="12.5" height="5.5" fill="#ff00ff" stroke="#222" stroke-width="0.6"/>
<text x="1294" y="164.88" font-size="10.5" text-anchor="start" font-weight="normal" fill="#222">Ag<tspan font-size="5.8" dy="3">10</tspan><tspan dy="-3">@Pd</tspan><tspan font-size="5.8" dy="3">5</tspan><tspan dy="-3">/C</tspan></text>
<rect x="1279.7" y="174.55" width="12.5" height="5.5" fill="#ffff00" stroke="#222" stroke-width="0.6"/>
<text x="1294" y="181.08" font-size="10.5" text-anchor="start" font-weight="normal" fill="#222">Ag<tspan font-size="5.8" dy="3">10</tspan><tspan dy="-3">@Pd</tspan><tspan font-size="5.8" dy="3">6</tspan><tspan dy="-3">/C</tspan></text>
<rect x="1279.7" y="190.75" width="12.5" height="5.5" fill="#808000" stroke="#222" stroke-width="0.6"/>
<text x="1294" y="197.28" font-size="10.5" text-anchor="start" font-weight="normal" fill="#222">Ag<tspan font-size="5.8" dy="3">10</tspan><tspan dy="-3">@Pd</tspan><tspan font-size="5.8" dy="3">7</tspan><tspan dy="-3">/C</tspan></text>
<rect x="1279.7" y="206.95" width="12.5" height="5.5" fill="#000000" stroke="#222" stroke-width="0.6"/>
<text x="1294" y="213.48" font-size="10.5" text-anchor="start" font-weight="normal" fill="#222">Pd/C</text>
<rect x="154.6" y="405.9" width="6.6" height="6.6" fill="#ff0000" stroke="none" stroke-width="1"/>
<rect x="168.07" y="408.3" width="6.6" height="6.6" fill="#ff0000" stroke="none" stroke-width="1"/>
<rect x="181.55" y="410.7" width="6.6" height="6.6" fill="#ff0000" stroke="none" stroke-width="1"/>
<rect x="195.02" y="413.1" width="6.6" height="6.6" fill="#ff0000" stroke="none" stroke-width="1"/>
<rect x="208.49" y="415.5" width="6.6" height="6.6" fill="#ff0000" stroke="none" stroke-width="1"/>
<rect x="221.97" y="417.9" width="6.6" height="6.6" fill="#ff0000" stroke="none" stroke-width="1"/>
<rect x="235.44" y="420.3" width="6.6" height="6.6" fill="#ff0000" stroke="none" stroke-width="1"/>
<rect x="248.92" y="422.7" width="6.6" height="6.6" fill="#ff0000" stroke="none" stroke-width="1"/>
<rect x="262.39" y="425.1" width="6.6" height="6.6" fill="#ff0000" stroke="none" stroke-width="1"/>
<rect x="275.86" y="427.5" width="6.6" height="6.6" fill="#ff0000" stroke="none" stroke-width="1"/>
<rect x="289.34" y="429.9" width="6.6" height="6.6" fill="#ff0000" stroke="none" stroke-width="1"/>
<rect x="302.81" y="432.3" width="6.6" height="6.6" fill="#ff0000" stroke="none" stroke-width="1"/>
<rect x="316.28" y="434.7" width="6.6" height="6.6" fill="#ff0000" stroke="none" stroke-width="1"/>
<rect x="329.76" y="437.1" width="6.6" height="6.6" fill="#ff0000" stroke="none" stroke-width="1"/>
<rect x="343.23" y="439.5" width="6.6" height="6.6" fill="#ff0000" stroke="none" stroke-width="1"/>
<rect x="356.71" y="441.9" width="6.6" height="6.6" fill="#ff0000" stroke="none" stroke-width="1"/>
<rect x="370.18" y="444.3" width="6.6" height="6.6" fill="#ff0000" stroke="none" stroke-width="1"/>
<rect x="383.65" y="446.7" width="6.6" height="6.6" fill="#ff0000" stroke="none" stroke-width="1"/>
<rect x="397.13" y="449.1" width="6.6" height="6.6" fill="#ff0000" stroke="none" stroke-width="1"/>
<rect x="410.6" y="451.5" width="6.6" height="6.6" fill="#ff0000" stroke="none" stroke-width="1"/>
<circle cx="171.4" cy="403.1" r="3.4" fill="#00ff00"/>
<circle cx="185.01" cy="405.39" r="3.4" fill="#00ff00"/>
<circle cx="198.62" cy="407.69" r="3.4" fill="#00ff00"/>
<circle cx="212.23" cy="409.98" r="3.4" fill="#00ff00"/>
<circle cx="225.84" cy="412.28" r="3.4" fill="#00ff00"/>
<circle cx="239.45" cy="414.57" r="3.4" fill="#00ff00"/>
<circle cx="253.06" cy="416.87" r="3.4" fill="#00ff00"/>
<circle cx="266.67" cy="419.16" r="3.4" fill="#00ff00"/>
<circle cx="280.28" cy="421.46" r="3.4" fill="#00ff00"/>
<circle cx="293.89" cy="423.75" r="3.4" fill="#00ff00"/>
<circle cx="307.51" cy="426.05" r="3.4" fill="#00ff00"/>
<circle cx="321.12" cy="428.34" r="3.4" fill="#00ff00"/>
<circle cx="334.73" cy="430.64" r="3.4" fill="#00ff00"/>
<circle cx="348.34" cy="432.93" r="3.4" fill="#00ff00"/>
<circle cx="361.95" cy="435.23" r="3.4" fill="#00ff00"/>
<circle cx="375.56" cy="437.52" r="3.4" fill="#00ff00"/>
<circle cx="389.17" cy="439.82" r="3.4" fill="#00ff00"/>
<circle cx="402.78" cy="442.11" r="3.4" fill="#00ff00"/>
<circle cx="416.39" cy="444.41" r="3.4" fill="#00ff00"/>
<circle cx="430" cy="446.7" r="3.4" fill="#00ff00"/>
<path d="M171.9,393.48 L175.9,400.68 L167.9,400.68Z" fill="#0000ff"/>
<path d="M185.34,395.32 L189.34,402.52 L181.34,402.52Z" fill="#0000ff"/>
<path d="M198.79,397.17 L202.79,404.37 L194.79,404.37Z" fill="#0000ff"/>
<path d="M212.23,399.01 L216.23,406.21 L208.23,406.21Z" fill="#0000ff"/>
<path d="M225.68,400.86 L229.68,408.06 L221.68,408.06Z" fill="#0000ff"/>
<path d="M239.12,402.7 L243.12,409.9 L235.12,409.9Z" fill="#0000ff"/>
<path d="M252.57,404.55 L256.57,411.75 L248.57,411.75Z" fill="#0000ff"/>
<path d="M266.01,406.39 L270.01,413.59 L262.01,413.59Z" fill="#0000ff"/>
<path d="M279.46,408.24 L283.46,415.44 L275.46,415.44Z" fill="#0000ff"/>
<path d="M292.9,410.08 L296.9,417.28 L288.9,417.28Z" fill="#0000ff"/>
<path d="M306.34,411.92 L310.34,419.12 L302.34,419.12Z" fill="#0000ff"/>
<path d="M319.79,413.77 L323.79,420.97 L315.79,420.97Z" fill="#0000ff"/>
<path d="M333.23,415.61 L337.23,422.81 L329.23,422.81Z" fill="#0000ff"/>
<path d="M346.68,417.46 L350.68,424.66 L342.68,424.66Z" fill="#0000ff"/>
<path d="M360.12,419.3 L364.12,426.5 L356.12,426.5Z" fill="#0000ff"/>
<path d="M373.57,421.15 L377.57,428.35 L369.57,428.35Z" fill="#0000ff"/>
<path d="M387.01,422.99 L391.01,430.19 L383.01,430.19Z" fill="#0000ff"/>
<path d="M400.46,424.84 L404.46,432.04 L396.46,432.04Z" fill="#0000ff"/>
<path d="M413.9,426.68 L417.9,433.88 L409.9,433.88Z" fill="#0000ff"/>
<path d="M158,399.82 L162,392.62 L154,392.62Z" fill="#00ffff"/>
<path d="M171.6,401.83 L175.6,394.63 L167.6,394.63Z" fill="#00ffff"/>
<path d="M185.2,403.85 L189.2,396.65 L181.2,396.65Z" fill="#00ffff"/>
<path d="M198.8,405.87 L202.8,398.67 L194.8,398.67Z" fill="#00ffff"/>
<path d="M212.4,407.88 L216.4,400.68 L208.4,400.68Z" fill="#00ffff"/>
<path d="M226,409.89 L230,402.69 L222,402.69Z" fill="#00ffff"/>
<path d="M239.6,411.91 L243.6,404.71 L235.6,404.71Z" fill="#00ffff"/>
<path d="M253.2,413.93 L257.2,406.73 L249.2,406.73Z" fill="#00ffff"/>
<path d="M266.8,415.94 L270.8,408.74 L262.8,408.74Z" fill="#00ffff"/>
<path d="M280.4,417.95 L284.4,410.75 L276.4,410.75Z" fill="#00ffff"/>
<path d="M294,419.97 L298,412.77 L290,412.77Z" fill="#00ffff"/>
<path d="M307.6,421.99 L311.6,414.79 L303.6,414.79Z" fill="#00ffff"/>
<path d="M321.2,424 L325.2,416.8 L317.2,416.8Z" fill="#00ffff"/>
<path d="M334.8,426.01 L338.8,418.81 L330.8,418.81Z" fill="#00ffff"/>
<path d="M348.4,428.03 L352.4,420.83 L344.4,420.83Z" fill="#00ffff"/>
<path d="M362,430.05 L366,422.85 L358,422.85Z" fill="#00ffff"/>
<path d="M375.6,432.06 L379.6,424.86 L371.6,424.86Z" fill="#00ffff"/>
<path d="M389.2,434.07 L393.2,426.88 L385.2,426.88Z" fill="#00ffff"/>
<path d="M402.8,436.09 L406.8,428.89 L398.8,428.89Z" fill="#00ffff"/>
<path d="M416.4,438.11 L420.4,430.91 L412.4,430.91Z" fill="#00ffff"/>
<path d="M430,440.12 L434,432.92 L426,432.92Z" fill="#00ffff"/>
<path d="M120.2,386.6 L124.4,390.8 L120.2,395 L116,390.8Z" fill="#ff00ff"/>
<path d="M134.26,388.68 L138.46,392.88 L134.26,397.08 L130.06,392.88Z" fill="#ff00ff"/>
<path d="M148.32,390.72 L152.52,394.92 L148.32,399.12 L144.12,394.92Z" fill="#ff00ff"/>
<path d="M162.37,392.7 L166.57,396.9 L162.37,401.1 L158.17,396.9Z" fill="#ff00ff"/>
<path d="M176.43,394.63 L180.63,398.83 L176.43,403.03 L172.23,398.83Z" fill="#ff00ff"/>
<path d="M190.49,396.51 L194.69,400.71 L190.49,404.91 L186.29,400.71Z" fill="#ff00ff"/>
<path d="M204.55,398.35 L208.75,402.55 L204.55,406.75 L200.35,402.55Z" fill="#ff00ff"/>
<path d="M218.61,400.13 L222.81,404.33 L218.61,408.53 L214.41,404.33Z" fill="#ff00ff"/>
<path d="M232.66,401.85 L236.86,406.05 L232.66,410.25 L228.46,406.05Z" fill="#ff00ff"/>
<path d="M246.72,403.53 L250.92,407.73 L246.72,411.93 L242.52,407.73Z" fill="#ff00ff"/>
<path d="M260.78,405.15 L264.98,409.35 L260.78,413.55 L256.58,409.35Z" fill="#ff00ff"/>
<path d="M274.84,406.72 L279.04,410.92 L274.84,415.12 L270.64,410.92Z" fill="#ff00ff"/>
<path d="M288.89,408.23 L293.09,412.43 L288.89,416.63 L284.69,412.43Z" fill="#ff00ff"/>
<path d="M302.95,409.7 L307.15,413.9 L302.95,418.1 L298.75,413.9Z" fill="#ff00ff"/>
<path d="M317.01,411.13 L321.21,415.33 L317.01,419.53 L312.81,415.33Z" fill="#ff00ff"/>
<path d="M331.07,412.5 L335.27,416.7 L331.07,420.9 L326.87,416.7Z" fill="#ff00ff"/>
<path d="M345.13,413.83 L349.33,418.03 L345.13,422.23 L340.93,418.03Z" fill="#ff00ff"/>
<path d="M359.18,415.1 L363.38,419.3 L359.18,423.5 L354.98,419.3Z" fill="#ff00ff"/>
<path d="M373.24,416.33 L377.44,420.53 L373.24,424.73 L369.04,420.53Z" fill="#ff00ff"/>
<path d="M387.3,417.5 L391.5,421.7 L387.3,425.9 L383.1,421.7Z" fill="#ff00ff"/>
<path d="M113.38,387.1 L120.58,383.1 L120.58,391.1Z" fill="#ffff00"/>
<path d="M126.9,388.61 L134.1,384.61 L134.1,392.61Z" fill="#ffff00"/>
<path d="M140.41,390.12 L147.61,386.12 L147.61,394.12Z" fill="#ffff00"/>
<path d="M153.93,391.63 L161.13,387.63 L161.13,395.63Z" fill="#ffff00"/>
<path d="M167.44,393.14 L174.64,389.14 L174.64,397.14Z" fill="#ffff00"/>
<path d="M180.96,394.65 L188.16,390.65 L188.16,398.65Z" fill="#ffff00"/>
<path d="M194.47,396.16 L201.67,392.16 L201.67,400.16Z" fill="#ffff00"/>
<path d="M207.99,397.67 L215.19,393.67 L215.19,401.67Z" fill="#ffff00"/>
<path d="M221.51,399.18 L228.71,395.18 L228.71,403.18Z" fill="#ffff00"/>
<path d="M235.02,400.69 L242.22,396.69 L242.22,404.69Z" fill="#ffff00"/>
<path d="M248.54,402.21 L255.74,398.21 L255.74,406.21Z" fill="#ffff00"/>
<path d="M262.05,403.72 L269.25,399.72 L269.25,407.72Z" fill="#ffff00"/>
<path d="M275.57,405.23 L282.77,401.23 L282.77,409.23Z" fill="#ffff00"/>
<path d="M289.09,406.74 L296.29,402.74 L296.29,410.74Z" fill="#ffff00"/>
<path d="M302.6,408.25 L309.8,404.25 L309.8,412.25Z" fill="#ffff00"/>
<path d="M316.12,409.76 L323.32,405.76 L323.32,413.76Z" fill="#ffff00"/>
<path d="M329.63,411.27 L336.83,407.27 L336.83,415.27Z" fill="#ffff00"/>
<path d="M343.15,412.78 L350.35,408.78 L350.35,416.78Z" fill="#ffff00"/>
<path d="M356.66,414.29 L363.86,410.29 L363.86,418.29Z" fill="#ffff00"/>
<path d="M370.18,415.8 L377.38,411.8 L377.38,419.8Z" fill="#ffff00"/>
<path d="M135.22,387.7 L128.02,383.7 L128.02,391.7Z" fill="#808000"/>
<path d="M148.71,389.28 L141.51,385.28 L141.51,393.28Z" fill="#808000"/>
<path d="M162.21,390.86 L155.01,386.86 L155.01,394.86Z" fill="#808000"/>
<path d="M175.7,392.44 L168.5,388.44 L168.5,396.44Z" fill="#808000"/>
<path d="M189.2,394.02 L182,390.02 L182,398.02Z" fill="#808000"/>
<path d="M202.69,395.59 L195.49,391.59 L195.49,399.59Z" fill="#808000"/>
<path d="M216.19,397.17 L208.99,393.17 L208.99,401.17Z" fill="#808000"/>
<path d="M229.68,398.75 L222.48,394.75 L222.48,402.75Z" fill="#808000"/>
<path d="M243.18,400.33 L235.98,396.33 L235.98,404.33Z" fill="#808000"/>
<path d="M256.67,401.91 L249.47,397.91 L249.47,405.91Z" fill="#808000"/>
<path d="M270.17,403.49 L262.97,399.49 L262.97,407.49Z" fill="#808000"/>
<path d="M283.66,405.07 L276.46,401.07 L276.46,409.07Z" fill="#808000"/>
<path d="M297.16,406.65 L289.96,402.65 L289.96,410.65Z" fill="#808000"/>
<path d="M310.65,408.23 L303.45,404.23 L303.45,412.23Z" fill="#808000"/>
<path d="M324.15,409.81 L316.95,405.81 L316.95,413.81Z" fill="#808000"/>
<path d="M337.64,411.38 L330.44,407.38 L330.44,415.38Z" fill="#808000"/>
<path d="M351.14,412.96 L343.94,408.96 L343.94,416.96Z" fill="#808000"/>
<path d="M364.63,414.54 L357.43,410.54 L357.43,418.54Z" fill="#808000"/>
<path d="M378.13,416.12 L370.93,412.12 L370.93,420.12Z" fill="#808000"/>
<path d="M391.62,417.7 L384.42,413.7 L384.42,421.7Z" fill="#808000"/>
<circle cx="93.4" cy="356.7" r="3.7" fill="#000000"/>
<circle cx="107.32" cy="358.41" r="3.7" fill="#000000"/>
<circle cx="121.23" cy="360.11" r="3.7" fill="#000000"/>
<circle cx="135.15" cy="361.82" r="3.7" fill="#000000"/>
<circle cx="149.06" cy="363.52" r="3.7" fill="#000000"/>
<circle cx="162.98" cy="365.23" r="3.7" fill="#000000"/>
<circle cx="176.89" cy="366.93" r="3.7" fill="#000000"/>
<circle cx="190.81" cy="368.64" r="3.7" fill="#000000"/>
<circle cx="204.73" cy="370.34" r="3.7" fill="#000000"/>
<circle cx="218.64" cy="372.05" r="3.7" fill="#000000"/>
<circle cx="232.56" cy="373.75" r="3.7" fill="#000000"/>
<circle cx="246.47" cy="375.46" r="3.7" fill="#000000"/>
<circle cx="260.39" cy="377.16" r="3.7" fill="#000000"/>
<circle cx="274.31" cy="378.87" r="3.7" fill="#000000"/>
<circle cx="288.22" cy="380.57" r="3.7" fill="#000000"/>
<circle cx="302.14" cy="382.28" r="3.7" fill="#000000"/>
<circle cx="316.05" cy="383.98" r="3.7" fill="#000000"/>
<circle cx="329.97" cy="385.69" r="3.7" fill="#000000"/>
<circle cx="343.88" cy="387.39" r="3.7" fill="#000000"/>
<circle cx="357.8" cy="389.1" r="3.7" fill="#000000"/>
<path d="M209.8,417.1 L210.94,420.14 L214.17,420.28 L211.64,422.3 L212.5,425.42 L209.8,423.63 L207.1,425.42 L207.96,422.3 L205.43,420.28 L208.66,420.14Z" fill="#000000"/>
<path d="M221.86,424.74 L222.99,427.78 L226.23,427.92 L223.7,429.94 L224.56,433.06 L221.86,431.27 L219.15,433.06 L220.02,429.94 L217.48,427.92 L220.72,427.78Z" fill="#000000"/>
<path d="M233.92,432.38 L235.05,435.42 L238.29,435.56 L235.75,437.58 L236.62,440.71 L233.92,438.92 L231.21,440.71 L232.08,437.58 L229.54,435.56 L232.78,435.42Z" fill="#000000"/>
<path d="M245.97,440.03 L247.11,443.06 L250.35,443.2 L247.81,445.22 L248.68,448.35 L245.97,446.56 L243.27,448.35 L244.14,445.22 L241.6,443.2 L244.84,443.06Z" fill="#000000"/>
<path d="M258.03,447.67 L259.17,450.71 L262.41,450.85 L259.87,452.87 L260.74,455.99 L258.03,454.2 L255.33,455.99 L256.19,452.87 L253.66,450.85 L256.9,450.71Z" fill="#000000"/>
<path d="M270.09,455.31 L271.23,458.35 L274.46,458.49 L271.93,460.51 L272.79,463.63 L270.09,461.84 L267.39,463.63 L268.25,460.51 L265.71,458.49 L268.95,458.35Z" fill="#000000"/>
<path d="M282.15,462.95 L283.28,465.99 L286.52,466.13 L283.98,468.15 L284.85,471.27 L282.15,469.48 L279.44,471.27 L280.31,468.15 L277.77,466.13 L281.01,465.99Z" fill="#000000"/>
<path d="M294.21,470.59 L295.34,473.63 L298.58,473.77 L296.04,475.79 L296.91,478.92 L294.21,477.13 L291.5,478.92 L292.37,475.79 L289.83,473.77 L293.07,473.63Z" fill="#000000"/>
<path d="M306.26,478.24 L307.4,481.27 L310.64,481.42 L308.1,483.43 L308.97,486.56 L306.26,484.77 L303.56,486.56 L304.43,483.43 L301.89,481.42 L305.13,481.27Z" fill="#000000"/>
<path d="M318.32,485.88 L319.46,488.92 L322.7,489.06 L320.16,491.08 L321.02,494.2 L318.32,492.41 L315.62,494.2 L316.48,491.08 L313.95,489.06 L317.19,488.92Z" fill="#000000"/>
<path d="M330.38,493.52 L331.51,496.56 L334.75,496.7 L332.22,498.72 L333.08,501.84 L330.38,500.05 L327.68,501.84 L328.54,498.72 L326,496.7 L329.24,496.56Z" fill="#000000"/>
<path d="M342.44,501.16 L343.57,504.2 L346.81,504.34 L344.27,506.36 L345.14,509.48 L342.44,507.7 L339.73,509.48 L340.6,506.36 L338.06,504.34 L341.3,504.2Z" fill="#000000"/>
<path d="M354.49,508.81 L355.63,511.84 L358.87,511.98 L356.33,514 L357.2,517.13 L354.49,515.34 L351.79,517.13 L352.66,514 L350.12,511.98 L353.36,511.84Z" fill="#000000"/>
<path d="M366.55,516.45 L367.69,519.48 L370.93,519.63 L368.39,521.64 L369.26,524.77 L366.55,522.98 L363.85,524.77 L364.72,521.64 L362.18,519.63 L365.42,519.48Z" fill="#000000"/>
<path d="M378.61,524.09 L379.75,527.13 L382.99,527.27 L380.45,529.29 L381.31,532.41 L378.61,530.62 L375.91,532.41 L376.77,529.29 L374.24,527.27 L377.47,527.13Z" fill="#000000"/>
<path d="M390.67,531.73 L391.8,534.77 L395.04,534.91 L392.51,536.93 L393.37,540.05 L390.67,538.26 L387.96,540.05 L388.83,536.93 L386.29,534.91 L389.53,534.77Z" fill="#000000"/>
<path d="M402.73,539.37 L403.86,542.41 L407.1,542.55 L404.56,544.57 L405.43,547.7 L402.73,545.91 L400.02,547.7 L400.89,544.57 L398.35,542.55 L401.59,542.41Z" fill="#000000"/>
<path d="M414.78,547.02 L415.92,550.05 L419.16,550.19 L416.62,552.21 L417.49,555.34 L414.78,553.55 L412.08,555.34 L412.95,552.21 L410.41,550.19 L413.65,550.05Z" fill="#000000"/>
<path d="M426.84,554.66 L427.98,557.69 L431.22,557.84 L428.68,559.85 L429.55,562.98 L426.84,561.19 L424.14,562.98 L425,559.85 L422.47,557.84 L425.71,557.69Z" fill="#000000"/>
<path d="M438.9,562.3 L440.04,565.34 L443.27,565.48 L440.74,567.5 L441.6,570.62 L438.9,568.83 L436.2,570.62 L437.06,567.5 L434.53,565.48 L437.76,565.34Z" fill="#000000"/>
<rect x="82" y="337.8" width="380.6" height="264.4" fill="none" stroke="#1c1c1c" stroke-width="2"/>
<line x1="122.5" y1="602.2" x2="122.5" y2="608.2" stroke="#1c1c1c" stroke-width="1.8"/>
<line x1="190.5" y1="602.2" x2="190.5" y2="608.2" stroke="#1c1c1c" stroke-width="1.8"/>
<line x1="258.5" y1="602.2" x2="258.5" y2="608.2" stroke="#1c1c1c" stroke-width="1.8"/>
<line x1="326.5" y1="602.2" x2="326.5" y2="608.2" stroke="#1c1c1c" stroke-width="1.8"/>
<line x1="394.5" y1="602.2" x2="394.5" y2="608.2" stroke="#1c1c1c" stroke-width="1.8"/>
<line x1="462.5" y1="602.2" x2="462.5" y2="608.2" stroke="#1c1c1c" stroke-width="1.8"/>
<line x1="88.5" y1="602.2" x2="88.5" y2="605.7" stroke="#1c1c1c" stroke-width="1.8"/>
<line x1="156.5" y1="602.2" x2="156.5" y2="605.7" stroke="#1c1c1c" stroke-width="1.8"/>
<line x1="224.5" y1="602.2" x2="224.5" y2="605.7" stroke="#1c1c1c" stroke-width="1.8"/>
<line x1="292.5" y1="602.2" x2="292.5" y2="605.7" stroke="#1c1c1c" stroke-width="1.8"/>
<line x1="360.5" y1="602.2" x2="360.5" y2="605.7" stroke="#1c1c1c" stroke-width="1.8"/>
<line x1="428.5" y1="602.2" x2="428.5" y2="605.7" stroke="#1c1c1c" stroke-width="1.8"/>
<text x="122.5" y="623.2" font-size="15.5" text-anchor="middle" font-weight="bold" fill="#1c1c1c">-0.75</text>
<text x="190.5" y="623.2" font-size="15.5" text-anchor="middle" font-weight="bold" fill="#1c1c1c">-0.50</text>
<text x="258.5" y="623.2" font-size="15.5" text-anchor="middle" font-weight="bold" fill="#1c1c1c">-0.25</text>
<text x="326.5" y="623.2" font-size="15.5" text-anchor="middle" font-weight="bold" fill="#1c1c1c">0.00</text>
<text x="394.5" y="623.2" font-size="15.5" text-anchor="middle" font-weight="bold" fill="#1c1c1c">0.25</text>
<text x="462.5" y="623.2" font-size="15.5" text-anchor="middle" font-weight="bold" fill="#1c1c1c">0.50</text>
<line x1="82" y1="582.5" x2="76" y2="582.5" stroke="#1c1c1c" stroke-width="1.8"/>
<line x1="82" y1="549.4" x2="76" y2="549.4" stroke="#1c1c1c" stroke-width="1.8"/>
<line x1="82" y1="516.3" x2="76" y2="516.3" stroke="#1c1c1c" stroke-width="1.8"/>
<line x1="82" y1="483.2" x2="76" y2="483.2" stroke="#1c1c1c" stroke-width="1.8"/>
<line x1="82" y1="450.1" x2="76" y2="450.1" stroke="#1c1c1c" stroke-width="1.8"/>
<line x1="82" y1="417" x2="76" y2="417" stroke="#1c1c1c" stroke-width="1.8"/>
<line x1="82" y1="383.9" x2="76" y2="383.9" stroke="#1c1c1c" stroke-width="1.8"/>
<line x1="82" y1="350.8" x2="76" y2="350.8" stroke="#1c1c1c" stroke-width="1.8"/>
<line x1="82" y1="565.95" x2="78.5" y2="565.95" stroke="#1c1c1c" stroke-width="1.8"/>
<line x1="82" y1="532.85" x2="78.5" y2="532.85" stroke="#1c1c1c" stroke-width="1.8"/>
<line x1="82" y1="499.75" x2="78.5" y2="499.75" stroke="#1c1c1c" stroke-width="1.8"/>
<line x1="82" y1="466.65" x2="78.5" y2="466.65" stroke="#1c1c1c" stroke-width="1.8"/>
<line x1="82" y1="433.55" x2="78.5" y2="433.55" stroke="#1c1c1c" stroke-width="1.8"/>
<line x1="82" y1="400.45" x2="78.5" y2="400.45" stroke="#1c1c1c" stroke-width="1.8"/>
<line x1="82" y1="367.35" x2="78.5" y2="367.35" stroke="#1c1c1c" stroke-width="1.8"/>
<text x="72.4" y="585.75" font-size="15.5" text-anchor="end" font-weight="bold" fill="#1c1c1c">0.65</text>
<text x="72.4" y="552.66" font-size="15.5" text-anchor="end" font-weight="bold" fill="#1c1c1c">0.70</text>
<text x="72.4" y="519.55" font-size="15.5" text-anchor="end" font-weight="bold" fill="#1c1c1c">0.75</text>
<text x="72.4" y="486.45" font-size="15.5" text-anchor="end" font-weight="bold" fill="#1c1c1c">0.80</text>
<text x="72.4" y="453.36" font-size="15.5" text-anchor="end" font-weight="bold" fill="#1c1c1c">0.85</text>
<text x="72.4" y="420.25" font-size="15.5" text-anchor="end" font-weight="bold" fill="#1c1c1c">0.90</text>
<text x="72.4" y="387.16" font-size="15.5" text-anchor="end" font-weight="bold" fill="#1c1c1c">0.95</text>
<text x="72.4" y="354.06" font-size="15.5" text-anchor="end" font-weight="bold" fill="#1c1c1c">1.00</text>
<text x="27.8" y="465.1" font-size="20.6" text-anchor="middle" font-weight="bold" fill="#1c1c1c" transform="rotate(-90 27.8 465.1)">E / V (Vs RHE)</text>
<text x="158" y="644.8" font-size="20" text-anchor="start" font-weight="bold" fill="#1c1c1c">log</text>
<text x="188.5" y="644.2" font-size="16" text-anchor="start" font-weight="normal" fill="#1c1c1c">(</text>
<text x="205.6" y="644.8" font-size="20" text-anchor="start" font-weight="bold" fill="#1c1c1c">i</text>
<text x="212.3" y="653.3" font-size="12.5" text-anchor="start" font-weight="bold" fill="#1c1c1c">k</text>
<text x="229.5" y="644.2" font-size="16" text-anchor="end" font-weight="normal" fill="#1c1c1c">)</text>
<text x="238.8" y="644.8" font-size="20" text-anchor="start" font-weight="bold" fill="#1c1c1c">/ mA cm</text>
<text x="315.5" y="633.2" font-size="12.5" text-anchor="start" font-weight="bold" fill="#1c1c1c">-2</text>
<text x="315.5" y="653.3" font-size="12.5" text-anchor="start" font-weight="bold" fill="#1c1c1c">GC</text>
<text x="421" y="366.1" font-size="26" text-anchor="start" font-weight="bold" fill="#1c1c1c">(d)</text>
<rect x="86.3" y="430.6" width="8" height="8" fill="#ff0000" stroke="none" stroke-width="1"/>
<circle cx="90.3" cy="455.2" r="4.3" fill="#00ff00"/>
<path d="M90.3,470.03 L95.55,479.48 L85.05,479.48Z" fill="#0000ff"/>
<path d="M90.3,502.47 L95.55,493.02 L85.05,493.02Z" fill="#00ffff"/>
<path d="M90.3,512.92 L95.58,518.2 L90.3,523.48 L85.02,518.2Z" fill="#ff00ff"/>
<path d="M84.9,538.8 L93.9,533.8 L93.9,543.8Z" fill="#ffff00"/>
<path d="M95.7,558.4 L86.7,553.4 L86.7,563.4Z" fill="#808000"/>
<circle cx="90.3" cy="579.8" r="4.2" fill="#000000"/>
<path d="M90.3,590.91 L91.51,594.14 L94.95,594.29 L92.25,596.43 L93.17,599.75 L90.3,597.85 L87.43,599.75 L88.35,596.43 L85.65,594.29 L89.09,594.14Z" fill="#000000"/>
<text x="99.6" y="438.6" font-size="11.3" text-anchor="start" font-weight="bold" fill="#1c1c1c" letter-spacing="0.12">Ag<tspan font-size="6.5" dy="3">10</tspan><tspan dy="-3">@Pd</tspan><tspan font-size="6.5" dy="3">1</tspan><tspan dy="-3">/C 73 mV Dec</tspan><tspan font-size="7" dy="-8">-1</tspan></text>
<text x="99.6" y="459.2" font-size="11.3" text-anchor="start" font-weight="bold" fill="#1c1c1c" letter-spacing="0.12">Ag<tspan font-size="6.5" dy="3">10</tspan><tspan dy="-3">@Pd</tspan><tspan font-size="6.5" dy="3">2</tspan><tspan dy="-3">/C 69 mV Dec</tspan><tspan font-size="7" dy="-8">-1</tspan></text>
<text x="99.6" y="479.7" font-size="11.3" text-anchor="start" font-weight="bold" fill="#1c1c1c" letter-spacing="0.12">Ag<tspan font-size="6.5" dy="3">10</tspan><tspan dy="-3">@Pd</tspan><tspan font-size="6.5" dy="3">3</tspan><tspan dy="-3">/C 60 mV Dec</tspan><tspan font-size="7" dy="-8">-1</tspan></text>
<text x="102.5" y="500.8" font-size="11.3" text-anchor="start" font-weight="bold" fill="#1c1c1c" letter-spacing="0.12">Ag<tspan font-size="6.5" dy="3">10</tspan><tspan dy="-3">@Pd</tspan><tspan font-size="6.5" dy="3">4</tspan><tspan dy="-3">/C68 mV Dec</tspan><tspan font-size="7" dy="-8">-1</tspan></text>
<text x="102.5" y="522.2" font-size="11.3" text-anchor="start" font-weight="bold" fill="#1c1c1c" letter-spacing="0.12">Ag<tspan font-size="6.5" dy="3">10</tspan><tspan dy="-3">@Pd</tspan><tspan font-size="6.5" dy="3">5</tspan><tspan dy="-3">/C 50 mV Dec</tspan><tspan font-size="7" dy="-8">-1</tspan></text>
<text x="102.5" y="542.8" font-size="11.3" text-anchor="start" font-weight="bold" fill="#1c1c1c" letter-spacing="0.12">Ag<tspan font-size="6.5" dy="3">10</tspan><tspan dy="-3">@Pd</tspan><tspan font-size="6.5" dy="3">6</tspan><tspan dy="-3">/C 50 mV Dec</tspan><tspan font-size="7" dy="-8">-1</tspan></text>
<text x="102.5" y="562.4" font-size="11.3" text-anchor="start" font-weight="bold" fill="#1c1c1c" letter-spacing="0.12">Ag<tspan font-size="6.5" dy="3">10</tspan><tspan dy="-3">@Pd</tspan><tspan font-size="6.5" dy="3">7</tspan><tspan dy="-3">/C 51 mV Dec</tspan><tspan font-size="7" dy="-8">-1</tspan></text>
<text x="101" y="583.8" font-size="11.3" text-anchor="start" font-weight="bold" fill="#1c1c1c" letter-spacing="0.12">Pd/C</text>
<text x="171.4" y="583.8" font-size="11.3" text-anchor="start" font-weight="bold" fill="#1c1c1c" letter-spacing="0.12">51 mV Dec<tspan font-size="7" dy="-8">-1</tspan></text>
<text x="101" y="599.8" font-size="11.3" text-anchor="start" font-weight="bold" fill="#1c1c1c" letter-spacing="0.12">Ag/C</text>
<text x="165" y="599.8" font-size="11.3" text-anchor="start" font-weight="bold" fill="#1c1c1c" letter-spacing="0.12">260 mV Dec<tspan font-size="7" dy="-8">-1</tspan></text>
<line x1="581.7" y1="598.34" x2="892.5" y2="384.09" stroke="#ff00ff" stroke-width="2.0"/>
<line x1="581.7" y1="597.93" x2="892.5" y2="383.67" stroke="#ff0000" stroke-width="2.0"/>
<line x1="581.7" y1="597.63" x2="892.5" y2="383.44" stroke="#0000ff" stroke-width="2.0"/>
<line x1="581.7" y1="597.4" x2="892.5" y2="383.2" stroke="#000000" stroke-width="2.0"/>
<line x1="581.7" y1="596.98" x2="892.5" y2="382.85" stroke="#108a10" stroke-width="1.7" stroke-opacity="0.8"/>
<rect x="578.45" y="595.09" width="6.5" height="6.5" fill="#000000" stroke="none" stroke-width="1"/>
<rect x="590.45" y="592.73" width="6.5" height="6.5" fill="#000000" stroke="none" stroke-width="1"/>
<rect x="606.85" y="582.12" width="6.5" height="6.5" fill="#000000" stroke="none" stroke-width="1"/>
<rect x="630.65" y="557.35" width="6.5" height="6.5" fill="#000000" stroke="none" stroke-width="1"/>
<rect x="670.85" y="531.4" width="6.5" height="6.5" fill="#000000" stroke="none" stroke-width="1"/>
<rect x="761.25" y="468.88" width="6.5" height="6.5" fill="#000000" stroke="none" stroke-width="1"/>
<rect x="889.25" y="380.42" width="6.5" height="6.5" fill="#000000" stroke="none" stroke-width="1"/>
<circle cx="581.7" cy="598.34" r="3.25" fill="#ff0000"/>
<circle cx="593.7" cy="595.98" r="3.25" fill="#ff0000"/>
<circle cx="610.1" cy="585.37" r="3.25" fill="#ff0000"/>
<circle cx="633.9" cy="560.6" r="3.25" fill="#ff0000"/>
<circle cx="674.1" cy="534.65" r="3.25" fill="#ff0000"/>
<circle cx="764.5" cy="472.13" r="3.25" fill="#ff0000"/>
<circle cx="892.5" cy="383.67" r="3.25" fill="#ff0000"/>
<path d="M581.7,594.83 L584.95,600.68 L578.45,600.68Z" fill="#0000ff"/>
<path d="M593.7,592.47 L596.95,598.32 L590.45,598.32Z" fill="#0000ff"/>
<path d="M610.1,581.86 L613.35,587.71 L606.85,587.71Z" fill="#0000ff"/>
<path d="M633.9,557.09 L637.15,562.94 L630.65,562.94Z" fill="#0000ff"/>
<path d="M674.1,531.14 L677.35,536.99 L670.85,536.99Z" fill="#0000ff"/>
<path d="M764.5,468.62 L767.75,474.47 L761.25,474.47Z" fill="#0000ff"/>
<path d="M892.5,380.16 L895.75,386.01 L889.25,386.01Z" fill="#0000ff"/>
<path d="M581.7,603.03 L584.95,597.18 L578.45,597.18Z" fill="#ff00ff"/>
<path d="M593.7,600.67 L596.95,594.82 L590.45,594.82Z" fill="#ff00ff"/>
<path d="M610.1,590.06 L613.35,584.21 L606.85,584.21Z" fill="#ff00ff"/>
<path d="M633.9,565.29 L637.15,559.44 L630.65,559.44Z" fill="#ff00ff"/>
<path d="M674.1,539.34 L677.35,533.49 L670.85,533.49Z" fill="#ff00ff"/>
<path d="M764.5,476.82 L767.75,470.97 L761.25,470.97Z" fill="#ff00ff"/>
<path d="M892.5,388.36 L895.75,382.51 L889.25,382.51Z" fill="#ff00ff"/>
<path d="M581.7,590.31 L585.6,594.21 L581.7,598.11 L577.8,594.21Z" fill="#108a10"/>
<path d="M593.7,587.95 L597.6,591.85 L593.7,595.75 L589.8,591.85Z" fill="#108a10"/>
<path d="M610.1,579.7 L614,583.6 L610.1,587.5 L606.2,583.6Z" fill="#108a10"/>
<path d="M633.9,553.75 L637.8,557.65 L633.9,561.55 L630,557.65Z" fill="#108a10"/>
<path d="M674.1,528.39 L678,532.29 L674.1,536.19 L670.2,532.29Z" fill="#108a10"/>
<path d="M764.5,467.06 L768.4,470.96 L764.5,474.86 L760.6,470.96Z" fill="#108a10"/>
<path d="M892.5,378.59 L896.4,382.49 L892.5,386.39 L888.6,382.49Z" fill="#108a10"/>
<rect x="555" y="341.7" width="380.5" height="264.3" fill="none" stroke="#1c1c1c" stroke-width="2"/>
<line x1="615.5" y1="606" x2="615.5" y2="612" stroke="#1c1c1c" stroke-width="1.8"/>
<line x1="695.5" y1="606" x2="695.5" y2="612" stroke="#1c1c1c" stroke-width="1.8"/>
<line x1="775.5" y1="606" x2="775.5" y2="612" stroke="#1c1c1c" stroke-width="1.8"/>
<line x1="855.5" y1="606" x2="855.5" y2="612" stroke="#1c1c1c" stroke-width="1.8"/>
<line x1="935.5" y1="606" x2="935.5" y2="612" stroke="#1c1c1c" stroke-width="1.8"/>
<line x1="575.5" y1="606" x2="575.5" y2="609.5" stroke="#1c1c1c" stroke-width="1.8"/>
<line x1="655.5" y1="606" x2="655.5" y2="609.5" stroke="#1c1c1c" stroke-width="1.8"/>
<line x1="735.5" y1="606" x2="735.5" y2="609.5" stroke="#1c1c1c" stroke-width="1.8"/>
<line x1="815.5" y1="606" x2="815.5" y2="609.5" stroke="#1c1c1c" stroke-width="1.8"/>
<line x1="895.5" y1="606" x2="895.5" y2="609.5" stroke="#1c1c1c" stroke-width="1.8"/>
<text x="615.5" y="627.2" font-size="15.5" text-anchor="middle" font-weight="bold" fill="#1c1c1c">0.08</text>
<text x="695.5" y="627.2" font-size="15.5" text-anchor="middle" font-weight="bold" fill="#1c1c1c">0.12</text>
<text x="775.5" y="627.2" font-size="15.5" text-anchor="middle" font-weight="bold" fill="#1c1c1c">0.16</text>
<text x="855.5" y="627.2" font-size="15.5" text-anchor="middle" font-weight="bold" fill="#1c1c1c">0.20</text>
<text x="935.5" y="627.2" font-size="15.5" text-anchor="middle" font-weight="bold" fill="#1c1c1c">0.24</text>
<line x1="575.5" y1="341.7" x2="575.5" y2="345.7" stroke="#1c1c1c" stroke-width="1.8"/>
<line x1="615.5" y1="341.7" x2="615.5" y2="345.7" stroke="#1c1c1c" stroke-width="1.8"/>
<line x1="655.5" y1="341.7" x2="655.5" y2="345.7" stroke="#1c1c1c" stroke-width="1.8"/>
<line x1="695.5" y1="341.7" x2="695.5" y2="345.7" stroke="#1c1c1c" stroke-width="1.8"/>
<line x1="735.5" y1="341.7" x2="735.5" y2="345.7" stroke="#1c1c1c" stroke-width="1.8"/>
<line x1="775.5" y1="341.7" x2="775.5" y2="345.7" stroke="#1c1c1c" stroke-width="1.8"/>
<line x1="815.5" y1="341.7" x2="815.5" y2="345.7" stroke="#1c1c1c" stroke-width="1.8"/>
<line x1="855.5" y1="341.7" x2="855.5" y2="345.7" stroke="#1c1c1c" stroke-width="1.8"/>
<line x1="895.5" y1="341.7" x2="895.5" y2="345.7" stroke="#1c1c1c" stroke-width="1.8"/>
<line x1="555" y1="577.7" x2="549" y2="577.7" stroke="#1c1c1c" stroke-width="1.8"/>
<line x1="555" y1="518.73" x2="549" y2="518.73" stroke="#1c1c1c" stroke-width="1.8"/>
<line x1="555" y1="459.75" x2="549" y2="459.75" stroke="#1c1c1c" stroke-width="1.8"/>
<line x1="555" y1="400.78" x2="549" y2="400.78" stroke="#1c1c1c" stroke-width="1.8"/>
<line x1="555" y1="341.8" x2="549" y2="341.8" stroke="#1c1c1c" stroke-width="1.8"/>
<line x1="555" y1="548.21" x2="551.5" y2="548.21" stroke="#1c1c1c" stroke-width="1.8"/>
<line x1="555" y1="489.24" x2="551.5" y2="489.24" stroke="#1c1c1c" stroke-width="1.8"/>
<line x1="555" y1="430.26" x2="551.5" y2="430.26" stroke="#1c1c1c" stroke-width="1.8"/>
<line x1="555" y1="371.29" x2="551.5" y2="371.29" stroke="#1c1c1c" stroke-width="1.8"/>
<text x="546" y="580.96" font-size="15.5" text-anchor="end" font-weight="bold" fill="#1c1c1c">0.2</text>
<text x="546" y="521.98" font-size="15.5" text-anchor="end" font-weight="bold" fill="#1c1c1c">0.3</text>
<text x="546" y="463" font-size="15.5" text-anchor="end" font-weight="bold" fill="#1c1c1c">0.4</text>
<text x="546" y="404.03" font-size="15.5" text-anchor="end" font-weight="bold" fill="#1c1c1c">0.5</text>
<text x="546" y="345.06" font-size="15.5" text-anchor="end" font-weight="bold" fill="#1c1c1c">0.6</text>
<line x1="935.5" y1="577.7" x2="931.5" y2="577.7" stroke="#1c1c1c" stroke-width="1.8"/>
<line x1="935.5" y1="548.21" x2="931.5" y2="548.21" stroke="#1c1c1c" stroke-width="1.8"/>
<line x1="935.5" y1="518.73" x2="931.5" y2="518.73" stroke="#1c1c1c" stroke-width="1.8"/>
<line x1="935.5" y1="489.24" x2="931.5" y2="489.24" stroke="#1c1c1c" stroke-width="1.8"/>
<line x1="935.5" y1="459.75" x2="931.5" y2="459.75" stroke="#1c1c1c" stroke-width="1.8"/>
<line x1="935.5" y1="430.26" x2="931.5" y2="430.26" stroke="#1c1c1c" stroke-width="1.8"/>
<line x1="935.5" y1="400.78" x2="931.5" y2="400.78" stroke="#1c1c1c" stroke-width="1.8"/>
<line x1="935.5" y1="371.29" x2="931.5" y2="371.29" stroke="#1c1c1c" stroke-width="1.8"/>
<text x="511" y="487.5" font-size="20" text-anchor="middle" font-weight="bold" fill="#1c1c1c" transform="rotate(-90 511 487.5)">i<tspan font-size="12" dy="-8">-1</tspan><tspan dy="8"> (cm</tspan><tspan font-size="12" dy="-8">2</tspan><tspan dy="8"> mA</tspan><tspan font-size="12" dy="-8">-1</tspan><tspan dy="8">)</tspan></text>
<text x="676.6" y="660.5" font-size="19.4" text-anchor="start" font-weight="bold" fill="#1c1c1c">ω<tspan font-size="12" dy="-10">-1/2</tspan><tspan dy="10"> (rad</tspan><tspan font-size="12" dy="-10">-1/2</tspan><tspan dy="10"> s</tspan><tspan font-size="12" dy="-10">1/2</tspan><tspan dy="10">)</tspan></text>
<text x="901" y="371.1" font-size="25" text-anchor="start" font-weight="bold" fill="#1c1c1c">(e)</text>
<text x="774.3" y="372" font-size="14.5" text-anchor="start" font-weight="bold" fill="#1c1c1c">Ag<tspan font-size="8.5" dy="5">10</tspan><tspan dy="-5">@Pd</tspan><tspan font-size="8.5" dy="5">3</tspan><tspan dy="-5">/C</tspan></text>
<text x="824.1" y="483" font-size="15" text-anchor="start" font-weight="bold" fill="#1c1c1c">n=3.78~3.87</text>
<rect x="835.25" y="500.05" width="10.5" height="10.5" fill="#000000" stroke="none" stroke-width="1"/>
<text x="857" y="510.7" font-size="15" text-anchor="start" font-weight="bold" fill="#1c1c1c">0.35 V</text>
<circle cx="840.5" cy="524.5" r="6.5" fill="#ff0000"/>
<text x="857" y="529.9" font-size="15" text-anchor="start" font-weight="bold" fill="#1c1c1c">0.40 V</text>
<path d="M840.5,535.4 L848,548.9 L833,548.9Z" fill="#0000ff"/>
<text x="857" y="548.9" font-size="15" text-anchor="start" font-weight="bold" fill="#1c1c1c">0.45 V</text>
<path d="M840.5,570.6 L848,557.1 L833,557.1Z" fill="#ff00ff"/>
<text x="857" y="567.9" font-size="15" text-anchor="start" font-weight="bold" fill="#1c1c1c">0.50 V</text>
<path d="M840.5,574.8 L847.7,582 L840.5,589.2 L833.3,582Z" fill="#108a10"/>
<text x="857" y="587.4" font-size="15" text-anchor="start" font-weight="bold" fill="#1c1c1c">0.55 V</text>
<rect x="598.6" y="349.9" width="159.1" height="122.4" fill="#fff" stroke="#666" stroke-width="1.1"/>
<path d="M608.5,387.9 L609.07,387.8 L609.64,387.68 L610.21,387.85 L610.78,387.97 L611.35,387.96 L611.92,388.15 L612.49,388 L613.06,388.11 L613.63,388.01 L614.19,387.99 L614.76,388.1 L615.33,388.08 L615.9,388.03 L616.47,387.81 L617.04,387.79 L617.61,388.08 L618.18,387.66 L618.75,387.84 L619.32,388.07 L619.89,387.8 L620.46,387.9 L621.03,387.82 L621.6,387.97 L622.17,388.06 L622.74,387.68 L623.31,387.85 L623.88,388.08 L624.45,387.86 L625.02,388.14 L625.58,387.79 L626.15,387.9 L626.72,387.74 L627.29,388.08 L627.86,387.89 L628.43,388.06 L629,387.99 L629.57,387.78 L630.14,388.08 L630.71,387.68 L631.28,388.11 L631.85,388.04 L632.42,387.77 L632.99,387.94 L633.56,387.82 L634.13,387.88 L634.7,388.12 L635.27,387.88 L635.84,387.94 L636.41,387.67 L636.97,387.68 L637.54,387.89 L638.11,387.86 L638.68,388.12 L639.25,387.94 L639.82,388.09 L640.39,387.94 L640.96,388.11 L641.53,387.81 L642.1,387.66 L642.67,388.02 L643.24,387.97 L643.81,387.73 L644.38,387.74 L644.95,387.86 L645.52,388.07 L646.09,387.95 L646.66,387.83 L647.23,387.89 L647.8,387.78 L648.36,387.79 L648.93,387.68 L649.5,387.93 L650.07,387.59 L650.64,387.83 L651.21,387.6 L651.78,387.62 L652.35,387.92 L652.92,387.97 L653.49,387.78 L654.06,388 L654.63,387.87 L655.2,387.78 L655.77,387.8 L656.34,387.5 L656.91,387.53 L657.48,387.85 L658.05,387.66 L658.62,387.95 L659.19,387.59 L659.75,387.59 L660.32,387.55 L660.89,387.91 L661.46,387.71 L662.03,387.56 L662.6,387.46 L663.17,387.71 L663.74,387.43 L664.31,387.85 L664.88,387.49 L665.45,387.79 L666.02,387.83 L666.59,387.54 L667.16,387.68 L667.73,387.73 L668.3,387.6 L668.87,387.57 L669.44,387.8 L670.01,387.48 L670.58,387.62 L671.14,387.33 L671.71,387.59 L672.28,387.77 L672.85,387.45 L673.42,387.6 L673.99,387.36 L674.56,387.35 L675.13,387.32 L675.7,387.53 L676.27,387.21 L676.84,387.02 L677.41,387.23 L677.98,387.2 L678.55,387.16 L679.12,387.04 L679.69,386.91 L680.26,387.06 L680.83,386.78 L681.4,386.73 L681.97,386.63 L682.53,386.52 L683.1,386.54 L683.67,386.72 L684.24,386.52 L684.81,386.5 L685.38,386.33 L685.95,386.29 L686.52,386.45 L687.09,386.52 L687.66,386.07 L688.23,386.28 L688.8,386.36 L689.37,386.09 L689.94,386.21 L690.51,385.78 L691.08,386.02 L691.65,385.61 L692.22,385.58 L692.79,385.44 L693.36,385.31 L693.92,385.6 L694.49,385.29 L695.06,385.2 L695.63,385.27 L696.2,384.92 L696.77,385.09 L697.34,384.59 L697.91,384.79 L698.48,384.52 L699.05,384.09 L699.62,384.04 L700.19,383.72 L700.76,383.48 L701.33,382.85 L701.9,382.61 L702.47,382.25 L703.04,381.99 L703.61,381.69 L704.18,381.46 L704.75,380.77 L705.31,380.43 L705.88,379.78 L706.45,379.29 L707.02,378.47 L707.59,378.03 L708.16,377.35 L708.73,376.56 L709.3,375.84 L709.87,374.71 L710.44,373.51 L711.01,372.52 L711.58,370.6 L712.15,368.75 L712.72,367.24 L713.29,365.9 L713.86,364.31 L714.43,362.98 L715,361.67 L715.57,360.79 L716.14,359.72 L716.7,359.03 L717.27,357.88 L717.84,357.34 L718.41,356.43 L718.98,355.87 L719.55,355.31 L720.12,355.1 L720.69,354.72 L721.26,354.19 L721.83,354.05 L722.4,353.74 L722.97,353.49 L723.54,353.11 L724.11,352.76 L724.68,352.52 L725.25,352.53 L725.82,352.13 L726.39,352 L726.96,352.28 L727.53,352.16 L728.09,351.93 L728.66,351.94 L729.23,351.48 L729.8,351.77 L730.37,351.62 L730.94,351.41 L731.51,351.35 L732.08,351.5 L732.65,351.57 L733.22,351.44 L733.79,351.05 L734.36,351.28 L734.93,351.12 L735.5,351.03 L736.07,350.92 L736.64,351.15 L737.21,350.97 L737.78,350.98 L738.35,351.04 L738.92,351.22 L739.48,350.89 L740.05,351.02 L740.62,351.04 L741.19,351.07 L741.76,351.1 L742.33,350.77 L742.9,351.07 L743.47,350.65 L744.04,350.82 L744.61,350.94 L745.18,350.99 L745.75,350.69 L746.32,350.83 L746.89,350.81 L747.46,350.46 L748.03,350.78 L748.6,350.79 L749.17,350.41 L749.74,350.47 L750.31,350.5 L750.87,350.72 L751.44,350.7 L752.01,350.28 L752.58,350.35 L753.15,350.18 L753.72,350.11 L754.29,350.16 L754.86,350.49 L755.43,350.44 L756,350.05" fill="none" stroke="#000000" stroke-width="1.6" stroke-linejoin="round" stroke-linecap="round"/>
<path d="M608.5,401.66 L609.07,401.67 L609.64,401.57 L610.21,401.77 L610.78,401.39 L611.35,401.48 L611.92,401.4 L612.49,401.8 L613.06,401.74 L613.63,401.56 L614.19,401.38 L614.76,401.76 L615.33,401.72 L615.9,401.76 L616.47,401.79 L617.04,401.65 L617.61,401.56 L618.18,401.71 L618.75,401.38 L619.32,401.72 L619.89,401.45 L620.46,401.51 L621.03,401.72 L621.6,401.29 L622.17,401.45 L622.74,401.68 L623.31,401.47 L623.88,401.71 L624.45,401.61 L625.02,401.36 L625.58,401.49 L626.15,401.41 L626.72,401.56 L627.29,401.58 L627.86,401.47 L628.43,401.25 L629,401.63 L629.57,401.28 L630.14,401.5 L630.71,401.59 L631.28,401.4 L631.85,401.19 L632.42,401.43 L632.99,401.2 L633.56,401.23 L634.13,401.24 L634.7,401.21 L635.27,401.41 L635.84,401.48 L636.41,401.32 L636.97,401.57 L637.54,401.12 L638.11,401.24 L638.68,401.23 L639.25,401.33 L639.82,401.39 L640.39,401.18 L640.96,401.25 L641.53,401.22 L642.1,401.19 L642.67,401.04 L643.24,401.37 L643.81,401.01 L644.38,401.19 L644.95,401.08 L645.52,401.17 L646.09,401.3 L646.66,401.34 L647.23,401.36 L647.8,401.23 L648.36,401.05 L648.93,400.9 L649.5,400.95 L650.07,401.31 L650.64,401.04 L651.21,401.03 L651.78,401 L652.35,400.98 L652.92,400.89 L653.49,400.92 L654.06,401 L654.63,400.97 L655.2,400.76 L655.77,400.76 L656.34,400.7 L656.91,400.9 L657.48,400.97 L658.05,401.07 L658.62,400.81 L659.19,400.89 L659.75,400.95 L660.32,400.8 L660.89,400.78 L661.46,400.55 L662.03,400.78 L662.6,400.76 L663.17,400.5 L663.74,400.63 L664.31,400.36 L664.88,400.25 L665.45,400.31 L666.02,400.36 L666.59,400.22 L667.16,400.09 L667.73,400.39 L668.3,400.19 L668.87,399.92 L669.44,399.75 L670.01,400.01 L670.58,400.05 L671.14,399.88 L671.71,399.79 L672.28,399.86 L672.85,399.65 L673.42,399.29 L673.99,399.39 L674.56,399.27 L675.13,399.28 L675.7,398.99 L676.27,399.14 L676.84,399.09 L677.41,398.78 L677.98,398.87 L678.55,398.64 L679.12,398.7 L679.69,398.5 L680.26,398.65 L680.83,398.3 L681.4,397.99 L681.97,397.89 L682.53,398.09 L683.1,397.68 L683.67,397.91 L684.24,397.66 L684.81,397.46 L685.38,397.37 L685.95,397.47 L686.52,397.19 L687.09,397 L687.66,396.9 L688.23,396.82 L688.8,396.62 L689.37,396.6 L689.94,396.3 L690.51,396.08 L691.08,395.84 L691.65,395.83 L692.22,395.52 L692.79,395.34 L693.36,395.14 L693.92,395.03 L694.49,395.09 L695.06,394.67 L695.63,394.32 L696.2,394.17 L696.77,393.9 L697.34,393.39 L697.91,393.42 L698.48,392.88 L699.05,392.71 L699.62,392.08 L700.19,391.43 L700.76,391.32 L701.33,390.39 L701.9,389.92 L702.47,389.41 L703.04,388.89 L703.61,388.33 L704.18,388.11 L704.75,387.08 L705.31,386.55 L705.88,385.6 L706.45,384.82 L707.02,383.74 L707.59,382.8 L708.16,381.51 L708.73,380.13 L709.3,378.35 L709.87,375.87 L710.44,373.9 L711.01,371.98 L711.58,370.39 L712.15,368.16 L712.72,366.71 L713.29,364.93 L713.86,363.46 L714.43,362.25 L715,361.12 L715.57,359.92 L716.14,359.18 L716.7,358.19 L717.27,357.23 L717.84,356.52 L718.41,355.91 L718.98,355.66 L719.55,355.18 L720.12,354.38 L720.69,354.22 L721.26,353.65 L721.83,353.37 L722.4,353.42 L722.97,353.12 L723.54,352.84 L724.11,352.65 L724.68,352.48 L725.25,352.3 L725.82,352.13 L726.39,352.35 L726.96,351.82 L727.53,351.99 L728.09,351.7 L728.66,351.72 L729.23,351.48 L729.8,351.47 L730.37,351.63 L730.94,351.29 L731.51,351.42 L732.08,351.47 L732.65,351.4 L733.22,351.12 L733.79,351.24 L734.36,351.15 L734.93,351.36 L735.5,351.35 L736.07,351.19 L736.64,351.26 L737.21,351.05 L737.78,351.3 L738.35,351.15 L738.92,351.22 L739.48,350.83 L740.05,351.08 L740.62,351.05 L741.19,351.04 L741.76,351.12 L742.33,350.77 L742.9,350.69 L743.47,350.89 L744.04,350.7 L744.61,351.05 L745.18,351 L745.75,350.76 L746.32,350.89 L746.89,350.77 L747.46,350.89 L748.03,350.68 L748.6,350.48 L749.17,350.84 L749.74,350.45 L750.31,350.34 L750.87,350.64 L751.44,350.55 L752.01,350.62 L752.58,350.27 L753.15,350.58 L753.72,350.5 L754.29,350.38 L754.86,350.03 L755.43,350.37 L756,350.14" fill="none" stroke="#ff0000" stroke-width="1.6" stroke-linejoin="round" stroke-linecap="round"/>
<path d="M608.5,420.72 L609.07,420.81 L609.64,421.12 L610.21,420.81 L610.78,420.88 L611.35,421.09 L611.92,421 L612.49,420.82 L613.06,420.8 L613.63,420.9 L614.19,420.89 L614.76,420.98 L615.33,420.94 L615.9,420.7 L616.47,421.04 L617.04,420.99 L617.61,420.84 L618.18,420.65 L618.75,420.8 L619.32,420.99 L619.89,420.69 L620.46,420.7 L621.03,420.88 L621.6,420.89 L622.17,420.93 L622.74,420.7 L623.31,420.86 L623.88,420.59 L624.45,420.49 L625.02,420.8 L625.58,420.56 L626.15,420.87 L626.72,420.58 L627.29,420.57 L627.86,420.81 L628.43,420.39 L629,420.85 L629.57,420.51 L630.14,420.35 L630.71,420.49 L631.28,420.36 L631.85,420.41 L632.42,420.52 L632.99,420.54 L633.56,420.33 L634.13,420.72 L634.7,420.28 L635.27,420.24 L635.84,420.31 L636.41,420.16 L636.97,420.58 L637.54,420.2 L638.11,420.12 L638.68,420.4 L639.25,420.24 L639.82,420.12 L640.39,420.27 L640.96,420.11 L641.53,420.04 L642.1,420.23 L642.67,420.07 L643.24,420.1 L643.81,420.15 L644.38,420.38 L644.95,420.16 L645.52,420.11 L646.09,419.94 L646.66,419.99 L647.23,419.86 L647.8,420.12 L648.36,420.13 L648.93,420.05 L649.5,419.8 L650.07,419.92 L650.64,419.66 L651.21,419.87 L651.78,419.91 L652.35,419.48 L652.92,419.4 L653.49,419.81 L654.06,419.55 L654.63,419.61 L655.2,419.6 L655.77,419.53 L656.34,419.13 L656.91,419.16 L657.48,419.17 L658.05,419.37 L658.62,419.24 L659.19,418.94 L659.75,418.84 L660.32,419.12 L660.89,419.1 L661.46,418.61 L662.03,418.69 L662.6,418.51 L663.17,418.59 L663.74,418.31 L664.31,418.41 L664.88,418.21 L665.45,418.07 L666.02,418.43 L666.59,417.93 L667.16,418.22 L667.73,418.02 L668.3,417.73 L668.87,417.64 L669.44,417.54 L670.01,417.39 L670.58,417.43 L671.14,417.11 L671.71,417.23 L672.28,417.07 L672.85,416.81 L673.42,417.09 L673.99,416.64 L674.56,416.7 L675.13,416.63 L675.7,416.52 L676.27,416.32 L676.84,416.14 L677.41,415.99 L677.98,416.02 L678.55,415.55 L679.12,415.67 L679.69,415.67 L680.26,415.33 L680.83,415.2 L681.4,415.15 L681.97,415.05 L682.53,414.66 L683.1,414.63 L683.67,414.57 L684.24,414.3 L684.81,413.91 L685.38,414.12 L685.95,413.61 L686.52,413.56 L687.09,413.06 L687.66,413.17 L688.23,412.88 L688.8,412.82 L689.37,412.23 L689.94,411.86 L690.51,411.73 L691.08,411.47 L691.65,411.28 L692.22,410.76 L692.79,410.63 L693.36,410.3 L693.92,409.49 L694.49,409.56 L695.06,408.67 L695.63,408.32 L696.2,407.76 L696.77,407.62 L697.34,407.12 L697.91,406.15 L698.48,405.6 L699.05,405.05 L699.62,404.16 L700.19,403.07 L700.76,402.29 L701.33,401.61 L701.9,400.65 L702.47,399.43 L703.04,398.34 L703.61,396.87 L704.18,395.74 L704.75,394.58 L705.31,392.77 L705.88,391.33 L706.45,389.91 L707.02,387.93 L707.59,386.2 L708.16,384.55 L708.73,382 L709.3,379.61 L709.87,377.18 L710.44,374.39 L711.01,372.14 L711.58,369.85 L712.15,368.24 L712.72,366.5 L713.29,364.87 L713.86,363.42 L714.43,361.93 L715,361.08 L715.57,359.91 L716.14,359.12 L716.7,358.02 L717.27,357.57 L717.84,356.65 L718.41,356.23 L718.98,355.51 L719.55,354.89 L720.12,354.52 L720.69,354.06 L721.26,353.88 L721.83,353.52 L722.4,353.21 L722.97,353.34 L723.54,353.11 L724.11,352.68 L724.68,352.54 L725.25,352.52 L725.82,352.3 L726.39,352.09 L726.96,352.04 L727.53,352.1 L728.09,351.65 L728.66,351.74 L729.23,351.5 L729.8,351.68 L730.37,351.34 L730.94,351.49 L731.51,351.28 L732.08,351.33 L732.65,351.6 L733.22,351.19 L733.79,351.21 L734.36,351.39 L734.93,351.06 L735.5,351.03 L736.07,351.1 L736.64,351.17 L737.21,350.94 L737.78,350.94 L738.35,350.82 L738.92,350.91 L739.48,350.95 L740.05,351.03 L740.62,350.86 L741.19,350.96 L741.76,351.07 L742.33,350.8 L742.9,350.99 L743.47,350.99 L744.04,351.05 L744.61,350.94 L745.18,350.86 L745.75,350.83 L746.32,350.68 L746.89,350.91 L747.46,350.53 L748.03,350.58 L748.6,350.44 L749.17,350.6 L749.74,350.76 L750.31,350.6 L750.87,350.26 L751.44,350.66 L752.01,350.22 L752.58,350.25 L753.15,350.36 L753.72,350.1 L754.29,350.45 L754.86,350.36 L755.43,350.47 L756,350.27" fill="none" stroke="#0000ff" stroke-width="1.6" stroke-linejoin="round" stroke-linecap="round"/>
<path d="M608.5,433.26 L609.07,433.16 L609.64,433.21 L610.21,433.36 L610.78,433.46 L611.35,433.13 L611.92,433.3 L612.49,433.36 L613.06,433.14 L613.63,433.38 L614.19,433.15 L614.76,433.18 L615.33,433.1 L615.9,433.47 L616.47,433 L617.04,433.13 L617.61,433.27 L618.18,433.2 L618.75,433.05 L619.32,433.18 L619.89,433.15 L620.46,433.18 L621.03,433.11 L621.6,432.96 L622.17,433.21 L622.74,433.01 L623.31,433.23 L623.88,432.98 L624.45,433.23 L625.02,432.91 L625.58,433.09 L626.15,433.23 L626.72,432.88 L627.29,433.12 L627.86,432.97 L628.43,432.68 L629,432.95 L629.57,432.83 L630.14,432.65 L630.71,433 L631.28,432.93 L631.85,433.03 L632.42,432.6 L632.99,432.7 L633.56,432.78 L634.13,432.65 L634.7,432.52 L635.27,432.62 L635.84,432.63 L636.41,432.64 L636.97,432.59 L637.54,432.56 L638.11,432.57 L638.68,432.64 L639.25,432.4 L639.82,432.5 L640.39,432.66 L640.96,432.6 L641.53,432.58 L642.1,432.62 L642.67,432.38 L643.24,432.52 L643.81,432.47 L644.38,432.22 L644.95,432.39 L645.52,432.22 L646.09,432.22 L646.66,431.99 L647.23,432.24 L647.8,432 L648.36,432.01 L648.93,432.01 L649.5,432.09 L650.07,432.16 L650.64,432.06 L651.21,431.91 L651.78,431.68 L652.35,431.76 L652.92,431.75 L653.49,431.57 L654.06,431.79 L654.63,431.44 L655.2,431.5 L655.77,431.67 L656.34,431.23 L656.91,431.28 L657.48,431.47 L658.05,431.42 L658.62,431.12 L659.19,431.19 L659.75,431.06 L660.32,430.76 L660.89,431.1 L661.46,431.01 L662.03,430.96 L662.6,430.53 L663.17,430.61 L663.74,430.65 L664.31,430.58 L664.88,430.48 L665.45,429.98 L666.02,430.19 L666.59,429.92 L667.16,429.71 L667.73,429.78 L668.3,429.45 L668.87,429.44 L669.44,429.39 L670.01,429.25 L670.58,429.09 L671.14,429.04 L671.71,428.92 L672.28,428.61 L672.85,428.52 L673.42,428.43 L673.99,428.13 L674.56,428.24 L675.13,428.28 L675.7,427.8 L676.27,427.97 L676.84,427.55 L677.41,427.43 L677.98,427.42 L678.55,427.08 L679.12,426.93 L679.69,426.96 L680.26,426.35 L680.83,426.34 L681.4,426.07 L681.97,425.96 L682.53,425.78 L683.1,425.64 L683.67,425.21 L684.24,425.3 L684.81,425.08 L685.38,424.75 L685.95,424.42 L686.52,424.25 L687.09,423.62 L687.66,423.63 L688.23,423.26 L688.8,422.88 L689.37,422.72 L689.94,422.2 L690.51,422.07 L691.08,421.26 L691.65,420.9 L692.22,420.54 L692.79,419.87 L693.36,419.34 L693.92,419.07 L694.49,418.29 L695.06,417.61 L695.63,417.2 L696.2,416.51 L696.77,415.55 L697.34,414.64 L697.91,413.48 L698.48,412.73 L699.05,411.54 L699.62,410.22 L700.19,408.54 L700.76,406.69 L701.33,405.05 L701.9,403.25 L702.47,401.63 L703.04,399.57 L703.61,397.76 L704.18,396.09 L704.75,394.09 L705.31,392.42 L705.88,391.05 L706.45,389.49 L707.02,388.14 L707.59,386.56 L708.16,384.46 L708.73,382.24 L709.3,379.58 L709.87,377.02 L710.44,374.32 L711.01,372.23 L711.58,370.07 L712.15,368.09 L712.72,366.45 L713.29,365.05 L713.86,363.19 L714.43,362.4 L715,361.15 L715.57,359.98 L716.14,358.91 L716.7,358.02 L717.27,357.29 L717.84,356.79 L718.41,356.13 L718.98,355.5 L719.55,354.94 L720.12,354.51 L720.69,353.99 L721.26,353.8 L721.83,353.68 L722.4,353.09 L722.97,353.31 L723.54,352.63 L724.11,352.65 L724.68,352.4 L725.25,352.38 L725.82,352.12 L726.39,352.18 L726.96,351.81 L727.53,352.15 L728.09,352.07 L728.66,351.97 L729.23,351.81 L729.8,351.46 L730.37,351.64 L730.94,351.56 L731.51,351.61 L732.08,351.39 L732.65,351.51 L733.22,351.22 L733.79,351.04 L734.36,351.07 L734.93,351.45 L735.5,351.08 L736.07,350.96 L736.64,350.95 L737.21,351.31 L737.78,351.22 L738.35,351.01 L738.92,350.8 L739.48,351.15 L740.05,350.73 L740.62,351.09 L741.19,350.91 L741.76,350.85 L742.33,350.66 L742.9,350.97 L743.47,351.05 L744.04,350.82 L744.61,351.01 L745.18,350.63 L745.75,350.68 L746.32,350.7 L746.89,350.55 L747.46,350.93 L748.03,350.66 L748.6,350.37 L749.17,350.66 L749.74,350.39 L750.31,350.46 L750.87,350.66 L751.44,350.39 L752.01,350.32 L752.58,350.59 L753.15,350.25 L753.72,350.56 L754.29,350.07 L754.86,350.05 L755.43,350.48 L756,350.26" fill="none" stroke="#ff00ff" stroke-width="1.6" stroke-linejoin="round" stroke-linecap="round"/>
<path d="M608.5,453.13 L609.07,453.24 L609.64,452.99 L610.21,453.27 L610.78,452.96 L611.35,453.24 L611.92,453.05 L612.49,453.24 L613.06,453.26 L613.63,453.16 L614.19,452.82 L614.76,452.96 L615.33,453.17 L615.9,452.92 L616.47,452.79 L617.04,452.9 L617.61,452.71 L618.18,452.66 L618.75,452.9 L619.32,452.59 L619.89,452.76 L620.46,452.7 L621.03,452.91 L621.6,452.67 L622.17,452.69 L622.74,452.76 L623.31,452.51 L623.88,452.64 L624.45,452.47 L625.02,452.55 L625.58,452.73 L626.15,452.77 L626.72,452.75 L627.29,452.64 L627.86,452.23 L628.43,452.39 L629,452.33 L629.57,452.3 L630.14,452.31 L630.71,452.38 L631.28,452.01 L631.85,452.26 L632.42,451.95 L632.99,452.26 L633.56,452.31 L634.13,452.13 L634.7,452.14 L635.27,452.19 L635.84,452.11 L636.41,451.75 L636.97,451.86 L637.54,451.74 L638.11,451.7 L638.68,451.6 L639.25,451.34 L639.82,451.43 L640.39,451.22 L640.96,451.58 L641.53,451.46 L642.1,451.01 L642.67,451.22 L643.24,451.25 L643.81,451.03 L644.38,450.95 L644.95,450.76 L645.52,450.6 L646.09,450.46 L646.66,450.23 L647.23,450.22 L647.8,450.05 L648.36,450.03 L648.93,449.88 L649.5,449.72 L650.07,449.93 L650.64,449.42 L651.21,449.36 L651.78,449.44 L652.35,449.08 L652.92,448.78 L653.49,448.9 L654.06,448.65 L654.63,448.74 L655.2,448.37 L655.77,448.22 L656.34,448.16 L656.91,448.07 L657.48,447.66 L658.05,447.46 L658.62,447.64 L659.19,447.21 L659.75,447.38 L660.32,447.14 L660.89,446.81 L661.46,446.4 L662.03,446.31 L662.6,446 L663.17,446.09 L663.74,445.89 L664.31,445.78 L664.88,445.4 L665.45,445.49 L666.02,445.28 L666.59,445 L667.16,444.71 L667.73,444.74 L668.3,444.34 L668.87,443.91 L669.44,444.17 L670.01,443.59 L670.58,443.56 L671.14,443.39 L671.71,443.48 L672.28,443.19 L672.85,443.02 L673.42,443.09 L673.99,442.89 L674.56,442.62 L675.13,442.37 L675.7,442.13 L676.27,442.31 L676.84,442.07 L677.41,442.02 L677.98,441.61 L678.55,441.72 L679.12,441.12 L679.69,441.05 L680.26,441.2 L680.83,440.93 L681.4,440.43 L681.97,440.31 L682.53,440.02 L683.1,440 L683.67,439.79 L684.24,439.49 L684.81,439.1 L685.38,438.61 L685.95,438.39 L686.52,438.3 L687.09,437.8 L687.66,437.29 L688.23,436.83 L688.8,436.25 L689.37,435.56 L689.94,435.14 L690.51,434.67 L691.08,433.98 L691.65,433.59 L692.22,432.99 L692.79,432.42 L693.36,431.76 L693.92,431.25 L694.49,430.38 L695.06,429.78 L695.63,428.76 L696.2,427.74 L696.77,426.82 L697.34,425.84 L697.91,424.35 L698.48,423.28 L699.05,421.94 L699.62,420.24 L700.19,418.5 L700.76,416.55 L701.33,413.84 L701.9,411.61 L702.47,408.9 L703.04,406.15 L703.61,403.66 L704.18,401.03 L704.75,398.93 L705.31,396.21 L705.88,393.93 L706.45,391.37 L707.02,389.4 L707.59,386.6 L708.16,384.33 L708.73,381.55 L709.3,379.11 L709.87,376.62 L710.44,374 L711.01,372.21 L711.58,370.14 L712.15,367.99 L712.72,366.46 L713.29,364.69 L713.86,363.39 L714.43,362.29 L715,360.88 L715.57,360.15 L716.14,359.01 L716.7,358.21 L717.27,357.6 L717.84,356.51 L718.41,356.18 L718.98,355.71 L719.55,355 L720.12,354.41 L720.69,354.31 L721.26,353.84 L721.83,353.36 L722.4,353.53 L722.97,352.91 L723.54,352.99 L724.11,352.51 L724.68,352.48 L725.25,352.37 L725.82,352.12 L726.39,352.17 L726.96,352.28 L727.53,351.86 L728.09,351.92 L728.66,352.01 L729.23,351.54 L729.8,351.83 L730.37,351.79 L730.94,351.58 L731.51,351.24 L732.08,351.3 L732.65,351.23 L733.22,351.33 L733.79,351.13 L734.36,351.46 L734.93,351.44 L735.5,350.96 L736.07,351.3 L736.64,351.08 L737.21,351.1 L737.78,351.04 L738.35,350.97 L738.92,351.02 L739.48,351.04 L740.05,350.89 L740.62,350.83 L741.19,350.88 L741.76,350.77 L742.33,350.97 L742.9,350.91 L743.47,350.98 L744.04,350.91 L744.61,350.88 L745.18,350.66 L745.75,350.72 L746.32,350.54 L746.89,350.86 L747.46,350.89 L748.03,350.73 L748.6,350.63 L749.17,350.5 L749.74,350.58 L750.31,350.67 L750.87,350.5 L751.44,350.51 L752.01,350.23 L752.58,350.26 L753.15,350.4 L753.72,350.53 L754.29,350.2 L754.86,350.27 L755.43,350.15 L756,350.01" fill="none" stroke="#108a10" stroke-width="1.6" stroke-linejoin="round" stroke-linecap="round"/>
<path d="M608.5,462.2 L609.07,462.38 L609.64,462.22 L610.21,462.24 L610.78,462.26 L611.35,462.28 L611.92,462.27 L612.49,462.28 L613.06,462.36 L613.63,462.21 L614.19,462.14 L614.76,462.28 L615.33,462.02 L615.9,462.03 L616.47,461.76 L617.04,462 L617.61,461.94 L618.18,462.07 L618.75,461.6 L619.32,461.64 L619.89,461.86 L620.46,461.83 L621.03,461.72 L621.6,461.46 L622.17,461.75 L622.74,461.52 L623.31,461.62 L623.88,461.56 L624.45,461.43 L625.02,461.3 L625.58,461.33 L626.15,461 L626.72,461.26 L627.29,461.28 L627.86,461.05 L628.43,461 L629,460.97 L629.57,460.86 L630.14,460.51 L630.71,460.78 L631.28,460.67 L631.85,460.31 L632.42,460.37 L632.99,460.06 L633.56,460.03 L634.13,460 L634.7,459.96 L635.27,460 L635.84,459.98 L636.41,459.79 L636.97,459.47 L637.54,459.36 L638.11,459.15 L638.68,459.27 L639.25,459.08 L639.82,459.06 L640.39,458.89 L640.96,458.9 L641.53,458.83 L642.1,458.54 L642.67,458.45 L643.24,458.42 L643.81,458.05 L644.38,458.13 L644.95,457.73 L645.52,457.69 L646.09,457.62 L646.66,457.51 L647.23,457.31 L647.8,457.41 L648.36,456.97 L648.93,457.09 L649.5,456.91 L650.07,456.51 L650.64,456.4 L651.21,456.48 L651.78,456.27 L652.35,456.15 L652.92,456.14 L653.49,455.66 L654.06,455.54 L654.63,455.82 L655.2,455.36 L655.77,455.4 L656.34,455.12 L656.91,454.93 L657.48,455.17 L658.05,455.03 L658.62,454.7 L659.19,454.5 L659.75,454.74 L660.32,454.39 L660.89,454.54 L661.46,454.18 L662.03,454.46 L662.6,453.93 L663.17,453.93 L663.74,453.77 L664.31,453.87 L664.88,453.85 L665.45,453.41 L666.02,453.51 L666.59,453.59 L667.16,453.2 L667.73,453.25 L668.3,453.11 L668.87,452.77 L669.44,452.94 L670.01,452.75 L670.58,452.43 L671.14,452.16 L671.71,451.96 L672.28,452.18 L672.85,451.87 L673.42,451.68 L673.99,451.46 L674.56,451.09 L675.13,451 L675.7,450.75 L676.27,450.98 L676.84,450.81 L677.41,450.34 L677.98,450.24 L678.55,450.01 L679.12,449.97 L679.69,449.74 L680.26,449.08 L680.83,449.23 L681.4,448.82 L681.97,448.42 L682.53,448.36 L683.1,447.7 L683.67,447.79 L684.24,447.51 L684.81,446.77 L685.38,446.47 L685.95,446.41 L686.52,445.93 L687.09,445.28 L687.66,444.93 L688.23,443.95 L688.8,443.56 L689.37,443.2 L689.94,442.21 L690.51,441.75 L691.08,441.05 L691.65,440.67 L692.22,440.29 L692.79,439.44 L693.36,438.99 L693.92,437.94 L694.49,437.38 L695.06,436.83 L695.63,435.9 L696.2,434.48 L696.77,433.1 L697.34,431.21 L697.91,429.13 L698.48,426.02 L699.05,423.29 L699.62,420.59 L700.19,418.17 L700.76,415.92 L701.33,413.37 L701.9,411.09 L702.47,408.51 L703.04,406.26 L703.61,403.6 L704.18,401.3 L704.75,398.77 L705.31,396.37 L705.88,393.83 L706.45,391.75 L707.02,389.07 L707.59,386.95 L708.16,384.38 L708.73,381.59 L709.3,379.41 L709.87,376.84 L710.44,374.29 L711.01,371.91 L711.58,370.24 L712.15,368.12 L712.72,366.69 L713.29,365.07 L713.86,363.21 L714.43,362.07 L715,361.27 L715.57,360.13 L716.14,358.89 L716.7,358.11 L717.27,357.56 L717.84,356.43 L718.41,355.89 L718.98,355.61 L719.55,354.94 L720.12,354.62 L720.69,354.13 L721.26,353.87 L721.83,353.67 L722.4,353.45 L722.97,352.9 L723.54,352.92 L724.11,352.92 L724.68,352.73 L725.25,352.15 L725.82,352.25 L726.39,351.98 L726.96,352.28 L727.53,351.83 L728.09,352.07 L728.66,351.74 L729.23,351.92 L729.8,351.44 L730.37,351.59 L730.94,351.57 L731.51,351.42 L732.08,351.31 L732.65,351.53 L733.22,351.12 L733.79,351.45 L734.36,351.43 L734.93,351.37 L735.5,351.24 L736.07,351.1 L736.64,351.1 L737.21,350.96 L737.78,350.95 L738.35,351.05 L738.92,350.8 L739.48,350.75 L740.05,351.07 L740.62,351.19 L741.19,351.05 L741.76,350.72 L742.33,350.71 L742.9,350.67 L743.47,350.91 L744.04,350.97 L744.61,350.8 L745.18,350.57 L745.75,350.99 L746.32,350.88 L746.89,350.55 L747.46,350.86 L748.03,350.86 L748.6,350.52 L749.17,350.62 L749.74,350.32 L750.31,350.46 L750.87,350.35 L751.44,350.69 L752.01,350.55 L752.58,350.28 L753.15,350.49 L753.72,350.15 L754.29,350.09 L754.86,350.23 L755.43,350.4 L756,350.41" fill="none" stroke="#15157a" stroke-width="1.6" stroke-linejoin="round" stroke-linecap="round"/>
<rect x="598.6" y="349.9" width="159.1" height="122.4" fill="none" stroke="#666" stroke-width="1.1"/>
<line x1="598.6" y1="351.8" x2="595.6" y2="351.8" stroke="#444" stroke-width="1"/>
<text x="593.6" y="355.4" font-size="10.8" text-anchor="end" font-weight="bold" fill="#1c1c1c">0</text>
<line x1="598.6" y1="370.25" x2="595.6" y2="370.25" stroke="#444" stroke-width="1"/>
<text x="593.6" y="373.85" font-size="10.8" text-anchor="end" font-weight="bold" fill="#1c1c1c">-1</text>
<line x1="598.6" y1="388.7" x2="595.6" y2="388.7" stroke="#444" stroke-width="1"/>
<text x="593.6" y="392.3" font-size="10.8" text-anchor="end" font-weight="bold" fill="#1c1c1c">-2</text>
<line x1="598.6" y1="407.15" x2="595.6" y2="407.15" stroke="#444" stroke-width="1"/>
<text x="593.6" y="410.75" font-size="10.8" text-anchor="end" font-weight="bold" fill="#1c1c1c">-3</text>
<line x1="598.6" y1="425.6" x2="595.6" y2="425.6" stroke="#444" stroke-width="1"/>
<text x="593.6" y="429.2" font-size="10.8" text-anchor="end" font-weight="bold" fill="#1c1c1c">-4</text>
<line x1="598.6" y1="444.05" x2="595.6" y2="444.05" stroke="#444" stroke-width="1"/>
<text x="593.6" y="447.65" font-size="10.8" text-anchor="end" font-weight="bold" fill="#1c1c1c">-5</text>
<line x1="598.6" y1="462.5" x2="595.6" y2="462.5" stroke="#444" stroke-width="1"/>
<text x="593.6" y="466.1" font-size="10.8" text-anchor="end" font-weight="bold" fill="#1c1c1c">-6</text>
<line x1="598.6" y1="361.03" x2="597" y2="361.03" stroke="#444" stroke-width="1"/>
<line x1="598.6" y1="379.48" x2="597" y2="379.48" stroke="#444" stroke-width="1"/>
<line x1="598.6" y1="397.93" x2="597" y2="397.93" stroke="#444" stroke-width="1"/>
<line x1="598.6" y1="416.38" x2="597" y2="416.38" stroke="#444" stroke-width="1"/>
<line x1="598.6" y1="434.82" x2="597" y2="434.82" stroke="#444" stroke-width="1"/>
<line x1="598.6" y1="453.27" x2="597" y2="453.27" stroke="#444" stroke-width="1"/>
<line x1="607" y1="472.3" x2="607" y2="473.8" stroke="#555" stroke-width="1"/>
<line x1="625.33" y1="472.3" x2="625.33" y2="474.8" stroke="#555" stroke-width="1"/>
<line x1="643.65" y1="472.3" x2="643.65" y2="473.8" stroke="#555" stroke-width="1"/>
<line x1="661.98" y1="472.3" x2="661.98" y2="474.8" stroke="#555" stroke-width="1"/>
<line x1="680.3" y1="472.3" x2="680.3" y2="473.8" stroke="#555" stroke-width="1"/>
<line x1="698.62" y1="472.3" x2="698.62" y2="474.8" stroke="#555" stroke-width="1"/>
<line x1="716.95" y1="472.3" x2="716.95" y2="473.8" stroke="#555" stroke-width="1"/>
<line x1="735.27" y1="472.3" x2="735.27" y2="474.8" stroke="#555" stroke-width="1"/>
<line x1="753.6" y1="472.3" x2="753.6" y2="473.8" stroke="#555" stroke-width="1"/>
<text x="625.33" y="484" font-size="9.8" text-anchor="middle" font-weight="bold" fill="#333">0.4</text>
<text x="661.98" y="484" font-size="9.8" text-anchor="middle" font-weight="bold" fill="#333">0.6</text>
<text x="698.62" y="484" font-size="9.8" text-anchor="middle" font-weight="bold" fill="#333">0.8</text>
<text x="735.27" y="484" font-size="9.8" text-anchor="middle" font-weight="bold" fill="#333">1.0</text>
<text x="664.5" y="500.2" font-size="12.5" text-anchor="middle" font-weight="bold" fill="#222">E / V (Vs RHE)</text>
<text x="576.8" y="406.5" font-size="14.5" text-anchor="middle" font-weight="bold" fill="#1c1c1c" transform="rotate(-90 576.8 406.5)">i / (mA / cm<tspan font-size="9" dy="-7">2</tspan><tspan font-size="9" dx="-5" dy="11">GC</tspan><tspan dy="-4">)</tspan></text>
<text x="732.6" y="386" font-size="10.5" text-anchor="middle" font-weight="bold" fill="#333">r.p.m</text>
<line x1="718.4" y1="401.5" x2="733" y2="401.5" stroke="#000000" stroke-width="1.6"/>
<text x="733.5" y="405.1" font-size="10" text-anchor="start" font-weight="bold" fill="#333">200</text>
<line x1="718.4" y1="414" x2="733" y2="414" stroke="#ff0000" stroke-width="1.6"/>
<text x="733.5" y="417.6" font-size="10" text-anchor="start" font-weight="bold" fill="#333">400</text>
<line x1="718.4" y1="426.8" x2="733" y2="426.8" stroke="#0000ff" stroke-width="1.6"/>
<text x="733.5" y="430.4" font-size="10" text-anchor="start" font-weight="bold" fill="#333">800</text>
<line x1="718.4" y1="439.3" x2="733" y2="439.3" stroke="#ff00ff" stroke-width="1.6"/>
<text x="733.5" y="442.9" font-size="10" text-anchor="start" font-weight="bold" fill="#333">1200</text>
<line x1="718.4" y1="452.3" x2="733" y2="452.3" stroke="#108a10" stroke-width="1.6"/>
<text x="733.5" y="455.9" font-size="10" text-anchor="start" font-weight="bold" fill="#333">1600</text>
<line x1="718.4" y1="464.8" x2="733" y2="464.8" stroke="#15157a" stroke-width="1.6"/>
<text x="733.5" y="468.4" font-size="10" text-anchor="start" font-weight="bold" fill="#333">2000</text>
<path d="M1016.72,389.22 L1016.72,379.84 L1016.72,378.88 L1017.85,377.55 L1018.98,376.63 L1020.11,375.79 L1021.23,375.3 L1022.36,374.51 L1023.49,373.76 L1024.62,373.21 L1025.75,372.81 L1026.87,371.87 L1028,371.34 L1029.13,370.76 L1030.26,370.19 L1031.38,369.53 L1032.51,369.35 L1033.64,368.94 L1034.77,368.27 L1035.9,368.32 L1037.02,367.49 L1038.15,367.25 L1039.28,367 L1040.41,366.66 L1041.54,366.55 L1042.66,365.61 L1043.79,365.34 L1044.92,365.03 L1046.05,364.77 L1047.18,364.68 L1048.3,364.53 L1049.43,364.42 L1050.56,364.22 L1051.69,363.77 L1052.82,363.47 L1053.94,363.15 L1055.07,362.73 L1056.2,362.47 L1057.33,362.32 L1058.46,361.91 L1059.58,362.02 L1060.71,361.51 L1061.84,361.78 L1062.97,361.1 L1064.09,361.18 L1065.22,360.61 L1066.35,360.36 L1067.48,360.3 L1068.61,360.16 L1069.73,360.26 L1070.86,359.51 L1071.99,359.22 L1073.12,359.08 L1074.25,359.44 L1075.37,358.72 L1076.5,359.17 L1077.63,358.49 L1078.76,358.85 L1079.89,358.32 L1081.01,358.57 L1082.14,358.11 L1083.27,357.92 L1084.4,357.54 L1085.53,357.68 L1086.65,357.59 L1087.78,357.8 L1088.91,357.39 L1090.04,357.5 L1091.16,357.1 L1092.29,357.11 L1093.42,356.99 L1094.55,356.54 L1095.68,356.75 L1096.8,356.73 L1097.93,356.42 L1099.06,356.15 L1100.19,356.04 L1101.32,356.12 L1102.44,356.39 L1103.57,355.95 L1104.7,355.7 L1105.83,355.78 L1106.96,355.87 L1108.08,355.85 L1109.21,355.25 L1110.34,355.4 L1111.47,355.02 L1112.6,355.12 L1113.72,355.14 L1114.85,354.86 L1115.98,354.74 L1117.11,355.12 L1118.23,354.63 L1119.36,354.93 L1120.49,354.42 L1121.62,354.36 L1122.75,354.3 L1123.87,354.65 L1125,354.07 L1126.13,354.08 L1127.26,354.28 L1128.39,354.09 L1129.51,354.33 L1130.64,353.85 L1131.77,353.61 L1132.9,354 L1134.03,353.72 L1135.15,353.74 L1136.28,353.44 L1137.41,353.89 L1138.54,353.72 L1139.67,353.29 L1140.79,353.3 L1141.92,353.07 L1143.05,353.61 L1144.18,352.96 L1145.31,353.09 L1146.43,352.89 L1147.56,353.02 L1148.69,353.05 L1149.82,352.75 L1150.94,352.91 L1152.07,352.92 L1153.2,352.55 L1154.33,353.02 L1155.46,352.54 L1156.58,352.61 L1157.71,352.82 L1158.84,352.31 L1159.97,352.04 L1161.1,352.15 L1162.22,351.98 L1163.35,351.92 L1164.48,352.43 L1165.61,352.18 L1166.74,351.79 L1167.86,351.88 L1168.99,351.81 L1170.12,351.56 L1171.25,351.6 L1172.38,351.37 L1173.5,351.94 L1174.63,351.54 L1175.76,351.53 L1176.89,351.68 L1178.01,351.43 L1179.14,351.3 L1180.27,351.41 L1181.4,351.21 L1182.53,351.01 L1183.65,351.25 L1184.78,350.71 L1185.91,350.99 L1187.04,350.64 L1188.17,350.82 L1189.29,350.53 L1190.42,350.71 L1191.55,350.53 L1192.68,350.71 L1193.81,350.4 L1194.93,350.19 L1196.06,350.48 L1197.19,350.3 L1198.32,350.47 L1199.45,350.35 L1200.57,349.87 L1201.7,350.22 L1202.83,349.78 L1203.96,350.36 L1205.08,350.08 L1206.21,350.04 L1207.34,349.85 L1208.47,349.59 L1209.6,349.73 L1210.72,349.68 L1211.85,349.56 L1212.98,350.08 L1214.11,349.54 L1215.24,349.68 L1216.36,349.45 L1217.49,349.84 L1218.62,349.29 L1219.75,349.86 L1220.88,349.26 L1222,349.29 L1223.13,349.38 L1224.26,349.26 L1225.39,349.07 L1226.52,349.53 L1227.64,348.98 L1228.77,349.11 L1229.9,348.88 L1231.03,348.88 L1232.15,349.07 L1233.28,349.17 L1234.41,348.75 L1235.54,349.03 L1236.67,348.93 L1237.79,349.34 L1238.92,349.31 L1240.05,349.01 L1241.18,349.07 L1242.31,348.57 L1243.43,348.89 L1244.56,349.11 L1245.69,349.06 L1246.82,348.92 L1247.95,348.93 L1249.07,349.02 L1250.2,348.75 L1251.33,348.43 L1252.46,348.76 L1253.59,348.42 L1254.71,348.85 L1255.84,348.34 L1256.97,348.77 L1258.1,348.6 L1259.23,348.57 L1260.35,348.24 L1261.48,348.39 L1262.61,348.4 L1263.74,348.7 L1264.86,348.47 L1265.99,348.47 L1267.12,348.61 L1268.25,348.2 L1269.38,348.31 L1270.5,348.23 L1271.63,348.11 L1272.76,348 L1273.89,348 L1275.02,347.79 L1276.14,348.36 L1277.27,347.84 L1278.4,348.23 L1279.53,347.85 L1280.66,347.81 L1281.78,347.58 L1282.91,347.87 L1284.04,347.64 L1285.17,347.73 L1286.3,347.98 L1287.42,348.07 L1288.55,347.43 L1289.68,347.86 L1290.81,347.95 L1291.93,347.9 L1293.06,347.84 L1294.19,347.79 L1295.32,347.56 L1296.45,347.22 L1297.57,347.3 L1298.7,347.69 L1299.83,347.38 L1300.96,347.41 L1302.09,347.54 L1303.21,347.31 L1304.34,347.18 L1305.47,347.17 L1306.6,347.59 L1307.73,347.23 L1308.85,347.41 L1309.98,347.34 L1311.11,347.08 L1312.24,347.09 L1313.37,347.13 L1314.49,347.12 L1315.62,347.14 L1316.75,346.85 L1317.88,346.98 L1319,347.17 L1320.13,346.81 L1321.26,346.9 L1322.39,347.11 L1323.52,347 L1324.64,346.92 L1325.77,346.56 L1326.9,346.94 L1328.03,346.96 L1329.16,346.5 L1330.28,346.51 L1331.41,346.99 L1332.54,346.66 L1333.67,346.87 L1334.8,346.33 L1335.92,346.89 L1337.05,346.65 L1338.18,346.37 L1339.31,346.67 L1340.44,346.53 L1341.56,346.3 L1342.69,346.81 L1343.82,346.11 L1344.95,346.29 L1346.07,346.63 L1347.2,346.63 L1348.33,346.12 L1349.46,346.64 L1350.59,346.01 L1351.71,346.17 L1352.84,346.45 L1353.97,345.97" fill="none" stroke="#0000ff" stroke-width="2.7" stroke-linejoin="round" stroke-linecap="round"/>
<path d="M1019.83,376.58 L1021.7,373.31 L1023.56,374.54" fill="none" stroke="#0000ff" stroke-width="2.6" stroke-linejoin="round" stroke-linecap="round"/>
<path d="M1016.35,592 L1016.47,561.4 L1016.6,528.76 L1016.6,528.76 L1016.83,525.7 L1017.06,522.65 L1017.29,519.71 L1017.52,516.96 L1017.75,514.51 L1017.98,512.44 L1018.21,510.85 L1018.44,509.59 L1018.67,508.4 L1018.9,507.28 L1019.13,506.23 L1019.36,505.24 L1019.59,504.31 L1019.82,503.43 L1020.05,502.61 L1020.28,501.84 L1020.51,501.11 L1020.74,500.43 L1020.97,499.78 L1021.2,499.17 L1021.43,498.6 L1021.66,498.05 L1021.89,497.54 L1022.12,497.04 L1022.35,496.57 L1022.58,496.11 L1022.81,495.66 L1023.03,495.23 L1023.26,494.8 L1023.49,494.38 L1023.72,493.98 L1023.95,493.58 L1024.18,493.19 L1024.41,492.81 L1024.64,492.43 L1024.87,492.07 L1025.1,491.71 L1025.33,491.36 L1025.56,491.02 L1025.79,490.69 L1026.02,490.36 L1026.25,490.04 L1026.48,489.73 L1026.71,489.42 L1026.94,489.12 L1027.17,488.82 L1027.4,488.53 L1027.63,488.25 L1027.86,487.97 L1028.09,487.7 L1028.32,487.43 L1028.55,487.17 L1028.78,486.91 L1029.01,486.65 L1029.24,486.4 L1029.47,486.15 L1029.7,485.91 L1029.93,485.67 L1030.16,485.43 L1030.39,485.2 L1030.62,484.97 L1030.85,484.74 L1031.08,484.51 L1031.31,484.29 L1031.54,484.06 L1031.77,483.84 L1032,483.62 L1032.23,483.4 L1032.46,483.19 L1032.69,482.97 L1032.92,482.75 L1033.15,482.54 L1033.38,482.32 L1033.61,482.11 L1033.84,481.89 L1034.07,481.67 L1034.3,481.46 L1034.53,481.24 L1034.76,481.02 L1036.22,479.69 L1037.68,478.43 L1039.13,477.22 L1040.59,476.08 L1042.05,475 L1043.51,473.98 L1044.96,473.02 L1046.42,472.1 L1047.88,471.25 L1049.34,470.44 L1050.79,469.67 L1052.25,468.94 L1053.71,468.24 L1055.17,467.57 L1056.62,466.91 L1058.08,466.28 L1059.54,465.65 L1061,465.03 L1062.45,464.41 L1063.91,463.79 L1065.37,463.17 L1066.83,462.55 L1068.28,461.93 L1069.74,461.33 L1071.2,460.72 L1072.66,460.13 L1074.11,459.53 L1075.57,458.95 L1077.03,458.37 L1078.49,457.8 L1079.95,457.23 L1081.4,456.67 L1082.86,456.12 L1084.32,455.57 L1085.78,455.03 L1087.23,454.49 L1088.69,453.97 L1090.15,453.45 L1091.61,452.94 L1093.06,452.44 L1094.52,451.94 L1095.98,451.45 L1097.44,450.98 L1098.89,450.51 L1100.35,450.04 L1101.81,449.58 L1103.27,449.13 L1104.72,448.69 L1106.18,448.24 L1107.64,447.81 L1109.1,447.37 L1110.55,446.94 L1112.01,446.51 L1113.47,446.08 L1114.93,445.65 L1116.38,445.23 L1117.84,444.8 L1119.3,444.37 L1120.76,443.94 L1122.21,443.51 L1123.67,443.07 L1125.13,442.64 L1126.59,442.2 L1128.05,441.77 L1129.5,441.33 L1130.96,440.9 L1132.42,440.48 L1133.88,440.05 L1135.33,439.63 L1136.79,439.21 L1138.25,438.81 L1139.71,438.4 L1141.16,438 L1142.62,437.58 L1144.08,437.14 L1145.54,436.71 L1146.99,436.29 L1148.45,435.92 L1149.91,435.6 L1151.37,435.36 L1152.82,435.17 L1154.28,435.01 L1155.74,434.87 L1157.2,434.75 L1158.65,434.66 L1160.11,434.59 L1161.57,434.54 L1163.03,434.5 L1164.48,434.46 L1165.94,434.43 L1167.4,434.4 L1168.86,434.38 L1170.32,434.34 L1171.77,434.31 L1173.23,434.26 L1174.69,434.2 L1176.15,434.13 L1177.6,434.02 L1179.06,433.88 L1180.52,433.72 L1181.98,433.54 L1183.43,433.34 L1184.89,433.14 L1186.35,432.93 L1187.81,432.72 L1189.26,432.52 L1190.72,432.33 L1192.18,432.14 L1193.64,431.94 L1195.09,431.74 L1196.55,431.54 L1198.01,431.33 L1199.47,431.12 L1200.92,430.92 L1202.38,430.71 L1203.84,430.51 L1205.3,430.31 L1206.75,430.1 L1208.21,429.9 L1209.67,429.7 L1211.13,429.49 L1212.58,429.29 L1214.04,429.09 L1215.5,428.88 L1216.96,428.68 L1218.42,428.47 L1219.87,428.27 L1221.33,428.06 L1222.79,427.86 L1224.25,427.66 L1225.7,427.45 L1227.16,427.25 L1228.62,427.05 L1230.08,426.85 L1231.53,426.65 L1232.99,426.45 L1234.45,426.26 L1235.91,426.06 L1237.36,425.87 L1238.82,425.67 L1240.28,425.48 L1241.74,425.29 L1243.19,425.11 L1244.65,424.92 L1246.11,424.74 L1247.57,424.55 L1249.02,424.37 L1250.48,424.19 L1251.94,424.02 L1253.4,423.84 L1254.85,423.66 L1256.31,423.48 L1257.77,423.31 L1259.23,423.14 L1260.69,422.96 L1262.14,422.79 L1263.6,422.62 L1265.06,422.45 L1266.52,422.28 L1267.97,422.11 L1269.43,421.94 L1270.89,421.77 L1272.35,421.61 L1273.8,421.44 L1275.26,421.28 L1276.72,421.11 L1278.18,420.95 L1279.63,420.79 L1281.09,420.62 L1282.55,420.46 L1284.01,420.3 L1285.46,420.14 L1286.92,419.98 L1288.38,419.83 L1289.84,419.67 L1291.29,419.51 L1292.75,419.35 L1294.21,419.2 L1295.67,419.04 L1297.12,418.89 L1298.58,418.73 L1300.04,418.58 L1301.5,418.43 L1302.96,418.27 L1304.41,418.12 L1305.87,417.97 L1307.33,417.82 L1308.79,417.67 L1310.24,417.52 L1311.7,417.37 L1313.16,417.22 L1314.62,417.07 L1316.07,416.92 L1317.53,416.78 L1318.99,416.63 L1320.45,416.48 L1321.9,416.34 L1323.36,416.19 L1324.82,416.05 L1326.28,415.91 L1327.73,415.76 L1329.19,415.62 L1330.65,415.48 L1332.11,415.34 L1333.56,415.2 L1335.02,415.06 L1336.48,414.92 L1337.94,414.78 L1339.39,414.64 L1340.85,414.5 L1342.31,414.37 L1343.77,414.23 L1345.22,414.09 L1346.68,413.96 L1348.14,413.83 L1349.6,413.69 L1351.06,413.56 L1352.51,413.43 L1353.97,413.3" fill="none" stroke="#000000" stroke-width="2.8" stroke-linejoin="round" stroke-linecap="round"/>
<rect x="1009.5" y="337.8" width="379.8" height="264.4" fill="none" stroke="#1c1c1c" stroke-width="2"/>
<line x1="1016.1" y1="602.2" x2="1016.1" y2="608.2" stroke="#1c1c1c" stroke-width="1.8"/>
<line x1="1078.3" y1="602.2" x2="1078.3" y2="608.2" stroke="#1c1c1c" stroke-width="1.8"/>
<line x1="1140.5" y1="602.2" x2="1140.5" y2="608.2" stroke="#1c1c1c" stroke-width="1.8"/>
<line x1="1202.7" y1="602.2" x2="1202.7" y2="608.2" stroke="#1c1c1c" stroke-width="1.8"/>
<line x1="1264.9" y1="602.2" x2="1264.9" y2="608.2" stroke="#1c1c1c" stroke-width="1.8"/>
<line x1="1327.1" y1="602.2" x2="1327.1" y2="608.2" stroke="#1c1c1c" stroke-width="1.8"/>
<line x1="1389.3" y1="602.2" x2="1389.3" y2="608.2" stroke="#1c1c1c" stroke-width="1.8"/>
<line x1="1047.2" y1="602.2" x2="1047.2" y2="605.7" stroke="#1c1c1c" stroke-width="1.8"/>
<line x1="1109.4" y1="602.2" x2="1109.4" y2="605.7" stroke="#1c1c1c" stroke-width="1.8"/>
<line x1="1171.6" y1="602.2" x2="1171.6" y2="605.7" stroke="#1c1c1c" stroke-width="1.8"/>
<line x1="1233.8" y1="602.2" x2="1233.8" y2="605.7" stroke="#1c1c1c" stroke-width="1.8"/>
<line x1="1296" y1="602.2" x2="1296" y2="605.7" stroke="#1c1c1c" stroke-width="1.8"/>
<line x1="1358.2" y1="602.2" x2="1358.2" y2="605.7" stroke="#1c1c1c" stroke-width="1.8"/>
<text x="1016.1" y="623.3" font-size="15.5" text-anchor="middle" font-weight="bold" fill="#1c1c1c">0</text>
<text x="1078.3" y="623.3" font-size="15.5" text-anchor="middle" font-weight="bold" fill="#1c1c1c">1000</text>
<text x="1140.5" y="623.3" font-size="15.5" text-anchor="middle" font-weight="bold" fill="#1c1c1c">2000</text>
<text x="1202.7" y="623.3" font-size="15.5" text-anchor="middle" font-weight="bold" fill="#1c1c1c">3000</text>
<text x="1264.9" y="623.3" font-size="15.5" text-anchor="middle" font-weight="bold" fill="#1c1c1c">4000</text>
<text x="1327.1" y="623.3" font-size="15.5" text-anchor="middle" font-weight="bold" fill="#1c1c1c">5000</text>
<text x="1389.3" y="623.3" font-size="15.5" text-anchor="middle" font-weight="bold" fill="#1c1c1c">6000</text>
<line x1="1009.5" y1="602.2" x2="1003.5" y2="602.2" stroke="#1c1c1c" stroke-width="1.8"/>
<line x1="1009.5" y1="561.4" x2="1003.5" y2="561.4" stroke="#1c1c1c" stroke-width="1.8"/>
<line x1="1009.5" y1="520.6" x2="1003.5" y2="520.6" stroke="#1c1c1c" stroke-width="1.8"/>
<line x1="1009.5" y1="479.8" x2="1003.5" y2="479.8" stroke="#1c1c1c" stroke-width="1.8"/>
<line x1="1009.5" y1="439" x2="1003.5" y2="439" stroke="#1c1c1c" stroke-width="1.8"/>
<line x1="1009.5" y1="398.2" x2="1003.5" y2="398.2" stroke="#1c1c1c" stroke-width="1.8"/>
<line x1="1009.5" y1="357.4" x2="1003.5" y2="357.4" stroke="#1c1c1c" stroke-width="1.8"/>
<line x1="1009.5" y1="581.8" x2="1006" y2="581.8" stroke="#1c1c1c" stroke-width="1.8"/>
<line x1="1009.5" y1="541" x2="1006" y2="541" stroke="#1c1c1c" stroke-width="1.8"/>
<line x1="1009.5" y1="500.2" x2="1006" y2="500.2" stroke="#1c1c1c" stroke-width="1.8"/>
<line x1="1009.5" y1="459.4" x2="1006" y2="459.4" stroke="#1c1c1c" stroke-width="1.8"/>
<line x1="1009.5" y1="418.6" x2="1006" y2="418.6" stroke="#1c1c1c" stroke-width="1.8"/>
<line x1="1009.5" y1="377.8" x2="1006" y2="377.8" stroke="#1c1c1c" stroke-width="1.8"/>
<text x="1000.7" y="605.46" font-size="15.5" text-anchor="end" font-weight="bold" fill="#1c1c1c">-0.7</text>
<text x="1000.7" y="564.66" font-size="15.5" text-anchor="end" font-weight="bold" fill="#1c1c1c">-0.6</text>
<text x="1000.7" y="523.86" font-size="15.5" text-anchor="end" font-weight="bold" fill="#1c1c1c">-0.5</text>
<text x="1000.7" y="483.06" font-size="15.5" text-anchor="end" font-weight="bold" fill="#1c1c1c">-0.4</text>
<text x="1000.7" y="442.25" font-size="15.5" text-anchor="end" font-weight="bold" fill="#1c1c1c">-0.3</text>
<text x="1000.7" y="401.46" font-size="15.5" text-anchor="end" font-weight="bold" fill="#1c1c1c">-0.2</text>
<text x="1000.7" y="360.65" font-size="15.5" text-anchor="end" font-weight="bold" fill="#1c1c1c">-0.1</text>
<text x="966.7" y="457.7" font-size="20" text-anchor="middle" font-weight="bold" fill="#1c1c1c" transform="rotate(-90 966.7 457.7)">i / mA</text>
<text x="1184.2" y="645" font-size="20" text-anchor="middle" font-weight="bold" fill="#1c1c1c">t / s</text>
<text x="1358.5" y="369.9" font-size="25" text-anchor="start" font-weight="bold" fill="#1c1c1c">(f)</text>
<text x="1269.5" y="488.4" font-size="15" text-anchor="middle" font-weight="bold" fill="#1c1c1c">E / V (Vs RHE)</text>
<line x1="1189.5" y1="513.6" x2="1218" y2="513.6" stroke="#0000ff" stroke-width="2.2"/>
<text x="1220.3" y="519" font-size="15" text-anchor="start" font-weight="bold" fill="#1c1c1c" letter-spacing="0.3">Ag<tspan font-size="8.5" dy="4.5">10</tspan><tspan dy="-4.5">@Pd</tspan><tspan font-size="8.5" dy="4.5">3</tspan><tspan dy="-4.5">/C-0.86V</tspan></text>
<line x1="1189.5" y1="537" x2="1218" y2="537" stroke="#000000" stroke-width="2.2"/>
<text x="1220.3" y="542.4" font-size="15" text-anchor="start" font-weight="bold" fill="#1c1c1c" letter-spacing="0.3">Pd/C-0.86V</text>
</svg></body></html>
